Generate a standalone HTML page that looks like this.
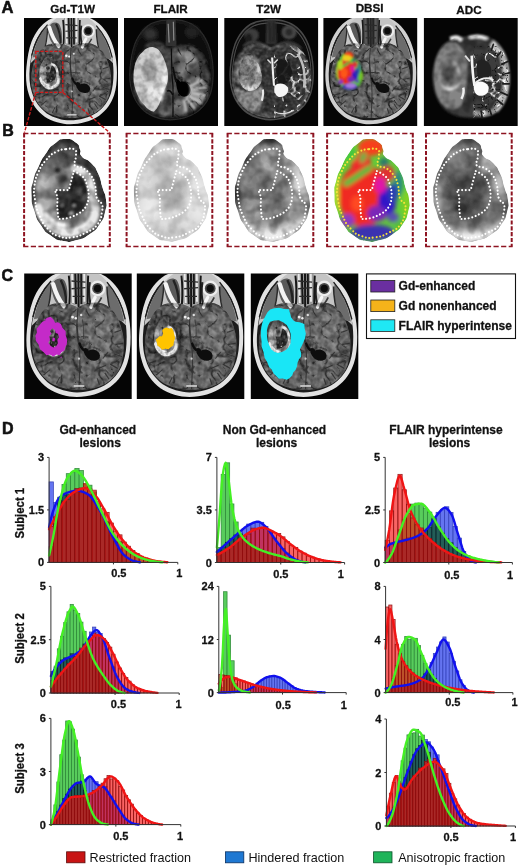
<!DOCTYPE html>
<html lang="en"><head><meta charset="utf-8"><title>Figure</title>
<style>html,body{margin:0;padding:0;background:#fff;}body{width:520px;height:866px;overflow:hidden;}svg{display:block;font-family:"Liberation Sans", Arial, Helvetica, sans-serif;fill:#111;}</style></head><body>
<svg width="520" height="866" viewBox="0 0 520 866">
<rect width="520" height="866" fill="#fff"/>
<defs>
<filter id="b05" x="-30%" y="-30%" width="160%" height="160%"><feGaussianBlur stdDeviation="0.5"/></filter>
<filter id="b1" x="-30%" y="-30%" width="160%" height="160%"><feGaussianBlur stdDeviation="1.0"/></filter>
<filter id="b2" x="-30%" y="-30%" width="160%" height="160%"><feGaussianBlur stdDeviation="2.0"/></filter>
<filter id="b3" x="-30%" y="-30%" width="160%" height="160%"><feGaussianBlur stdDeviation="3.0"/></filter>
<filter id="b5" x="-30%" y="-30%" width="160%" height="160%"><feGaussianBlur stdDeviation="5.0"/></filter>
<filter id="b8" x="-30%" y="-30%" width="160%" height="160%"><feGaussianBlur stdDeviation="8.0"/></filter>
<filter id="nz" x="0" y="0" width="100%" height="100%"><feTurbulence type="fractalNoise" baseFrequency="0.16" numOctaves="2" seed="3" result="t"/><feColorMatrix in="t" type="matrix" values="0 0 0 0 0  0 0 0 0 0  0 0 0 0 0  3.2 0 0 0 -1.25" result="a"/><feFlood flood-color="#fff" result="f"/><feComposite in="f" in2="a" operator="in" result="w"/><feComposite in="w" in2="SourceGraphic" operator="in"/></filter>
<filter id="nzd" x="0" y="0" width="100%" height="100%"><feTurbulence type="fractalNoise" baseFrequency="0.16" numOctaves="2" seed="23" result="t"/><feColorMatrix in="t" type="matrix" values="0 0 0 0 0  0 0 0 0 0  0 0 0 0 0  0 3.2 0 0 -1.25" result="a"/><feFlood flood-color="#000" result="f"/><feComposite in="f" in2="a" operator="in" result="w"/><feComposite in="w" in2="SourceGraphic" operator="in"/></filter>
<filter id="nz2" x="0" y="0" width="100%" height="100%"><feTurbulence type="fractalNoise" baseFrequency="0.09" numOctaves="2" seed="7" result="t"/><feColorMatrix in="t" type="matrix" values="0 0 0 0 0  0 0 0 0 0  0 0 0 0 0  3.2 0 0 0 -1.25" result="a"/><feFlood flood-color="#fff" result="f"/><feComposite in="f" in2="a" operator="in" result="w"/><feComposite in="w" in2="SourceGraphic" operator="in"/></filter>
<filter id="nz2d" x="0" y="0" width="100%" height="100%"><feTurbulence type="fractalNoise" baseFrequency="0.09" numOctaves="2" seed="27" result="t"/><feColorMatrix in="t" type="matrix" values="0 0 0 0 0  0 0 0 0 0  0 0 0 0 0  0 3.2 0 0 -1.25" result="a"/><feFlood flood-color="#000" result="f"/><feComposite in="f" in2="a" operator="in" result="w"/><feComposite in="w" in2="SourceGraphic" operator="in"/></filter>
<filter id="nz3" x="0" y="0" width="100%" height="100%"><feTurbulence type="fractalNoise" baseFrequency="0.3" numOctaves="1" seed="11" result="t"/><feColorMatrix in="t" type="matrix" values="0 0 0 0 0  0 0 0 0 0  0 0 0 0 0  3.2 0 0 0 -1.25" result="a"/><feFlood flood-color="#fff" result="f"/><feComposite in="f" in2="a" operator="in" result="w"/><feComposite in="w" in2="SourceGraphic" operator="in"/></filter>
<filter id="nz3d" x="0" y="0" width="100%" height="100%"><feTurbulence type="fractalNoise" baseFrequency="0.3" numOctaves="1" seed="31" result="t"/><feColorMatrix in="t" type="matrix" values="0 0 0 0 0  0 0 0 0 0  0 0 0 0 0  0 3.2 0 0 -1.25" result="a"/><feFlood flood-color="#000" result="f"/><feComposite in="f" in2="a" operator="in" result="w"/><feComposite in="w" in2="SourceGraphic" operator="in"/></filter>
<filter id="vd" x="0" y="0" width="100%" height="100%"><feTurbulence type="turbulence" baseFrequency="0.085" numOctaves="2" seed="4" result="t"/><feColorMatrix in="t" type="matrix" values="0 0 0 0 0  0 0 0 0 0  0 0 0 0 0  -6 0 0 0 1.15" result="a"/><feFlood flood-color="#000" result="f"/><feComposite in="f" in2="a" operator="in" result="w"/><feComposite in="w" in2="SourceGraphic" operator="in" result="x"/><feGaussianBlur in="x" stdDeviation="0.45"/></filter>
<filter id="vw" x="0" y="0" width="100%" height="100%"><feTurbulence type="turbulence" baseFrequency="0.075" numOctaves="2" seed="12" result="t"/><feColorMatrix in="t" type="matrix" values="0 0 0 0 0  0 0 0 0 0  0 0 0 0 0  -6.5 0 0 0 1.1" result="a"/><feFlood flood-color="#fff" result="f"/><feComposite in="f" in2="a" operator="in" result="w"/><feComposite in="w" in2="SourceGraphic" operator="in" result="x"/><feGaussianBlur in="x" stdDeviation="0.45"/></filter>
<filter id="vw2" x="0" y="0" width="100%" height="100%"><feTurbulence type="turbulence" baseFrequency="0.11" numOctaves="2" seed="5" result="t"/><feColorMatrix in="t" type="matrix" values="0 0 0 0 0  0 0 0 0 0  0 0 0 0 0  -7 0 0 0 1.0" result="a"/><feFlood flood-color="#fff" result="f"/><feComposite in="f" in2="a" operator="in" result="w"/><feComposite in="w" in2="SourceGraphic" operator="in" result="x"/><feGaussianBlur in="x" stdDeviation="0.45"/></filter>
<filter id="vd2" x="0" y="0" width="100%" height="100%"><feTurbulence type="turbulence" baseFrequency="0.13" numOctaves="2" seed="8" result="t"/><feColorMatrix in="t" type="matrix" values="0 0 0 0 0  0 0 0 0 0  0 0 0 0 0  -7 0 0 0 1.0" result="a"/><feFlood flood-color="#000" result="f"/><feComposite in="f" in2="a" operator="in" result="w"/><feComposite in="w" in2="SourceGraphic" operator="in" result="x"/><feGaussianBlur in="x" stdDeviation="0.45"/></filter>
<clipPath id="cprh"><path d="M53,30 L100,30 L100,110 L53,110 Z"/></clipPath>
<clipPath id="cpimg"><rect x="0" y="0" width="100" height="115"/></clipPath>
<clipPath id="cpbrain"><path d="M50,31 C56,27 66,25 74,28 C82,31 88,40 91,52 C94,62 93,74 90,84 C86,94 79,100 70,103.5 C63,106 56,106.5 49,106.5 C42,106.5 34,105 27,101.5 C19,97 13,90 10,81 C7,72 7,62 9,53 C11,43 16,34 24,29 C32,25 42,27 50,31 Z"/></clipPath>
<clipPath id="cphead"><path d="M52,-3 C62,-3 72,-1 80,6 C87,12 93,22 96,34 C98,42 99,50 99,58 C99,68 98,76 96,82 C93,91 88,98 80,104 C71,110 60,113 49,113 C40,113 30,110 22,105 C14,99 8,91 5,81 C2,72 1.5,62 2.5,52 C3.5,42 5,33 8,25 C12,15 18,7 26,2 C33,-2 44,-3 52,-3 Z"/></clipPath>
<symbol id="t1" viewBox="0 0 100 115" preserveAspectRatio="none" overflow="hidden">
<rect x="-2" y="-2" width="104" height="119" fill="#050505"/>
<g clip-path="url(#cpimg)">
<g filter="url(#b05)">
<path d="M52,-3 C62,-3 72,-1 80,6 C87,12 93,22 96,34 C98,42 99,50 99,58 C99,68 98,76 96,82 C93,91 88,98 80,104 C71,110 60,113 49,113 C40,113 30,110 22,105 C14,99 8,91 5,81 C2,72 1.5,62 2.5,52 C3.5,42 5,33 8,25 C12,15 18,7 26,2 C33,-2 44,-3 52,-3 Z" fill="#e2e2e2"/>
<path d="M52,-3 C62,-3 72,-1 80,6 C87,12 93,22 96,34 C98,42 99,50 99,58 C99,68 98,76 96,82 C93,91 88,98 80,104 C71,110 60,113 49,113 C40,113 30,110 22,105 C14,99 8,91 5,81 C2,72 1.5,62 2.5,52 C3.5,42 5,33 8,25 C12,15 18,7 26,2 C33,-2 44,-3 52,-3 Z" transform="translate(50,58) scale(0.925) translate(-50,-58)" fill="#1e1e1e"/>
<path d="M7,48 C10,28 20,8 38,-2 L66,-2 C82,8 92,28 95,48 C82,34 64,30 50,34 C36,30 20,34 7,48 Z" fill="#c4c4c4"/>
<path d="M9,42 C11,30 16,18 24,9 C26,17 23,28 19,40 Z" fill="#6c6c6c"/>
<path d="M93,44 C91,32 86,20 78,10 C76,18 79,30 83,42 Z" fill="#6c6c6c"/>
<path d="M8,40 C11,27 17,15 25,7 M94,42 C91,29 85,17 77,8" stroke="#1c1c1c" stroke-width="1.3" fill="none"/>
<path d="M20,40 C23,30 25,20 25,10 M82,42 C79,32 77,22 77,12" stroke="#2a2a2a" stroke-width="1.4" fill="none"/>
<path d="M50,31 C56,27 66,25 74,28 C82,31 88,40 91,52 C94,62 93,74 90,84 C86,94 79,100 70,103.5 C63,106 56,106.5 49,106.5 C42,106.5 34,105 27,101.5 C19,97 13,90 10,81 C7,72 7,62 9,53 C11,43 16,34 24,29 C32,25 42,27 50,31 Z" fill="#626262"/>
<path d="M26,10 C28,5 33,3 37,6 C40,10 41,18 40,25 C39,30 36,32 33,30 C29,27 27,22 26,17 C25,14 25,12 26,10 Z" fill="#5a5a5a"/>
<path d="M27,10 C29,17 32,24 37,30" stroke="#f4f4f4" stroke-width="4" fill="none" stroke-linecap="round"/>
<path d="M34,6 C37,12 39,19 39,27" stroke="#222" stroke-width="2.2" fill="none"/>
<circle cx="68.3" cy="13.8" r="7.2" fill="#ececec"/>
<circle cx="68.3" cy="13.8" r="5" fill="#4a4a4a"/>
<circle cx="68.3" cy="13.8" r="3.4" fill="#0e0e0e"/>
<path d="M61,8 C60,14 60,22 62,29" stroke="#222" stroke-width="2" fill="none"/>
<path d="M66,22 C64,25 63,28 62,31" stroke="#f6f6f6" stroke-width="3" fill="none" stroke-linecap="round"/>
<path d="M72,22 C70,26 68,29 65,31" stroke="#3a3a3a" stroke-width="1.6" fill="none"/>
<path d="M42.5,-2 L58.5,-2 L58.5,26 C55,31 46,31 42.5,26 Z" fill="#9a9a9a"/>
<path d="M44.5,0 L45.5,27 M55.8,0 L56,26" stroke="#e8e8e8" stroke-width="1.8" fill="none"/>
<path d="M47.5,0 L48.3,28 M53,0 L53.2,28 M50.4,-2 L50.6,31" stroke="#121212" stroke-width="1.8" fill="none"/>
<path d="M41.5,2 C42.5,10 42.5,20 42,28 M59.5,2 C59,12 59,20 59,28" stroke="#161616" stroke-width="1.8" fill="none"/>
<path d="M44,7 L57,8 M44,14 L57,13 M45,21 L56,21" stroke="#2c2c2c" stroke-width="1.3" fill="none"/>
</g>
<g clip-path="url(#cpbrain)"><g filter="url(#b2)">
<ellipse cx="72" cy="62" rx="14" ry="26" fill="#7e7e7e" opacity="0.8"/>
<ellipse cx="66" cy="94" rx="14" ry="8" fill="#787878" opacity="0.7"/>
<ellipse cx="32" cy="92" rx="16" ry="10" fill="#747474" opacity="0.7"/>
<ellipse cx="50" cy="48" rx="9" ry="12" fill="#7a7a7a" opacity="0.7"/>
<ellipse cx="27" cy="60" rx="17" ry="24" fill="#3c3c3c" opacity="0.85"/>
</g></g>
<g clip-path="url(#cpbrain)">
<rect x="0" y="0" width="100" height="115" fill="#fff" filter="url(#nz3)" opacity="0.16"/>
<rect x="0" y="0" width="100" height="115" fill="#000" filter="url(#nzd)" opacity="0.3"/>
</g>
<g clip-path="url(#cpbrain)">
<rect x="0" y="0" width="100" height="115" fill="#888" filter="url(#vd)" opacity="0.48"/>
</g>
<g filter="url(#b05)">
<path d="M50,32 C49,44 48,56 51,66 C53,80 51,96 51,106" stroke="#303030" stroke-width="1.1" fill="none" opacity="0.9"/>
<path d="M55,69 C56.5,67.5 59,68 60,70.5 C64,68 70,70.5 70.5,75 C70.5,79.5 65,81 61,79 C58,77.5 55,73.5 55,69 Z" fill="#0c0c0c"/>
<path d="M51.5,64 C52,66 53,68 55,70" stroke="#111" stroke-width="2.2" fill="none" stroke-linecap="round"/>
<path d="M49,46 C49.5,52 50,58 51,63" stroke="#2a2a2a" stroke-width="1.1" fill="none" opacity="0.8"/>
<path d="M54,42 C55.5,48 55.5,54 55,60" stroke="#333" stroke-width="1" fill="none" opacity="0.7"/>
</g>
<g filter="url(#b05)" stroke="#262626" stroke-width="1.1" fill="none" opacity="0.75">
<path d="M90,52 L84,54 M92,64 L85,65 M91,76 L84,74 M87,87 L80,83 M79,97 L75,91 M70,102 L68,96"/>
<path d="M78,72 L73,78 M76,84 L69,87 M12,82 L18,80 M18,93 L24,88 M30,101 L33,95"/>
</g>
<g filter="url(#b05)"><circle cx="45" cy="40" r="1.3" fill="#eee"/><circle cx="48" cy="41" r="1.1" fill="#eee"/><circle cx="53" cy="38" r="1.1" fill="#ddd"/><circle cx="51" cy="78" r="1" fill="#ccc"/><path d="M46,103 L56,103" stroke="#ddd" stroke-width="1.4"/></g>
<g opacity="1.0" filter="url(#b05)"><g transform="translate(12.6,35.6) scale(0.337,0.39)"><g clip-path="url(#cpegg)">
<path d="M41.2,5.5 C48.1,5.2 46.7,5.5 51.6,9.0 C56.5,12.5 53.9,11.3 55.9,15.9 C57.9,20.5 53.8,18.2 57.6,22.8 C61.4,27.4 61.7,24.0 67.2,29.8 C72.7,35.6 70.4,32.1 74.1,40.2 C77.8,48.3 75.8,45.4 78.4,54.0 C81.0,62.6 81.0,58.0 81.9,66.1 C82.8,74.2 83.0,70.1 81.0,78.2 C79.0,86.3 81.0,82.8 75.8,90.3 C70.6,97.8 73.5,95.2 65.4,100.7 C57.3,106.2 60.2,104.5 51.6,106.8 C43.0,109.1 47.6,109.0 39.5,107.6 C31.4,106.2 34.8,107.7 27.3,102.5 C19.8,97.3 22.8,100.8 17.0,92.1 C11.2,83.4 13.2,86.9 10.0,76.5 C6.8,66.1 7.7,70.7 7.4,60.9 C7.1,51.1 6.9,56.3 9.2,47.1 C11.5,37.9 10.1,42.4 14.4,33.2 C18.7,24.0 16.7,27.2 22.2,19.4 C27.7,11.6 24.5,14.5 30.8,9.9 C37.1,5.3 34.3,5.8 41.2,5.5 Z" fill="#2e2e2e"/>
<g filter="url(#b2)">
<path d="M42.1,15.6 C47.2,15.0 48.1,14.4 50.7,16.3 C53.3,18.2 51.8,18.6 51.8,22.8 C51.8,27.0 49.2,29.0 50.7,32.0 C52.2,35.0 53.7,31.9 57.6,34.1 C61.5,36.3 61.9,35.8 65.4,40.2 C68.9,44.6 68.7,44.0 70.6,50.5 C72.5,57.0 70.9,59.3 72.7,64.4 C74.5,69.5 75.8,65.9 77.2,69.6 C78.6,73.3 79.0,72.4 77.9,78.2 C76.8,84.0 77.4,85.7 73.2,91.2 C69.0,96.7 68.7,95.6 62.0,99.0 C55.3,102.4 55.3,102.8 48.1,103.8 C40.9,104.8 41.6,105.0 35.1,102.8 C28.6,100.6 29.2,101.1 23.9,95.5 C18.6,89.9 18.7,89.5 15.2,81.7 C11.7,73.9 12.2,73.9 10.9,66.1 C9.6,58.3 9.5,59.7 10.4,52.3 C11.3,44.9 11.3,45.3 14.4,38.4 C17.5,31.5 17.6,31.6 22.2,26.3 C26.8,21.0 26.4,21.4 31.7,18.5 C37.0,15.6 37.0,16.2 42.1,15.6 Z" fill="#858585"/>
<ellipse cx="38" cy="26" rx="13" ry="11" fill="#555555"/>
<ellipse cx="42" cy="20" rx="8" ry="5" fill="#3c3c3c"/>
<ellipse cx="27" cy="34" rx="6" ry="9" fill="#6a6a6a" transform="rotate(25 27 34)"/>
<ellipse cx="19" cy="50" rx="6" ry="9" fill="#b6b6b6"/>
<ellipse cx="30" cy="48" rx="5" ry="6" fill="#a0a0a0"/>
<ellipse cx="20" cy="70" rx="7" ry="9" fill="#a8a8a8"/>
<ellipse cx="27" cy="60" rx="4" ry="5" fill="#6e6e6e"/>
<ellipse cx="38" cy="45" rx="6" ry="5" fill="#343434"/>
</g>
<g filter="url(#b1)">
<path d="M14,74 C18,86 26,95 40,99 C52,100 64,94 69,86 C73,78 71,70 68,62 C67,54 66,47 59,40 C56,37 53,35.5 51,35" stroke="#e9e9e9" stroke-width="8.2" fill="none" stroke-linecap="round"/>
<path d="M22,80 C26,88 34,92 44,92" stroke="#f6f6f6" stroke-width="4" fill="none" stroke-linecap="round"/>
<ellipse cx="33.5" cy="36.5" rx="2.6" ry="2.6" fill="#1c1c1c"/>
<path d="M49.8,37.6 C53,39 55.5,40.5 57.6,42.2 C60,44 61.5,46.5 62,48.8 C63.5,53 64.6,57 64.6,60.9 C64.6,65 64,68.5 62.8,71.3 C61,75 58.5,77.5 55.9,79.1 C52,81.5 48.5,83.2 44.7,84.3 C41,85.2 37.5,85.6 34.3,85.5 L33.1,73 L33.4,63.5 L30.8,56.6 L44.7,56.6 L47.2,47.1 Z" fill="#242424"/>
<ellipse cx="47" cy="80" rx="2.2" ry="1.6" fill="#b0b0b0"/>
<ellipse cx="38" cy="72" rx="1.8" ry="1.6" fill="#7a7a7a"/>
<ellipse cx="50" cy="72" rx="1.8" ry="1.4" fill="#9a9a9a"/>
<ellipse cx="55" cy="58" rx="3" ry="5" fill="#3c3c3c"/>
</g>
<rect x="0" y="0" width="90" height="115" fill="#fff" filter="url(#nz2)" opacity="0.2"/><rect x="0" y="0" width="90" height="115" fill="#000" filter="url(#nz2d)" opacity="0.3"/>
</g></g></g>
</g></symbol>
<symbol id="flair" viewBox="0 0 100 115" preserveAspectRatio="none" overflow="hidden">
<rect x="-2" y="-2" width="104" height="119" fill="#050505"/>
<g clip-path="url(#cpimg)">
<g filter="url(#b05)">
<path d="M52,-3 C62,-3 72,-1 80,6 C87,12 93,22 96,34 C98,42 99,50 99,58 C99,68 98,76 96,82 C93,91 88,98 80,104 C71,110 60,113 49,113 C40,113 30,110 22,105 C14,99 8,91 5,81 C2,72 1.5,62 2.5,52 C3.5,42 5,33 8,25 C12,15 18,7 26,2 C33,-2 44,-3 52,-3 Z" transform="translate(50,56) scale(0.93) translate(-50,-56)" fill="#2a2a2a"/>
<path d="M52,-3 C62,-3 72,-1 80,6 C87,12 93,22 96,34 C98,42 99,50 99,58 C99,68 98,76 96,82 C93,91 88,98 80,104 C71,110 60,113 49,113 C40,113 30,110 22,105 C14,99 8,91 5,81 C2,72 1.5,62 2.5,52 C3.5,42 5,33 8,25 C12,15 18,7 26,2 C33,-2 44,-3 52,-3 Z" transform="translate(50,56) scale(0.905) translate(-50,-56)" fill="#141414"/>
<path d="M52,-3 C62,-3 72,-1 80,6 C87,12 93,22 96,34 C98,42 99,50 99,58 C99,68 98,76 96,82 C93,91 88,98 80,104 C71,110 60,113 49,113 C40,113 30,110 22,105 C14,99 8,91 5,81 C2,72 1.5,62 2.5,52 C3.5,42 5,33 8,25 C12,15 18,7 26,2 C33,-2 44,-3 52,-3 Z" transform="translate(50,57) scale(0.855) translate(-50,-57)" fill="#0a0a0a"/>
<ellipse cx="28" cy="17" rx="8" ry="7" fill="#303030" filter="url(#b2)"/>
<ellipse cx="72" cy="15" rx="8" ry="7" fill="#222" filter="url(#b2)"/>
<path d="M45,2 L55,2 L56,30 L44,30 Z" fill="#303030"/>
<path d="M47,6 L48,26 M52.5,4 L53,24" stroke="#8a8a8a" stroke-width="1.3"/>
</g>
<g filter="url(#b1)">
<path d="M50,31 C56,27 66,25 74,28 C82,31 88,40 91,52 C94,62 93,74 90,84 C86,94 79,100 70,103.5 C63,106 56,106.5 49,106.5 C42,106.5 34,105 27,101.5 C19,97 13,90 10,81 C7,72 7,62 9,53 C11,43 16,34 24,29 C32,25 42,27 50,31 Z" transform="translate(50,66) scale(0.95) translate(-50,-66)" fill="#484848"/>
<ellipse cx="33" cy="30" rx="11" ry="5" fill="#3a3a3a"/>
<path d="M56,38 C64,33 74,36 78,44 C74,50 66,50 60,46 Z" fill="#8e8e8e"/>
<ellipse cx="63" cy="54" rx="6" ry="9" fill="#808080"/>
<ellipse cx="76" cy="78" rx="12" ry="16" fill="#8a8a8a"/>
<ellipse cx="60" cy="94" rx="8" ry="8" fill="#6e6e6e"/>
<ellipse cx="84" cy="54" rx="4" ry="12" fill="#363636"/>
<ellipse cx="44" cy="98" rx="7" ry="7" fill="#5e5e5e"/>
</g>
<g clip-path="url(#cpbrain)">
<rect x="0" y="0" width="100" height="115" fill="#fff" filter="url(#nz)" opacity="0.1"/>
<rect x="0" y="0" width="100" height="115" fill="#000" filter="url(#nz2d)" opacity="0.3"/>
</g>
<g clip-path="url(#cpbrain)">
<g clip-path="url(#cprh)">
<rect x="0" y="0" width="100" height="115" fill="#888" filter="url(#vd)" opacity="0.6"/>
</g>
</g>
<g filter="url(#b05)">
<path d="M19.7,36 C23,32 28,30 31.7,31 C36,32 38,35 39.8,38 C42,42 44,46 44.8,50 C46,54 46.8,58 46.8,62.3 C46.8,66 46,70 44.8,72.5 C43.5,75 42,78 40.8,80.6 C39.5,84 39,88 37.8,90.7 C36,95 34,98 31.7,99.8 C28,99 24,96 21.7,92.7 C18,89 15.5,85 13.7,80.6 C11.5,75 10,70 10,64.4 C10,59 10.5,53 12,48.2 C13.5,43 16,39 19.7,36 Z" fill="#d2d2d2"/>
</g>
<g filter="url(#b1)">
<ellipse cx="27" cy="55" rx="8" ry="12" fill="#9a9a9a" opacity="0.85"/>
<path d="M43,54 C45,64 42,76 38,88" stroke="#f6f6f6" stroke-width="4.5" fill="none"/>
<ellipse cx="21" cy="84" rx="5" ry="8" fill="#b0b0b0" opacity="0.8"/>
<ellipse cx="30" cy="80" rx="6" ry="8" fill="#efefef" opacity="0.8"/>
</g>
<g clip-path="url(#cpbrain)"><rect x="8" y="28" width="42" height="76" fill="#000" filter="url(#nzd)" opacity="0.18"/></g>
<g filter="url(#b05)">
<path d="M55,66 C56,64 59,66 60,68 C64,66 70,70 71,76 C71,82 66,85 61,83 C57,81 56,74 55,66 Z" fill="#060606"/>
<path d="M52,52 C53,58 54,64 56,68" stroke="#0a0a0a" stroke-width="2" fill="none"/>
<path d="M50.5,32 C50.5,50 51,62 52,72 C52.5,84 52,96 52,105" stroke="#0c0c0c" stroke-width="1.3" fill="none"/>
<path d="M46,78 C48,76 50,78 52,82" stroke="#0c0c0c" stroke-width="1.6" fill="none"/>
</g>
<g filter="url(#b1)" stroke="#cfcfcf" stroke-width="2.3" fill="none" stroke-linecap="round">
<path d="M72,72 L82,66 M73,76 L86,74 M73,80 L86,82 M71,84 L82,90 M68,87 L75,96 M64,88 L66,99"/>
<path d="M70,70 C72,76 72,82 66,87" stroke-width="1.4"/>
</g>
</g></symbol>
<symbol id="t2" viewBox="0 0 100 115" preserveAspectRatio="none" overflow="hidden">
<rect x="-2" y="-2" width="104" height="119" fill="#050505"/>
<g clip-path="url(#cpimg)">
<g filter="url(#b05)">
<path d="M52,-3 C62,-3 72,-1 80,6 C87,12 93,22 96,34 C98,42 99,50 99,58 C99,68 98,76 96,82 C93,91 88,98 80,104 C71,110 60,113 49,113 C40,113 30,110 22,105 C14,99 8,91 5,81 C2,72 1.5,62 2.5,52 C3.5,42 5,33 8,25 C12,15 18,7 26,2 C33,-2 44,-3 52,-3 Z" transform="translate(50,56) scale(0.93) translate(-50,-56)" fill="#4a4a4a"/>
<path d="M52,-3 C62,-3 72,-1 80,6 C87,12 93,22 96,34 C98,42 99,50 99,58 C99,68 98,76 96,82 C93,91 88,98 80,104 C71,110 60,113 49,113 C40,113 30,110 22,105 C14,99 8,91 5,81 C2,72 1.5,62 2.5,52 C3.5,42 5,33 8,25 C12,15 18,7 26,2 C33,-2 44,-3 52,-3 Z" transform="translate(50,56) scale(0.9) translate(-50,-56)" fill="#101010"/>
<path d="M52,-3 C62,-3 72,-1 80,6 C87,12 93,22 96,34 C98,42 99,50 99,58 C99,68 98,76 96,82 C93,91 88,98 80,104 C71,110 60,113 49,113 C40,113 30,110 22,105 C14,99 8,91 5,81 C2,72 1.5,62 2.5,52 C3.5,42 5,33 8,25 C12,15 18,7 26,2 C33,-2 44,-3 52,-3 Z" transform="translate(50,57) scale(0.875) translate(-50,-57)" fill="#4e4e4e"/>
<path d="M52,-3 C62,-3 72,-1 80,6 C87,12 93,22 96,34 C98,42 99,50 99,58 C99,68 98,76 96,82 C93,91 88,98 80,104 C71,110 60,113 49,113 C40,113 30,110 22,105 C14,99 8,91 5,81 C2,72 1.5,62 2.5,52 C3.5,42 5,33 8,25 C12,15 18,7 26,2 C33,-2 44,-3 52,-3 Z" transform="translate(50,57) scale(0.855) translate(-50,-57)" fill="#0c0c0c"/>
<g filter="url(#b1)">
<ellipse cx="29" cy="18" rx="8" ry="7" fill="#3c3c3c"/>
<ellipse cx="26" cy="22" rx="4" ry="6" fill="#1c1c1c"/>
<ellipse cx="69" cy="15" rx="8" ry="7.5" fill="#4a4a4a"/>
<circle cx="69" cy="15" r="4" fill="#2a2a2a"/>
<path d="M45,2 L55,2 L56,28 L44,28 Z" fill="#343434"/>
<path d="M48,4 L49,26 M52.5,4 L52.5,26" stroke="#111" stroke-width="1.5"/>
<path d="M20,30 C28,24 38,24 46,32 M54,32 C62,24 72,24 82,32" stroke="#4c4c4c" stroke-width="2" fill="none"/>
</g>
</g>
<g filter="url(#b1)">
<path d="M50,31 C56,27 66,25 74,28 C82,31 88,40 91,52 C94,62 93,74 90,84 C86,94 79,100 70,103.5 C63,106 56,106.5 49,106.5 C42,106.5 34,105 27,101.5 C19,97 13,90 10,81 C7,72 7,62 9,53 C11,43 16,34 24,29 C32,25 42,27 50,31 Z" transform="translate(50,66) scale(0.95) translate(-50,-66)" fill="#303030"/>
<path d="M50,31 C56,27 66,25 74,28 C82,31 88,40 91,52 C94,62 93,74 90,84 C86,94 79,100 70,103.5 C63,106 56,106.5 49,106.5 C42,106.5 34,105 27,101.5 C19,97 13,90 10,81 C7,72 7,62 9,53 C11,43 16,34 24,29 C32,25 42,27 50,31 Z" transform="translate(50,66) scale(0.95) translate(-50,-66)" fill="none" stroke="#8a8a8a" stroke-width="1.4"/>
<path d="M25,39 C33,37 38,44 38,54 C39,64 36,72 28,75 C20,76 13,70 12.5,60 C12,50 16,41 25,39 Z" fill="#858585"/>
<ellipse cx="25" cy="57" rx="8" ry="11" fill="#5e5e5e"/>
<path d="M11.6,74 C20,80 32,80 40,72 C42,84 40,94 36,100 C26,100 14,90 11.6,74 Z" fill="#909090"/>
<path d="M56,46 C62,42 70,46 72,56 C72,66 66,72 58,70 C55,62 55,54 56,46 Z" fill="#121212"/>
</g>
<g clip-path="url(#cpbrain)">
<rect x="0" y="0" width="100" height="115" fill="#fff" filter="url(#nz3)" opacity="0.13"/>
<rect x="0" y="0" width="100" height="115" fill="#000" filter="url(#nzd)" opacity="0.3"/>
</g>
<g clip-path="url(#cpbrain)">
<g clip-path="url(#cprh)">
<rect x="0" y="0" width="100" height="115" fill="#888" filter="url(#vw)" opacity="0.85"/>
</g>
</g>
<g opacity="0.92" filter="url(#b05)"><g transform="translate(12.6,35.6) scale(0.337,0.39)"><g clip-path="url(#cpegg)">
<path d="M41.2,5.5 C48.1,5.2 46.7,5.5 51.6,9.0 C56.5,12.5 53.9,11.3 55.9,15.9 C57.9,20.5 53.8,18.2 57.6,22.8 C61.4,27.4 61.7,24.0 67.2,29.8 C72.7,35.6 70.4,32.1 74.1,40.2 C77.8,48.3 75.8,45.4 78.4,54.0 C81.0,62.6 81.0,58.0 81.9,66.1 C82.8,74.2 83.0,70.1 81.0,78.2 C79.0,86.3 81.0,82.8 75.8,90.3 C70.6,97.8 73.5,95.2 65.4,100.7 C57.3,106.2 60.2,104.5 51.6,106.8 C43.0,109.1 47.6,109.0 39.5,107.6 C31.4,106.2 34.8,107.7 27.3,102.5 C19.8,97.3 22.8,100.8 17.0,92.1 C11.2,83.4 13.2,86.9 10.0,76.5 C6.8,66.1 7.7,70.7 7.4,60.9 C7.1,51.1 6.9,56.3 9.2,47.1 C11.5,37.9 10.1,42.4 14.4,33.2 C18.7,24.0 16.7,27.2 22.2,19.4 C27.7,11.6 24.5,14.5 30.8,9.9 C37.1,5.3 34.3,5.8 41.2,5.5 Z" fill="#8a8a8a"/>
<g filter="url(#b3)">
<ellipse cx="30" cy="46" rx="13" ry="20" fill="#7c7c7c"/>
<ellipse cx="48" cy="66" rx="12" ry="14" fill="#747474"/>
<ellipse cx="40" cy="30" rx="8" ry="8" fill="#a8a8a8"/>
<path d="M12,84 C26,98 56,100 78,82 C82,94 60,112 40,110 C24,106 14,96 12,84 Z" fill="#ededed"/>
<ellipse cx="72" cy="54" rx="7" ry="20" fill="#dedede"/>
<ellipse cx="64" cy="32" rx="6" ry="6" fill="#c8c8c8"/>
<ellipse cx="40" cy="7" rx="14" ry="5" fill="#2e2e2e"/>
<ellipse cx="9" cy="60" rx="4.5" ry="16" fill="#303030"/>
<ellipse cx="20" cy="24" rx="5" ry="8" fill="#3c3c3c" transform="rotate(30 20 24)"/>
<ellipse cx="57" cy="36" rx="3" ry="4" fill="#2e2e2e"/>
<ellipse cx="84" cy="74" rx="3" ry="10" fill="#5a5a5a"/>
</g>
<rect x="0" y="0" width="90" height="115" fill="#fff" filter="url(#nz2)" opacity="0.2"/><rect x="0" y="0" width="90" height="115" fill="#000" filter="url(#nz2d)" opacity="0.32"/>
</g></g></g>
<g filter="url(#b05)">
<path d="M56,46 C62,42 70,46 72,56 C72,66 66,72 58,70 C55,62 55,54 56,46 Z" fill="#161616" opacity="0.9"/>
<path d="M78,38 C85,48 87,62 85,74" stroke="#bdbdbd" stroke-width="2.6" fill="none"/>
<path d="M54,72 C57,68 65,69 68,74 C69,80 64,85 58,84 C54,82 52,77 54,72 Z" fill="#f6f6f6"/>
<path d="M51,42 C51.5,52 52,62 53,72" stroke="#f0f0f0" stroke-width="2.2" fill="none"/>
<path d="M46,44 L50,48 M53,48 L57,44" stroke="#ddd" stroke-width="1.6" fill="none"/>
<path d="M41,76 C42,80 41,84 40,88" stroke="#e8e8e8" stroke-width="2.4" fill="none"/>
<path d="M54,100 C60,103 68,102 74,98" stroke="#ddd" stroke-width="1.4" fill="none"/>
</g>
</g></symbol>
<symbol id="dbsi" viewBox="0 0 100 115" preserveAspectRatio="none" overflow="hidden">
<rect x="-2" y="-2" width="104" height="119" fill="#050505"/>
<g clip-path="url(#cpimg)">
<g filter="url(#b05)">
<path d="M52,-3 C62,-3 72,-1 80,6 C87,12 93,22 96,34 C98,42 99,50 99,58 C99,68 98,76 96,82 C93,91 88,98 80,104 C71,110 60,113 49,113 C40,113 30,110 22,105 C14,99 8,91 5,81 C2,72 1.5,62 2.5,52 C3.5,42 5,33 8,25 C12,15 18,7 26,2 C33,-2 44,-3 52,-3 Z" fill="#cfcfcf"/>
<path d="M52,-3 C62,-3 72,-1 80,6 C87,12 93,22 96,34 C98,42 99,50 99,58 C99,68 98,76 96,82 C93,91 88,98 80,104 C71,110 60,113 49,113 C40,113 30,110 22,105 C14,99 8,91 5,81 C2,72 1.5,62 2.5,52 C3.5,42 5,33 8,25 C12,15 18,7 26,2 C33,-2 44,-3 52,-3 Z" transform="translate(50,58) scale(0.925) translate(-50,-58)" fill="#1e1e1e"/>
<path d="M7,48 C10,28 20,8 38,-2 L66,-2 C82,8 92,28 95,48 C82,34 64,30 50,34 C36,30 20,34 7,48 Z" fill="#c4c4c4"/>
<path d="M9,42 C11,30 16,18 24,9 C26,17 23,28 19,40 Z" fill="#6c6c6c"/>
<path d="M93,44 C91,32 86,20 78,10 C76,18 79,30 83,42 Z" fill="#6c6c6c"/>
<path d="M8,40 C11,27 17,15 25,7 M94,42 C91,29 85,17 77,8" stroke="#1c1c1c" stroke-width="1.3" fill="none"/>
<path d="M20,40 C23,30 25,20 25,10 M82,42 C79,32 77,22 77,12" stroke="#2a2a2a" stroke-width="1.4" fill="none"/>
<path d="M50,31 C56,27 66,25 74,28 C82,31 88,40 91,52 C94,62 93,74 90,84 C86,94 79,100 70,103.5 C63,106 56,106.5 49,106.5 C42,106.5 34,105 27,101.5 C19,97 13,90 10,81 C7,72 7,62 9,53 C11,43 16,34 24,29 C32,25 42,27 50,31 Z" fill="#686868"/>
<path d="M26,10 C28,5 33,3 37,6 C40,10 41,18 40,25 C39,30 36,32 33,30 C29,27 27,22 26,17 C25,14 25,12 26,10 Z" fill="#5a5a5a"/>
<path d="M27,10 C29,17 32,24 37,30" stroke="#f4f4f4" stroke-width="4" fill="none" stroke-linecap="round"/>
<path d="M34,6 C37,12 39,19 39,27" stroke="#222" stroke-width="2.2" fill="none"/>
<circle cx="68.3" cy="13.8" r="7.2" fill="#ececec"/>
<circle cx="68.3" cy="13.8" r="5" fill="#4a4a4a"/>
<circle cx="68.3" cy="13.8" r="3.4" fill="#0e0e0e"/>
<path d="M61,8 C60,14 60,22 62,29" stroke="#222" stroke-width="2" fill="none"/>
<path d="M66,22 C64,25 63,28 62,31" stroke="#f6f6f6" stroke-width="3" fill="none" stroke-linecap="round"/>
<path d="M72,22 C70,26 68,29 65,31" stroke="#3a3a3a" stroke-width="1.6" fill="none"/>
<path d="M42.5,-2 L58.5,-2 L58.5,26 C55,31 46,31 42.5,26 Z" fill="#9a9a9a"/>
<path d="M44.5,0 L45.5,27 M55.8,0 L56,26" stroke="#e8e8e8" stroke-width="1.8" fill="none"/>
<path d="M47.5,0 L48.3,28 M53,0 L53.2,28 M50.4,-2 L50.6,31" stroke="#121212" stroke-width="1.8" fill="none"/>
<path d="M41.5,2 C42.5,10 42.5,20 42,28 M59.5,2 C59,12 59,20 59,28" stroke="#161616" stroke-width="1.8" fill="none"/>
<path d="M44,7 L57,8 M44,14 L57,13 M45,21 L56,21" stroke="#2c2c2c" stroke-width="1.3" fill="none"/>
</g>
<path d="M42,-2 L59,-2 L59,26 C55,32 46,32 42,26 Z" fill="#2a2a2a" opacity="0.75" filter="url(#b05)"/>
<g clip-path="url(#cpbrain)"><g filter="url(#b2)">
<ellipse cx="72" cy="62" rx="14" ry="26" fill="#7e7e7e" opacity="0.8"/>
<ellipse cx="66" cy="94" rx="14" ry="8" fill="#787878" opacity="0.7"/>
<ellipse cx="32" cy="92" rx="16" ry="10" fill="#747474" opacity="0.7"/>
<ellipse cx="50" cy="48" rx="9" ry="12" fill="#7a7a7a" opacity="0.7"/>
<ellipse cx="27" cy="60" rx="17" ry="24" fill="#4a4a4a" opacity="0.8"/>
</g></g>
<g clip-path="url(#cpbrain)">
<rect x="0" y="0" width="100" height="115" fill="#fff" filter="url(#nz3)" opacity="0.16"/>
<rect x="0" y="0" width="100" height="115" fill="#000" filter="url(#nzd)" opacity="0.28"/>
</g>
<g clip-path="url(#cpbrain)">
<rect x="0" y="0" width="100" height="115" fill="#888" filter="url(#vd)" opacity="0.6"/>
</g>
<g filter="url(#b05)">
<path d="M50,32 C49,44 48,56 51,66 C53,80 51,96 51,106" stroke="#303030" stroke-width="1.1" fill="none" opacity="0.9"/>
<path d="M55,69 C56.5,67.5 59,68 60,70.5 C64,68 70,70.5 70.5,75 C70.5,79.5 65,81 61,79 C58,77.5 55,73.5 55,69 Z" fill="#0c0c0c"/>
<path d="M51.5,64 C52,66 53,68 55,70" stroke="#111" stroke-width="2.2" fill="none" stroke-linecap="round"/>
<path d="M49,46 C49.5,52 50,58 51,63" stroke="#2a2a2a" stroke-width="1.1" fill="none" opacity="0.8"/>
<path d="M54,42 C55.5,48 55.5,54 55,60" stroke="#333" stroke-width="1" fill="none" opacity="0.7"/>
</g>
<g filter="url(#b05)" stroke="#262626" stroke-width="1.1" fill="none" opacity="0.75">
<path d="M90,52 L84,54 M92,64 L85,65 M91,76 L84,74 M87,87 L80,83 M79,97 L75,91 M70,102 L68,96"/>
<path d="M78,72 L73,78 M76,84 L69,87 M12,82 L18,80 M18,93 L24,88 M30,101 L33,95"/>
</g>
<g opacity="0.95" filter="url(#b1)"><g transform="translate(10.5,33.5) scale(0.385,0.40)"><g clip-path="url(#cpegg)">
<path d="M41.2,5.5 C48.1,5.2 46.7,5.5 51.6,9.0 C56.5,12.5 53.9,11.3 55.9,15.9 C57.9,20.5 53.8,18.2 57.6,22.8 C61.4,27.4 61.7,24.0 67.2,29.8 C72.7,35.6 70.4,32.1 74.1,40.2 C77.8,48.3 75.8,45.4 78.4,54.0 C81.0,62.6 81.0,58.0 81.9,66.1 C82.8,74.2 83.0,70.1 81.0,78.2 C79.0,86.3 81.0,82.8 75.8,90.3 C70.6,97.8 73.5,95.2 65.4,100.7 C57.3,106.2 60.2,104.5 51.6,106.8 C43.0,109.1 47.6,109.0 39.5,107.6 C31.4,106.2 34.8,107.7 27.3,102.5 C19.8,97.3 22.8,100.8 17.0,92.1 C11.2,83.4 13.2,86.9 10.0,76.5 C6.8,66.1 7.7,70.7 7.4,60.9 C7.1,51.1 6.9,56.3 9.2,47.1 C11.5,37.9 10.1,42.4 14.4,33.2 C18.7,24.0 16.7,27.2 22.2,19.4 C27.7,11.6 24.5,14.5 30.8,9.9 C37.1,5.3 34.3,5.8 41.2,5.5 Z" fill="#62cc38"/>
<g filter="url(#b2)">
<ellipse cx="36" cy="62" rx="25" ry="31" fill="#f02a20"/>
<ellipse cx="44" cy="13.5" rx="13" ry="9" fill="#f6401a"/>
<ellipse cx="34" cy="31" rx="10" ry="12" fill="#ee2a2a"/>
<ellipse cx="50" cy="44" rx="8" ry="8" fill="#f0282a"/>
<ellipse cx="60" cy="40" rx="7" ry="8" fill="#e03030"/>
<ellipse cx="24" cy="21" rx="6" ry="7" fill="#44c83c"/>
<path d="M19,50 C26,46 34,40 42,35" stroke="#4cc040" stroke-width="6" fill="none" stroke-linecap="round"/>
<ellipse cx="36" cy="24" rx="3" ry="6" fill="#58b848" transform="rotate(20 36 24)"/>
<ellipse cx="71" cy="50" rx="5" ry="13" fill="#2a8a80"/>
<ellipse cx="57" cy="29" rx="5" ry="5" fill="#2a7a6a"/>
<ellipse cx="60" cy="68" rx="9" ry="14" fill="#3014c8"/>
<ellipse cx="66" cy="60" rx="5" ry="10" fill="#2a3cb0"/>
<ellipse cx="53.4" cy="52" rx="6" ry="8" fill="#e018a8"/>
<ellipse cx="50" cy="80" rx="10" ry="8" fill="#7a28b8"/>
<ellipse cx="45.6" cy="99" rx="22" ry="8" fill="#3a30b0"/>
<ellipse cx="20.5" cy="87" rx="7" ry="7" fill="#8a3ac0"/>
<ellipse cx="79.5" cy="71" rx="4" ry="14" fill="#84d024"/>
<ellipse cx="72.5" cy="91" rx="6" ry="6" fill="#58c030"/>
<ellipse cx="9" cy="60" rx="3" ry="22" fill="#a4e030"/>
<ellipse cx="30" cy="70" rx="6" ry="8" fill="#ff4a20"/>
<ellipse cx="66" cy="84" rx="6" ry="5" fill="#5a50b0"/>
</g>
</g></g></g>
<g filter="url(#b1)" opacity="0.9"><ellipse cx="25" cy="42.5" rx="5" ry="3.5" fill="#f2d81c"/><ellipse cx="18" cy="50" rx="3" ry="5" fill="#b8e020"/><ellipse cx="29" cy="72" rx="6" ry="3" fill="#b080e0"/><ellipse cx="22" cy="58" rx="4" ry="5" fill="#ff5a18"/></g>
</g></symbol>
<symbol id="adc" viewBox="0 0 100 115" preserveAspectRatio="none" overflow="hidden">
<rect x="-2" y="-2" width="104" height="119" fill="#050505"/>
<g clip-path="url(#cpimg)">
<clipPath id="cpadc"><path d="M50,20 C58,17 70,18 78,26 C86,34 90,48 90,62 C90,76 86,90 78,98 C70,105 60,106 50,106 C40,106 30,104 22,97 C14,89 10,78 9.6,66 C9.2,54 12,42 18,32 C24,23 38,18 50,20 Z"/></clipPath>
<g filter="url(#b1)">
<path d="M50,20 C58,17 70,18 78,26 C86,34 90,48 90,62 C90,76 86,90 78,98 C70,105 60,106 50,106 C40,106 30,104 22,97 C14,89 10,78 9.6,66 C9.2,54 12,42 18,32 C24,23 38,18 50,20 Z" fill="#3c3c3c"/>
<path d="M26,26 C36,24 44,34 46,48 C47,62 46,78 40,92 C34,100 24,98 18,90 C12,80 9.6,68 10,58 C11,44 16,30 26,26 Z" fill="#858585"/>
<ellipse cx="27" cy="54" rx="9" ry="11" fill="#5c5c5c"/>
<path d="M16,62 C20,74 32,76 40,64" stroke="#a0a0a0" stroke-width="2.4" fill="none"/>
<path d="M72,26 C83,34 88,48 88,64 C88,78 84,90 76,98" stroke="#c8c8c8" stroke-width="7" fill="none"/>
<path d="M54,100 C62,104 70,102 76,98" stroke="#c8c8c8" stroke-width="5" fill="none"/>
<path d="M28,22 C34,19 38,20 40,24 M48,21 C54,19 62,19 68,22" stroke="#eee" stroke-width="4" fill="none"/>
</g>
<g clip-path="url(#cpadc)">
<rect x="0" y="0" width="100" height="115" fill="#000" filter="url(#nz2d)" opacity="0.3"/>
<g clip-path="url(#cprh)"><rect x="0" y="0" width="100" height="115" fill="#888" filter="url(#vw)" opacity="0.95"/><rect x="0" y="0" width="100" height="115" fill="#888" filter="url(#vd2)" opacity="0.8"/></g>
</g>
<g opacity="0.9" filter="url(#b1)"><g transform="translate(12.6,35.6) scale(0.337,0.39)"><g clip-path="url(#cpegg)">
<path d="M41.2,5.5 C48.1,5.2 46.7,5.5 51.6,9.0 C56.5,12.5 53.9,11.3 55.9,15.9 C57.9,20.5 53.8,18.2 57.6,22.8 C61.4,27.4 61.7,24.0 67.2,29.8 C72.7,35.6 70.4,32.1 74.1,40.2 C77.8,48.3 75.8,45.4 78.4,54.0 C81.0,62.6 81.0,58.0 81.9,66.1 C82.8,74.2 83.0,70.1 81.0,78.2 C79.0,86.3 81.0,82.8 75.8,90.3 C70.6,97.8 73.5,95.2 65.4,100.7 C57.3,106.2 60.2,104.5 51.6,106.8 C43.0,109.1 47.6,109.0 39.5,107.6 C31.4,106.2 34.8,107.7 27.3,102.5 C19.8,97.3 22.8,100.8 17.0,92.1 C11.2,83.4 13.2,86.9 10.0,76.5 C6.8,66.1 7.7,70.7 7.4,60.9 C7.1,51.1 6.9,56.3 9.2,47.1 C11.5,37.9 10.1,42.4 14.4,33.2 C18.7,24.0 16.7,27.2 22.2,19.4 C27.7,11.6 24.5,14.5 30.8,9.9 C37.1,5.3 34.3,5.8 41.2,5.5 Z" fill="#6a6a6a"/>
<g filter="url(#b3)">
<ellipse cx="40" cy="56" rx="20" ry="26" fill="#4c4c4c"/>
<ellipse cx="36" cy="74" rx="10" ry="10" fill="#363636"/>
<ellipse cx="34" cy="34" rx="6" ry="8" fill="#7a7a7a"/>
<path d="M8,84 C26,100 58,104 80,84 C84,96 60,112 40,110 C22,106 12,96 8,84 Z" fill="#f2f2f2"/>
<ellipse cx="62" cy="30" rx="8" ry="7" fill="#cccccc"/>
<ellipse cx="73" cy="54" rx="6" ry="16" fill="#c8c8c8"/>
<ellipse cx="11" cy="66" rx="4" ry="16" fill="#c4c4c4"/>
<ellipse cx="26" cy="22" rx="8" ry="7" fill="#9a9a9a"/>
<ellipse cx="82" cy="78" rx="3" ry="12" fill="#3a3a3a"/>
<ellipse cx="42" cy="8" rx="10" ry="4" fill="#484848"/>
</g>
<rect x="0" y="0" width="90" height="115" fill="#fff" filter="url(#nz2)" opacity="0.16"/><rect x="0" y="0" width="90" height="115" fill="#000" filter="url(#nz2d)" opacity="0.25"/>
</g></g></g>
<g filter="url(#b05)">
<path d="M57,46 C63,42 71,46 72,55 C72,63 66,67 59,66 C56,60 56,52 57,46 Z" fill="#222"/>
<path d="M54,70 C57,66 66,67 69,73 C70,80 64,84 58,82.5 C54,81 52,75 54,70 Z" fill="#fcfcfc"/>
<path d="M51,40 C51.5,52 52,62 54,72" stroke="#f4f4f4" stroke-width="2.8" fill="none"/>
<path d="M54,70 C60,64 68,62 74,66" stroke="#eee" stroke-width="2" fill="none"/>
<path d="M42,74 C43,78 42,82 40,86" stroke="#eee" stroke-width="2.6" fill="none"/>
<path d="M44,40 L49,46" stroke="#ddd" stroke-width="2" fill="none"/>
</g>
<g filter="url(#b05)" stroke="#1c1c1c" stroke-width="1.8" fill="none" stroke-linecap="round">
<path d="M90,46 L83,49 M92,58 L84,60 M91,70 L84,70 M89,82 L82,79 M84,92 L78,87 M74,28 L72,34 M82,36 L78,41"/>
<path d="M72,103 L70,97 M62,106 L61,99"/>
</g>
</g></symbol>
<clipPath id="cpegg"><path d="M41.2,5.5 C48.1,5.2 46.7,5.5 51.6,9.0 C56.5,12.5 53.9,11.3 55.9,15.9 C57.9,20.5 53.8,18.2 57.6,22.8 C61.4,27.4 61.7,24.0 67.2,29.8 C72.7,35.6 70.4,32.1 74.1,40.2 C77.8,48.3 75.8,45.4 78.4,54.0 C81.0,62.6 81.0,58.0 81.9,66.1 C82.8,74.2 83.0,70.1 81.0,78.2 C79.0,86.3 81.0,82.8 75.8,90.3 C70.6,97.8 73.5,95.2 65.4,100.7 C57.3,106.2 60.2,104.5 51.6,106.8 C43.0,109.1 47.6,109.0 39.5,107.6 C31.4,106.2 34.8,107.7 27.3,102.5 C19.8,97.3 22.8,100.8 17.0,92.1 C11.2,83.4 13.2,86.9 10.0,76.5 C6.8,66.1 7.7,70.7 7.4,60.9 C7.1,51.1 6.9,56.3 9.2,47.1 C11.5,37.9 10.1,42.4 14.4,33.2 C18.7,24.0 16.7,27.2 22.2,19.4 C27.7,11.6 24.5,14.5 30.8,9.9 C37.1,5.3 34.3,5.8 41.2,5.5 Z"/></clipPath>
</defs>
<text x="1.6" y="13.0" font-size="16.6" font-weight="bold" text-anchor="start" stroke="#111" stroke-width="0.55" stroke-linejoin="round" >A</text>
<text x="2.2" y="136.3" font-size="16" font-weight="bold" text-anchor="start" stroke="#111" stroke-width="0.55" stroke-linejoin="round" >B</text>
<text x="1.6" y="280.6" font-size="16" font-weight="bold" text-anchor="start" stroke="#111" stroke-width="0.55" stroke-linejoin="round" >C</text>
<text x="2.0" y="434.4" font-size="16" font-weight="bold" text-anchor="start" stroke="#111" stroke-width="0.55" stroke-linejoin="round" >D</text>
<g id="rowA">
<text x="72.6" y="13.1" font-size="11.7" font-weight="bold" text-anchor="middle" stroke="#111" stroke-width="0.28" stroke-linejoin="round" >Gd-T1W</text>
<use href="#t1" x="24.1" y="18.1" width="93.8" height="108.0"/>
<text x="170.6" y="12.5" font-size="11.7" font-weight="bold" text-anchor="middle" stroke="#111" stroke-width="0.28" stroke-linejoin="round" >FLAIR</text>
<use href="#flair" x="124.1" y="18.1" width="93.8" height="108.0"/>
<text x="268.7" y="12.6" font-size="11.7" font-weight="bold" text-anchor="middle" stroke="#111" stroke-width="0.28" stroke-linejoin="round" >T2W</text>
<use href="#t2" x="224.3" y="18.1" width="93.8" height="108.0"/>
<text x="369.6" y="11.8" font-size="11.7" font-weight="bold" text-anchor="middle" stroke="#111" stroke-width="0.28" stroke-linejoin="round" >DBSI</text>
<use href="#dbsi" x="323.4" y="18.1" width="93.8" height="108.0"/>
<text x="469.0" y="13.8" font-size="11.7" font-weight="bold" text-anchor="middle" stroke="#111" stroke-width="0.28" stroke-linejoin="round" >ADC</text>
<use href="#adc" x="423.9" y="18.1" width="93.8" height="108.0"/>
<rect x="35.8" y="51.4" width="27" height="41" fill="none" stroke="#d01c1c" stroke-width="1.4" stroke-dasharray="3.2 1.4"/>
<path d="M35.8,92.4 L24.4,132.6 M62.8,92.4 L109.6,132.6" stroke="#c81a1a" stroke-width="1.4" stroke-dasharray="3.6 1.5" fill="none"/>
</g>
<g id="rowB">
<g transform="translate(24.1,133.5)">
<g clip-path="url(#cpegg)">
<path d="M41.2,5.5 C48.1,5.2 46.7,5.5 51.6,9.0 C56.5,12.5 53.9,11.3 55.9,15.9 C57.9,20.5 53.8,18.2 57.6,22.8 C61.4,27.4 61.7,24.0 67.2,29.8 C72.7,35.6 70.4,32.1 74.1,40.2 C77.8,48.3 75.8,45.4 78.4,54.0 C81.0,62.6 81.0,58.0 81.9,66.1 C82.8,74.2 83.0,70.1 81.0,78.2 C79.0,86.3 81.0,82.8 75.8,90.3 C70.6,97.8 73.5,95.2 65.4,100.7 C57.3,106.2 60.2,104.5 51.6,106.8 C43.0,109.1 47.6,109.0 39.5,107.6 C31.4,106.2 34.8,107.7 27.3,102.5 C19.8,97.3 22.8,100.8 17.0,92.1 C11.2,83.4 13.2,86.9 10.0,76.5 C6.8,66.1 7.7,70.7 7.4,60.9 C7.1,51.1 6.9,56.3 9.2,47.1 C11.5,37.9 10.1,42.4 14.4,33.2 C18.7,24.0 16.7,27.2 22.2,19.4 C27.7,11.6 24.5,14.5 30.8,9.9 C37.1,5.3 34.3,5.8 41.2,5.5 Z" fill="#2e2e2e"/>
<g filter="url(#b2)">
<path d="M42.1,15.6 C47.2,15.0 48.1,14.4 50.7,16.3 C53.3,18.2 51.8,18.6 51.8,22.8 C51.8,27.0 49.2,29.0 50.7,32.0 C52.2,35.0 53.7,31.9 57.6,34.1 C61.5,36.3 61.9,35.8 65.4,40.2 C68.9,44.6 68.7,44.0 70.6,50.5 C72.5,57.0 70.9,59.3 72.7,64.4 C74.5,69.5 75.8,65.9 77.2,69.6 C78.6,73.3 79.0,72.4 77.9,78.2 C76.8,84.0 77.4,85.7 73.2,91.2 C69.0,96.7 68.7,95.6 62.0,99.0 C55.3,102.4 55.3,102.8 48.1,103.8 C40.9,104.8 41.6,105.0 35.1,102.8 C28.6,100.6 29.2,101.1 23.9,95.5 C18.6,89.9 18.7,89.5 15.2,81.7 C11.7,73.9 12.2,73.9 10.9,66.1 C9.6,58.3 9.5,59.7 10.4,52.3 C11.3,44.9 11.3,45.3 14.4,38.4 C17.5,31.5 17.6,31.6 22.2,26.3 C26.8,21.0 26.4,21.4 31.7,18.5 C37.0,15.6 37.0,16.2 42.1,15.6 Z" fill="#858585"/>
<ellipse cx="38" cy="26" rx="13" ry="11" fill="#555555"/>
<ellipse cx="42" cy="20" rx="8" ry="5" fill="#3c3c3c"/>
<ellipse cx="27" cy="34" rx="6" ry="9" fill="#6a6a6a" transform="rotate(25 27 34)"/>
<ellipse cx="19" cy="50" rx="6" ry="9" fill="#b6b6b6"/>
<ellipse cx="30" cy="48" rx="5" ry="6" fill="#a0a0a0"/>
<ellipse cx="20" cy="70" rx="7" ry="9" fill="#a8a8a8"/>
<ellipse cx="27" cy="60" rx="4" ry="5" fill="#6e6e6e"/>
<ellipse cx="38" cy="45" rx="6" ry="5" fill="#343434"/>
</g>
<g filter="url(#b1)">
<path d="M14,74 C18,86 26,95 40,99 C52,100 64,94 69,86 C73,78 71,70 68,62 C67,54 66,47 59,40 C56,37 53,35.5 51,35" stroke="#e9e9e9" stroke-width="8.2" fill="none" stroke-linecap="round"/>
<path d="M22,80 C26,88 34,92 44,92" stroke="#f6f6f6" stroke-width="4" fill="none" stroke-linecap="round"/>
<ellipse cx="33.5" cy="36.5" rx="2.6" ry="2.6" fill="#1c1c1c"/>
<path d="M49.8,37.6 C53,39 55.5,40.5 57.6,42.2 C60,44 61.5,46.5 62,48.8 C63.5,53 64.6,57 64.6,60.9 C64.6,65 64,68.5 62.8,71.3 C61,75 58.5,77.5 55.9,79.1 C52,81.5 48.5,83.2 44.7,84.3 C41,85.2 37.5,85.6 34.3,85.5 L33.1,73 L33.4,63.5 L30.8,56.6 L44.7,56.6 L47.2,47.1 Z" fill="#242424"/>
<ellipse cx="47" cy="80" rx="2.2" ry="1.6" fill="#b0b0b0"/>
<ellipse cx="38" cy="72" rx="1.8" ry="1.6" fill="#7a7a7a"/>
<ellipse cx="50" cy="72" rx="1.8" ry="1.4" fill="#9a9a9a"/>
<ellipse cx="55" cy="58" rx="3" ry="5" fill="#3c3c3c"/>
</g>
<rect x="0" y="0" width="90" height="115" fill="#fff" filter="url(#nz2)" opacity="0.2"/><rect x="0" y="0" width="90" height="115" fill="#000" filter="url(#nz2d)" opacity="0.3"/>
</g>
<path d="M42.1,15.6 C47.2,15.0 48.1,14.4 50.7,16.3 C53.3,18.2 51.8,18.6 51.8,22.8 C51.8,27.0 49.2,29.0 50.7,32.0 C52.2,35.0 53.7,31.9 57.6,34.1 C61.5,36.3 61.9,35.8 65.4,40.2 C68.9,44.6 68.7,44.0 70.6,50.5 C72.5,57.0 70.9,59.3 72.7,64.4 C74.5,69.5 75.8,65.9 77.2,69.6 C78.6,73.3 79.0,72.4 77.9,78.2 C76.8,84.0 77.4,85.7 73.2,91.2 C69.0,96.7 68.7,95.6 62.0,99.0 C55.3,102.4 55.3,102.8 48.1,103.8 C40.9,104.8 41.6,105.0 35.1,102.8 C28.6,100.6 29.2,101.1 23.9,95.5 C18.6,89.9 18.7,89.5 15.2,81.7 C11.7,73.9 12.2,73.9 10.9,66.1 C9.6,58.3 9.5,59.7 10.4,52.3 C11.3,44.9 11.3,45.3 14.4,38.4 C17.5,31.5 17.6,31.6 22.2,26.3 C26.8,21.0 26.4,21.4 31.7,18.5 C37.0,15.6 37.0,16.2 42.1,15.6 Z" fill="none" stroke="#fff" stroke-width="2.1" stroke-dasharray="0.01 3.6" stroke-linecap="round" stroke-linejoin="round"/>
<path d="M49.8,37.6 C53,39 55.5,40.5 57.6,42.2 C60,44 61.5,46.5 62,48.8 C63.5,53 64.6,57 64.6,60.9 C64.6,65 64,68.5 62.8,71.3 C61,75 58.5,77.5 55.9,79.1 C52,81.5 48.5,83.2 44.7,84.3 C41,85.2 37.5,85.6 34.3,85.5 L33.1,73 L33.4,63.5 L30.8,56.6 L44.7,56.6 L47.2,47.1 Z" fill="none" stroke="#fff" stroke-width="2.1" stroke-dasharray="0.01 3.6" stroke-linecap="round" stroke-linejoin="round"/>
</g>
<path d="M23.200000000000003,133.5 L110.7,133.5 M23.200000000000003,246.4 L110.7,246.4" fill="none" stroke="#8e1422" stroke-width="1.45" stroke-dasharray="5.2 2.4"/>
<path d="M24.1,133.5 L24.1,246.4 M109.8,133.5 L109.8,246.4" fill="none" stroke="#8e1422" stroke-width="2.0" stroke-dasharray="4.1 1.7"/>
<g transform="translate(126.6,133.5)">
<g clip-path="url(#cpegg)">
<path d="M41.2,5.5 C48.1,5.2 46.7,5.5 51.6,9.0 C56.5,12.5 53.9,11.3 55.9,15.9 C57.9,20.5 53.8,18.2 57.6,22.8 C61.4,27.4 61.7,24.0 67.2,29.8 C72.7,35.6 70.4,32.1 74.1,40.2 C77.8,48.3 75.8,45.4 78.4,54.0 C81.0,62.6 81.0,58.0 81.9,66.1 C82.8,74.2 83.0,70.1 81.0,78.2 C79.0,86.3 81.0,82.8 75.8,90.3 C70.6,97.8 73.5,95.2 65.4,100.7 C57.3,106.2 60.2,104.5 51.6,106.8 C43.0,109.1 47.6,109.0 39.5,107.6 C31.4,106.2 34.8,107.7 27.3,102.5 C19.8,97.3 22.8,100.8 17.0,92.1 C11.2,83.4 13.2,86.9 10.0,76.5 C6.8,66.1 7.7,70.7 7.4,60.9 C7.1,51.1 6.9,56.3 9.2,47.1 C11.5,37.9 10.1,42.4 14.4,33.2 C18.7,24.0 16.7,27.2 22.2,19.4 C27.7,11.6 24.5,14.5 30.8,9.9 C37.1,5.3 34.3,5.8 41.2,5.5 Z" fill="#d8d8d8"/>
<g filter="url(#b3)">
<ellipse cx="47" cy="62" rx="13" ry="18" fill="#b2b2b2"/>
<ellipse cx="36" cy="34" rx="11" ry="12" fill="#c0c0c0"/>
<ellipse cx="22" cy="74" rx="9" ry="13" fill="#e8e8e8"/>
<ellipse cx="72" cy="66" rx="9" ry="22" fill="#e8e8e8"/>
<ellipse cx="42" cy="6" rx="12" ry="4" fill="#8c8c8c"/>
<ellipse cx="7" cy="58" rx="3" ry="10" fill="#8a8a8a"/>
<ellipse cx="24" cy="17" rx="4" ry="5" fill="#909090"/>
<ellipse cx="46" cy="100" rx="14" ry="5" fill="#bcbcbc"/>
<ellipse cx="31" cy="56" rx="3" ry="4" fill="#8e8e8e"/>
<ellipse cx="48" cy="80" rx="6" ry="4" fill="#e6e6e6"/>
<ellipse cx="42" cy="70" rx="5" ry="5" fill="#9c9c9c"/>
<ellipse cx="38" cy="28" rx="4" ry="4" fill="#a2a2a2"/>
</g>
<rect x="0" y="0" width="90" height="115" fill="#fff" filter="url(#nz2)" opacity="0.2"/><rect x="0" y="0" width="90" height="115" fill="#000" filter="url(#nz2d)" opacity="0.12"/>
</g>
<path d="M42.1,15.6 C47.2,15.0 48.1,14.4 50.7,16.3 C53.3,18.2 51.8,18.6 51.8,22.8 C51.8,27.0 49.2,29.0 50.7,32.0 C52.2,35.0 53.7,31.9 57.6,34.1 C61.5,36.3 61.9,35.8 65.4,40.2 C68.9,44.6 68.7,44.0 70.6,50.5 C72.5,57.0 70.9,59.3 72.7,64.4 C74.5,69.5 75.8,65.9 77.2,69.6 C78.6,73.3 79.0,72.4 77.9,78.2 C76.8,84.0 77.4,85.7 73.2,91.2 C69.0,96.7 68.7,95.6 62.0,99.0 C55.3,102.4 55.3,102.8 48.1,103.8 C40.9,104.8 41.6,105.0 35.1,102.8 C28.6,100.6 29.2,101.1 23.9,95.5 C18.6,89.9 18.7,89.5 15.2,81.7 C11.7,73.9 12.2,73.9 10.9,66.1 C9.6,58.3 9.5,59.7 10.4,52.3 C11.3,44.9 11.3,45.3 14.4,38.4 C17.5,31.5 17.6,31.6 22.2,26.3 C26.8,21.0 26.4,21.4 31.7,18.5 C37.0,15.6 37.0,16.2 42.1,15.6 Z" fill="none" stroke="#fff" stroke-width="2.1" stroke-dasharray="0.01 3.6" stroke-linecap="round" stroke-linejoin="round"/>
<path d="M49.8,37.6 C53,39 55.5,40.5 57.6,42.2 C60,44 61.5,46.5 62,48.8 C63.5,53 64.6,57 64.6,60.9 C64.6,65 64,68.5 62.8,71.3 C61,75 58.5,77.5 55.9,79.1 C52,81.5 48.5,83.2 44.7,84.3 C41,85.2 37.5,85.6 34.3,85.5 L33.1,73 L33.4,63.5 L30.8,56.6 L44.7,56.6 L47.2,47.1 Z" fill="none" stroke="#fff" stroke-width="2.1" stroke-dasharray="0.01 3.6" stroke-linecap="round" stroke-linejoin="round"/>
</g>
<path d="M125.69999999999999,133.5 L213.20000000000002,133.5 M125.69999999999999,246.4 L213.20000000000002,246.4" fill="none" stroke="#8e1422" stroke-width="1.45" stroke-dasharray="5.2 2.4"/>
<path d="M126.6,133.5 L126.6,246.4 M212.3,133.5 L212.3,246.4" fill="none" stroke="#8e1422" stroke-width="2.0" stroke-dasharray="4.1 1.7"/>
<g transform="translate(227.6,133.5)">
<g clip-path="url(#cpegg)">
<path d="M41.2,5.5 C48.1,5.2 46.7,5.5 51.6,9.0 C56.5,12.5 53.9,11.3 55.9,15.9 C57.9,20.5 53.8,18.2 57.6,22.8 C61.4,27.4 61.7,24.0 67.2,29.8 C72.7,35.6 70.4,32.1 74.1,40.2 C77.8,48.3 75.8,45.4 78.4,54.0 C81.0,62.6 81.0,58.0 81.9,66.1 C82.8,74.2 83.0,70.1 81.0,78.2 C79.0,86.3 81.0,82.8 75.8,90.3 C70.6,97.8 73.5,95.2 65.4,100.7 C57.3,106.2 60.2,104.5 51.6,106.8 C43.0,109.1 47.6,109.0 39.5,107.6 C31.4,106.2 34.8,107.7 27.3,102.5 C19.8,97.3 22.8,100.8 17.0,92.1 C11.2,83.4 13.2,86.9 10.0,76.5 C6.8,66.1 7.7,70.7 7.4,60.9 C7.1,51.1 6.9,56.3 9.2,47.1 C11.5,37.9 10.1,42.4 14.4,33.2 C18.7,24.0 16.7,27.2 22.2,19.4 C27.7,11.6 24.5,14.5 30.8,9.9 C37.1,5.3 34.3,5.8 41.2,5.5 Z" fill="#8a8a8a"/>
<g filter="url(#b3)">
<ellipse cx="30" cy="46" rx="13" ry="20" fill="#7c7c7c"/>
<ellipse cx="48" cy="66" rx="12" ry="14" fill="#747474"/>
<ellipse cx="40" cy="30" rx="8" ry="8" fill="#a8a8a8"/>
<path d="M12,84 C26,98 56,100 78,82 C82,94 60,112 40,110 C24,106 14,96 12,84 Z" fill="#ededed"/>
<ellipse cx="72" cy="54" rx="7" ry="20" fill="#dedede"/>
<ellipse cx="64" cy="32" rx="6" ry="6" fill="#c8c8c8"/>
<ellipse cx="40" cy="7" rx="14" ry="5" fill="#2e2e2e"/>
<ellipse cx="9" cy="60" rx="4.5" ry="16" fill="#303030"/>
<ellipse cx="20" cy="24" rx="5" ry="8" fill="#3c3c3c" transform="rotate(30 20 24)"/>
<ellipse cx="57" cy="36" rx="3" ry="4" fill="#2e2e2e"/>
<ellipse cx="84" cy="74" rx="3" ry="10" fill="#5a5a5a"/>
</g>
<rect x="0" y="0" width="90" height="115" fill="#fff" filter="url(#nz2)" opacity="0.2"/><rect x="0" y="0" width="90" height="115" fill="#000" filter="url(#nz2d)" opacity="0.32"/>
</g>
<path d="M42.1,15.6 C47.2,15.0 48.1,14.4 50.7,16.3 C53.3,18.2 51.8,18.6 51.8,22.8 C51.8,27.0 49.2,29.0 50.7,32.0 C52.2,35.0 53.7,31.9 57.6,34.1 C61.5,36.3 61.9,35.8 65.4,40.2 C68.9,44.6 68.7,44.0 70.6,50.5 C72.5,57.0 70.9,59.3 72.7,64.4 C74.5,69.5 75.8,65.9 77.2,69.6 C78.6,73.3 79.0,72.4 77.9,78.2 C76.8,84.0 77.4,85.7 73.2,91.2 C69.0,96.7 68.7,95.6 62.0,99.0 C55.3,102.4 55.3,102.8 48.1,103.8 C40.9,104.8 41.6,105.0 35.1,102.8 C28.6,100.6 29.2,101.1 23.9,95.5 C18.6,89.9 18.7,89.5 15.2,81.7 C11.7,73.9 12.2,73.9 10.9,66.1 C9.6,58.3 9.5,59.7 10.4,52.3 C11.3,44.9 11.3,45.3 14.4,38.4 C17.5,31.5 17.6,31.6 22.2,26.3 C26.8,21.0 26.4,21.4 31.7,18.5 C37.0,15.6 37.0,16.2 42.1,15.6 Z" fill="none" stroke="#fff" stroke-width="2.1" stroke-dasharray="0.01 3.6" stroke-linecap="round" stroke-linejoin="round"/>
<path d="M49.8,37.6 C53,39 55.5,40.5 57.6,42.2 C60,44 61.5,46.5 62,48.8 C63.5,53 64.6,57 64.6,60.9 C64.6,65 64,68.5 62.8,71.3 C61,75 58.5,77.5 55.9,79.1 C52,81.5 48.5,83.2 44.7,84.3 C41,85.2 37.5,85.6 34.3,85.5 L33.1,73 L33.4,63.5 L30.8,56.6 L44.7,56.6 L47.2,47.1 Z" fill="none" stroke="#fff" stroke-width="2.1" stroke-dasharray="0.01 3.6" stroke-linecap="round" stroke-linejoin="round"/>
</g>
<path d="M226.7,133.5 L314.2,133.5 M226.7,246.4 L314.2,246.4" fill="none" stroke="#8e1422" stroke-width="1.45" stroke-dasharray="5.2 2.4"/>
<path d="M227.6,133.5 L227.6,246.4 M313.3,133.5 L313.3,246.4" fill="none" stroke="#8e1422" stroke-width="2.0" stroke-dasharray="4.1 1.7"/>
<g transform="translate(327.1,133.5)">
<g clip-path="url(#cpegg)">
<path d="M41.2,5.5 C48.1,5.2 46.7,5.5 51.6,9.0 C56.5,12.5 53.9,11.3 55.9,15.9 C57.9,20.5 53.8,18.2 57.6,22.8 C61.4,27.4 61.7,24.0 67.2,29.8 C72.7,35.6 70.4,32.1 74.1,40.2 C77.8,48.3 75.8,45.4 78.4,54.0 C81.0,62.6 81.0,58.0 81.9,66.1 C82.8,74.2 83.0,70.1 81.0,78.2 C79.0,86.3 81.0,82.8 75.8,90.3 C70.6,97.8 73.5,95.2 65.4,100.7 C57.3,106.2 60.2,104.5 51.6,106.8 C43.0,109.1 47.6,109.0 39.5,107.6 C31.4,106.2 34.8,107.7 27.3,102.5 C19.8,97.3 22.8,100.8 17.0,92.1 C11.2,83.4 13.2,86.9 10.0,76.5 C6.8,66.1 7.7,70.7 7.4,60.9 C7.1,51.1 6.9,56.3 9.2,47.1 C11.5,37.9 10.1,42.4 14.4,33.2 C18.7,24.0 16.7,27.2 22.2,19.4 C27.7,11.6 24.5,14.5 30.8,9.9 C37.1,5.3 34.3,5.8 41.2,5.5 Z" fill="#62cc38"/>
<g filter="url(#b2)">
<ellipse cx="36" cy="62" rx="25" ry="31" fill="#f02a20"/>
<ellipse cx="44" cy="13.5" rx="13" ry="9" fill="#f6401a"/>
<ellipse cx="34" cy="31" rx="10" ry="12" fill="#ee2a2a"/>
<ellipse cx="50" cy="44" rx="8" ry="8" fill="#f0282a"/>
<ellipse cx="60" cy="40" rx="7" ry="8" fill="#e03030"/>
<ellipse cx="24" cy="21" rx="6" ry="7" fill="#44c83c"/>
<path d="M19,50 C26,46 34,40 42,35" stroke="#4cc040" stroke-width="6" fill="none" stroke-linecap="round"/>
<ellipse cx="36" cy="24" rx="3" ry="6" fill="#58b848" transform="rotate(20 36 24)"/>
<ellipse cx="71" cy="50" rx="5" ry="13" fill="#2a8a80"/>
<ellipse cx="57" cy="29" rx="5" ry="5" fill="#2a7a6a"/>
<ellipse cx="60" cy="68" rx="9" ry="14" fill="#3014c8"/>
<ellipse cx="66" cy="60" rx="5" ry="10" fill="#2a3cb0"/>
<ellipse cx="53.4" cy="52" rx="6" ry="8" fill="#e018a8"/>
<ellipse cx="50" cy="80" rx="10" ry="8" fill="#7a28b8"/>
<ellipse cx="45.6" cy="99" rx="22" ry="8" fill="#3a30b0"/>
<ellipse cx="20.5" cy="87" rx="7" ry="7" fill="#8a3ac0"/>
<ellipse cx="79.5" cy="71" rx="4" ry="14" fill="#84d024"/>
<ellipse cx="72.5" cy="91" rx="6" ry="6" fill="#58c030"/>
<ellipse cx="9" cy="60" rx="3" ry="22" fill="#a4e030"/>
<ellipse cx="30" cy="70" rx="6" ry="8" fill="#ff4a20"/>
<ellipse cx="66" cy="84" rx="6" ry="5" fill="#5a50b0"/>
</g>
</g>
<path d="M42.1,15.6 C47.2,15.0 48.1,14.4 50.7,16.3 C53.3,18.2 51.8,18.6 51.8,22.8 C51.8,27.0 49.2,29.0 50.7,32.0 C52.2,35.0 53.7,31.9 57.6,34.1 C61.5,36.3 61.9,35.8 65.4,40.2 C68.9,44.6 68.7,44.0 70.6,50.5 C72.5,57.0 70.9,59.3 72.7,64.4 C74.5,69.5 75.8,65.9 77.2,69.6 C78.6,73.3 79.0,72.4 77.9,78.2 C76.8,84.0 77.4,85.7 73.2,91.2 C69.0,96.7 68.7,95.6 62.0,99.0 C55.3,102.4 55.3,102.8 48.1,103.8 C40.9,104.8 41.6,105.0 35.1,102.8 C28.6,100.6 29.2,101.1 23.9,95.5 C18.6,89.9 18.7,89.5 15.2,81.7 C11.7,73.9 12.2,73.9 10.9,66.1 C9.6,58.3 9.5,59.7 10.4,52.3 C11.3,44.9 11.3,45.3 14.4,38.4 C17.5,31.5 17.6,31.6 22.2,26.3 C26.8,21.0 26.4,21.4 31.7,18.5 C37.0,15.6 37.0,16.2 42.1,15.6 Z" fill="none" stroke="#f4e23a" stroke-width="2.1" stroke-dasharray="0.01 3.6" stroke-linecap="round" stroke-linejoin="round"/>
<path d="M49.8,37.6 C53,39 55.5,40.5 57.6,42.2 C60,44 61.5,46.5 62,48.8 C63.5,53 64.6,57 64.6,60.9 C64.6,65 64,68.5 62.8,71.3 C61,75 58.5,77.5 55.9,79.1 C52,81.5 48.5,83.2 44.7,84.3 C41,85.2 37.5,85.6 34.3,85.5 L33.1,73 L33.4,63.5 L30.8,56.6 L44.7,56.6 L47.2,47.1 Z" fill="none" stroke="#fff" stroke-width="2.1" stroke-dasharray="0.01 3.6" stroke-linecap="round" stroke-linejoin="round"/>
</g>
<path d="M326.20000000000005,133.5 L413.7,133.5 M326.20000000000005,246.4 L413.7,246.4" fill="none" stroke="#8e1422" stroke-width="1.45" stroke-dasharray="5.2 2.4"/>
<path d="M327.1,133.5 L327.1,246.4 M412.8,133.5 L412.8,246.4" fill="none" stroke="#8e1422" stroke-width="2.0" stroke-dasharray="4.1 1.7"/>
<g transform="translate(426.0,133.5)">
<g clip-path="url(#cpegg)">
<path d="M41.2,5.5 C48.1,5.2 46.7,5.5 51.6,9.0 C56.5,12.5 53.9,11.3 55.9,15.9 C57.9,20.5 53.8,18.2 57.6,22.8 C61.4,27.4 61.7,24.0 67.2,29.8 C72.7,35.6 70.4,32.1 74.1,40.2 C77.8,48.3 75.8,45.4 78.4,54.0 C81.0,62.6 81.0,58.0 81.9,66.1 C82.8,74.2 83.0,70.1 81.0,78.2 C79.0,86.3 81.0,82.8 75.8,90.3 C70.6,97.8 73.5,95.2 65.4,100.7 C57.3,106.2 60.2,104.5 51.6,106.8 C43.0,109.1 47.6,109.0 39.5,107.6 C31.4,106.2 34.8,107.7 27.3,102.5 C19.8,97.3 22.8,100.8 17.0,92.1 C11.2,83.4 13.2,86.9 10.0,76.5 C6.8,66.1 7.7,70.7 7.4,60.9 C7.1,51.1 6.9,56.3 9.2,47.1 C11.5,37.9 10.1,42.4 14.4,33.2 C18.7,24.0 16.7,27.2 22.2,19.4 C27.7,11.6 24.5,14.5 30.8,9.9 C37.1,5.3 34.3,5.8 41.2,5.5 Z" fill="#6a6a6a"/>
<g filter="url(#b3)">
<ellipse cx="40" cy="56" rx="20" ry="26" fill="#4c4c4c"/>
<ellipse cx="36" cy="74" rx="10" ry="10" fill="#363636"/>
<ellipse cx="34" cy="34" rx="6" ry="8" fill="#7a7a7a"/>
<path d="M8,84 C26,100 58,104 80,84 C84,96 60,112 40,110 C22,106 12,96 8,84 Z" fill="#f2f2f2"/>
<ellipse cx="62" cy="30" rx="8" ry="7" fill="#cccccc"/>
<ellipse cx="73" cy="54" rx="6" ry="16" fill="#c8c8c8"/>
<ellipse cx="11" cy="66" rx="4" ry="16" fill="#c4c4c4"/>
<ellipse cx="26" cy="22" rx="8" ry="7" fill="#9a9a9a"/>
<ellipse cx="82" cy="78" rx="3" ry="12" fill="#3a3a3a"/>
<ellipse cx="42" cy="8" rx="10" ry="4" fill="#484848"/>
</g>
<rect x="0" y="0" width="90" height="115" fill="#fff" filter="url(#nz2)" opacity="0.16"/><rect x="0" y="0" width="90" height="115" fill="#000" filter="url(#nz2d)" opacity="0.25"/>
</g>
<path d="M42.1,15.6 C47.2,15.0 48.1,14.4 50.7,16.3 C53.3,18.2 51.8,18.6 51.8,22.8 C51.8,27.0 49.2,29.0 50.7,32.0 C52.2,35.0 53.7,31.9 57.6,34.1 C61.5,36.3 61.9,35.8 65.4,40.2 C68.9,44.6 68.7,44.0 70.6,50.5 C72.5,57.0 70.9,59.3 72.7,64.4 C74.5,69.5 75.8,65.9 77.2,69.6 C78.6,73.3 79.0,72.4 77.9,78.2 C76.8,84.0 77.4,85.7 73.2,91.2 C69.0,96.7 68.7,95.6 62.0,99.0 C55.3,102.4 55.3,102.8 48.1,103.8 C40.9,104.8 41.6,105.0 35.1,102.8 C28.6,100.6 29.2,101.1 23.9,95.5 C18.6,89.9 18.7,89.5 15.2,81.7 C11.7,73.9 12.2,73.9 10.9,66.1 C9.6,58.3 9.5,59.7 10.4,52.3 C11.3,44.9 11.3,45.3 14.4,38.4 C17.5,31.5 17.6,31.6 22.2,26.3 C26.8,21.0 26.4,21.4 31.7,18.5 C37.0,15.6 37.0,16.2 42.1,15.6 Z" fill="none" stroke="#fff" stroke-width="2.1" stroke-dasharray="0.01 3.6" stroke-linecap="round" stroke-linejoin="round"/>
<path d="M49.8,37.6 C53,39 55.5,40.5 57.6,42.2 C60,44 61.5,46.5 62,48.8 C63.5,53 64.6,57 64.6,60.9 C64.6,65 64,68.5 62.8,71.3 C61,75 58.5,77.5 55.9,79.1 C52,81.5 48.5,83.2 44.7,84.3 C41,85.2 37.5,85.6 34.3,85.5 L33.1,73 L33.4,63.5 L30.8,56.6 L44.7,56.6 L47.2,47.1 Z" fill="none" stroke="#fff" stroke-width="2.1" stroke-dasharray="0.01 3.6" stroke-linecap="round" stroke-linejoin="round"/>
</g>
<path d="M425.1,133.5 L512.6,133.5 M425.1,246.4 L512.6,246.4" fill="none" stroke="#8e1422" stroke-width="1.45" stroke-dasharray="5.2 2.4"/>
<path d="M426.0,133.5 L426.0,246.4 M511.7,133.5 L511.7,246.4" fill="none" stroke="#8e1422" stroke-width="2.0" stroke-dasharray="4.1 1.7"/>
</g>
<g id="rowC">
<svg x="24.2" y="273.4" width="107.5" height="125.7" viewBox="0 0 100 115" preserveAspectRatio="none" overflow="hidden">
<use href="#t1" x="0" y="0" width="100" height="115"/>
<g transform="translate(25.5,58) scale(1.06,1.1) translate(-25.5,-56.6)">
<path d="M17.3,44 L20,43 L21,41 L24.5,40 L27,42 L28.6,45 L31,44.5 L33.7,46 L35,49 L37.8,52 L38,56 L39.2,59 L38.8,63 L37.5,65 L36.7,68 L34,69.5 L32.5,72 L30,71.4 L27,73 L24,71.4 L21,72 L18.5,69.5 L15.3,67 L14,63 L11.8,60 L11.2,56 L12.6,53 L12.2,50 L14.5,47.5 Z M26,49.5 L24,52 L25.5,54 L23.5,56 L24,59 L22.5,61.5 L24.5,64 L27,65.5 L29.5,64.5 L31,62 L30.5,59 L32,57 L31,54 L29,53.5 L28.5,51 Z" fill="#c42ac8" fill-rule="evenodd"/>
<path d="M26.5,57 L28.5,58 L28,60.5 L26,60 Z M19,41.5 L20.5,42 L19.5,43 Z M33,73.5 L34.5,73 L34,74.5 Z" fill="#c42ac8"/>
</g>
</svg>
<svg x="136.8" y="273.4" width="107.5" height="125.7" viewBox="0 0 100 115" preserveAspectRatio="none" overflow="hidden">
<use href="#t1" x="0" y="0" width="100" height="115"/>
<path d="M25,50.5 L27.5,49.5 L30,50.5 L32.5,50 L34,52.5 L34.8,56 L35.6,59 L34.6,62.5 L34,66 L31.5,67.5 L29.5,69.5 L26.5,69 L23.5,69.8 L21.5,67.5 L19.2,66 L18.6,63 L17.6,60.5 L19.5,59 L21,57.5 L23.5,57.5 L24.5,55 L23.6,52.5 Z" fill="#ffc400"/>
</svg>
<svg x="250.8" y="273.4" width="107.5" height="125.7" viewBox="0 0 100 115" preserveAspectRatio="none" overflow="hidden">
<use href="#t1" x="0" y="0" width="100" height="115"/>
<path d="M18,33.1 L22,31.8 L26.2,31.5 L31,32.5 L35.5,32.7 L36.5,36.5 L37.5,40.2 L39.5,42.8 L41.6,44.2 L45.5,44.8 L49.8,46.2 L50.2,50.5 L51.2,55.2 L50.4,59.5 L48.8,63.3 L47.6,66 L45.7,69.3 L46.9,73 L46.7,76.3 L44.8,78.5 L43.6,81.3 L43,85 L41.6,88.4 L39.6,90.5 L38.5,93.4 L36,96 L33.4,97.4 L29.5,96.2 L26.2,96.4 L23.4,93.6 L21.1,91.4 L19.4,88 L17,85.3 L15.2,81 L12.9,77.3 L11.8,72 L10.2,67.3 L10,62 L9.4,57.2 L9.4,52 L10.2,47.2 L11.4,43 L13.5,39.2 L15.5,35.6 Z M18,44.2 L22,43 L26.2,42.8 L30,44.6 L33.4,47.2 L35.6,51 L37.1,55.2 L37.3,60 L36.9,64.3 L35,67.8 L32.4,70.3 L29,72 L25.2,72.9 L21.8,71.6 L19,69.3 L17,65.5 L15.6,61.2 L15,56.5 L15,52.2 L16,47.8 Z" fill="#19e6f6" fill-rule="evenodd"/>
</svg>
<rect x="366.5" y="273.9" width="149" height="64.6" fill="#fff" stroke="#111" stroke-width="1.1"/>
<rect x="370.8" y="280.4" width="24" height="11.6" fill="#6a2fa0" stroke="#222" stroke-width="0.8"/>
<text x="398.6" y="290.4" font-size="12" font-weight="bold" text-anchor="start" stroke="#111" stroke-width="0.28" stroke-linejoin="round" >Gd-enhanced</text>
<rect x="370.8" y="300.0" width="24" height="11.6" fill="#f5b31a" stroke="#222" stroke-width="0.8"/>
<text x="398.6" y="310.0" font-size="12" font-weight="bold" text-anchor="start" stroke="#111" stroke-width="0.28" stroke-linejoin="round" >Gd nonenhanced</text>
<rect x="370.8" y="319.8" width="24" height="11.6" fill="#1fe8f4" stroke="#222" stroke-width="0.8"/>
<text x="398.6" y="329.8" font-size="12" font-weight="bold" text-anchor="start" stroke="#111" stroke-width="0.28" stroke-linejoin="round" >FLAIR hyperintense</text>
</g>
<g id="rowD">
<text x="97.8" y="434.0" font-size="12" font-weight="bold" text-anchor="middle" stroke="#111" stroke-width="0.28" stroke-linejoin="round" >Gd-enhanced</text>
<text x="274.5" y="434.0" font-size="12" font-weight="bold" text-anchor="middle" stroke="#111" stroke-width="0.28" stroke-linejoin="round" >Non Gd-enhanced</text>
<text x="446.0" y="434.0" font-size="12" font-weight="bold" text-anchor="middle" stroke="#111" stroke-width="0.28" stroke-linejoin="round" >FLAIR hyperintense</text>
<text x="100.2" y="447.4" font-size="12" font-weight="bold" text-anchor="middle" stroke="#111" stroke-width="0.28" stroke-linejoin="round" >lesions</text>
<text x="276.6" y="447.4" font-size="12" font-weight="bold" text-anchor="middle" stroke="#111" stroke-width="0.28" stroke-linejoin="round" >lesions</text>
<text x="449.6" y="447.4" font-size="12" font-weight="bold" text-anchor="middle" stroke="#111" stroke-width="0.28" stroke-linejoin="round" >lesions</text>
<text transform="translate(23.9,513.1) rotate(-90) scale(0.85,1)" font-size="13.4" font-weight="bold" stroke="#111" stroke-width="0.3" text-anchor="middle">Subject 1</text>
<text transform="translate(23.9,638.5) rotate(-90) scale(0.85,1)" font-size="13.4" font-weight="bold" stroke="#111" stroke-width="0.3" text-anchor="middle">Subject 2</text>
<text transform="translate(23.9,768.5) rotate(-90) scale(0.85,1)" font-size="13.4" font-weight="bold" stroke="#111" stroke-width="0.3" text-anchor="middle">Subject 3</text>
<g>
<g style="" fill="#6474f0" fill-opacity="1.0" stroke="#2c38b4" stroke-width="0.75" stroke-opacity="0.9"><rect x="49.10" y="481.90" width="4.29" height="80.50"/><rect x="53.39" y="502.50" width="4.29" height="59.90"/><rect x="57.68" y="500.51" width="4.29" height="61.89"/><rect x="61.97" y="495.10" width="4.29" height="67.30"/><rect x="66.26" y="494.67" width="4.29" height="67.73"/><rect x="70.55" y="494.01" width="4.29" height="68.39"/><rect x="74.84" y="492.64" width="4.29" height="69.76"/><rect x="79.13" y="491.88" width="4.29" height="70.52"/><rect x="83.42" y="493.21" width="4.29" height="69.19"/><rect x="87.71" y="494.78" width="4.29" height="67.62"/><rect x="92.00" y="501.11" width="4.29" height="61.29"/><rect x="96.29" y="506.33" width="4.29" height="56.07"/><rect x="100.58" y="516.68" width="4.29" height="45.72"/><rect x="104.87" y="522.40" width="4.29" height="40.00"/><rect x="109.16" y="535.09" width="4.29" height="27.31"/><rect x="113.45" y="541.27" width="4.29" height="21.13"/><rect x="117.74" y="549.67" width="4.29" height="12.73"/><rect x="122.03" y="554.95" width="4.29" height="7.45"/><rect x="126.32" y="558.50" width="4.29" height="3.90"/><rect x="130.61" y="560.63" width="4.29" height="1.77"/><rect x="134.90" y="561.75" width="4.29" height="0.65"/></g>
<g style="mix-blend-mode:multiply;" fill="#58cc5c" fill-opacity="1.0" stroke="#278232" stroke-width="0.75" stroke-opacity="0.9"><rect x="49.10" y="546.65" width="4.29" height="15.75"/><rect x="53.39" y="523.51" width="4.29" height="38.89"/><rect x="57.68" y="497.19" width="4.29" height="65.21"/><rect x="61.97" y="484.38" width="4.29" height="78.02"/><rect x="66.26" y="473.64" width="4.29" height="88.76"/><rect x="70.55" y="472.60" width="4.29" height="89.80"/><rect x="74.84" y="468.41" width="4.29" height="93.99"/><rect x="79.13" y="470.51" width="4.29" height="91.89"/><rect x="83.42" y="484.49" width="4.29" height="77.91"/><rect x="87.71" y="485.17" width="4.29" height="77.23"/><rect x="92.00" y="491.88" width="4.29" height="70.52"/><rect x="96.29" y="503.25" width="4.29" height="59.15"/><rect x="100.58" y="515.01" width="4.29" height="47.39"/><rect x="104.87" y="521.26" width="4.29" height="41.14"/><rect x="109.16" y="532.23" width="4.29" height="30.17"/><rect x="113.45" y="537.28" width="4.29" height="25.12"/><rect x="117.74" y="541.59" width="4.29" height="20.81"/><rect x="122.03" y="547.46" width="4.29" height="14.94"/><rect x="126.32" y="550.96" width="4.29" height="11.44"/><rect x="130.61" y="554.07" width="4.29" height="8.33"/><rect x="134.90" y="556.49" width="4.29" height="5.91"/><rect x="139.19" y="557.85" width="4.29" height="4.55"/><rect x="143.48" y="559.54" width="4.29" height="2.86"/><rect x="147.77" y="560.63" width="4.29" height="1.77"/><rect x="152.06" y="561.33" width="4.29" height="1.07"/><rect x="156.35" y="561.96" width="4.29" height="0.44"/></g>
<g style="" fill="#f60c0c" fill-opacity="0.64" stroke="#8a0c0c" stroke-width="0.75" stroke-opacity="0.9"><rect x="49.10" y="526.38" width="4.29" height="36.02"/><rect x="53.39" y="516.91" width="4.29" height="45.49"/><rect x="57.68" y="506.95" width="4.29" height="55.45"/><rect x="61.97" y="501.71" width="4.29" height="60.69"/><rect x="66.26" y="499.67" width="4.29" height="62.73"/><rect x="70.55" y="492.00" width="4.29" height="70.40"/><rect x="74.84" y="488.51" width="4.29" height="73.89"/><rect x="79.13" y="487.99" width="4.29" height="74.41"/><rect x="83.42" y="483.52" width="4.29" height="78.88"/><rect x="87.71" y="488.84" width="4.29" height="73.56"/><rect x="92.00" y="490.16" width="4.29" height="72.24"/><rect x="96.29" y="501.76" width="4.29" height="60.64"/><rect x="100.58" y="508.79" width="4.29" height="53.61"/><rect x="104.87" y="512.35" width="4.29" height="50.05"/><rect x="109.16" y="523.02" width="4.29" height="39.38"/><rect x="113.45" y="531.08" width="4.29" height="31.32"/><rect x="117.74" y="534.83" width="4.29" height="27.57"/><rect x="122.03" y="542.08" width="4.29" height="20.32"/><rect x="126.32" y="546.18" width="4.29" height="16.22"/><rect x="130.61" y="550.49" width="4.29" height="11.91"/><rect x="134.90" y="553.46" width="4.29" height="8.94"/><rect x="139.19" y="556.23" width="4.29" height="6.17"/><rect x="143.48" y="558.03" width="4.29" height="4.37"/><rect x="147.77" y="559.57" width="4.29" height="2.83"/><rect x="152.06" y="560.66" width="4.29" height="1.74"/><rect x="156.35" y="561.29" width="4.29" height="1.11"/><rect x="160.64" y="561.85" width="4.29" height="0.55"/></g>
<polyline points="49.10,527.40 49.90,523.60 50.71,519.99 51.51,516.65 52.32,513.69 53.12,511.18 53.93,508.89 54.73,506.68 55.54,504.61 56.34,502.71 57.14,501.01 57.95,499.55 58.75,498.37 59.56,497.50 60.36,496.78 61.17,496.12 61.97,495.51 62.77,494.97 63.58,494.47 64.38,494.02 65.19,493.62 65.99,493.26 66.80,492.93 67.60,492.65 68.41,492.40 69.21,492.17 70.01,491.94 70.82,491.71 71.62,491.50 72.43,491.31 73.23,491.13 74.04,490.97 74.84,490.84 75.64,490.74 76.45,490.68 77.25,490.65 78.06,490.67 78.86,490.75 79.67,490.87 80.47,491.05 81.28,491.28 82.08,491.54 82.88,491.84 83.69,492.17 84.49,492.53 85.30,492.91 86.10,493.31 86.91,493.73 87.71,494.15 88.51,494.65 89.32,495.27 90.12,496.01 90.93,496.86 91.73,497.81 92.54,498.84 93.34,499.95 94.15,501.13 94.95,502.36 95.75,503.64 96.56,504.95 97.36,506.28 98.17,507.63 98.97,508.98 99.78,510.32 100.58,511.65 101.38,513.01 102.19,514.47 102.99,516.01 103.80,517.62 104.60,519.28 105.41,520.99 106.21,522.73 107.02,524.50 107.82,526.27 108.62,528.04 109.43,529.79 110.23,531.52 111.04,533.20 111.84,534.84 112.65,536.41 113.45,537.90 114.25,539.37 115.06,540.88 115.86,542.40 116.67,543.93 117.47,545.43 118.28,546.90 119.08,548.32 119.89,549.68 120.69,550.94 121.49,552.11 122.30,553.16 123.10,554.08 123.91,554.84 124.71,555.54 125.52,556.21 126.32,556.84 127.12,557.44 127.93,558.01 128.73,558.54 129.54,559.04 130.34,559.49 131.15,559.90 131.95,560.26 132.76,560.59 133.56,560.86 134.36,561.09 135.17,561.30 135.97,561.51 136.78,561.71 137.58,561.90 138.39,562.06 139.19,562.19 139.99,562.30" fill="none" stroke="#1010ee" stroke-width="2.4" stroke-linejoin="round" stroke-linecap="round"/>
<polyline points="49.10,529.15 49.90,527.57 50.71,526.01 51.51,524.45 52.32,522.91 53.12,521.38 53.93,519.87 54.73,518.38 55.54,516.90 56.34,515.41 57.14,513.88 57.95,512.33 58.75,510.77 59.56,509.24 60.36,507.74 61.17,506.29 61.97,504.90 62.77,503.61 63.58,502.42 64.38,501.35 65.19,500.38 65.99,499.43 66.80,498.52 67.60,497.63 68.41,496.78 69.21,495.97 70.01,495.20 70.82,494.48 71.62,493.81 72.43,493.19 73.23,492.63 74.04,492.13 74.84,491.70 75.64,491.30 76.45,490.90 77.25,490.51 78.06,490.13 78.86,489.77 79.67,489.44 80.47,489.13 81.28,488.86 82.08,488.63 82.88,488.44 83.69,488.30 84.49,488.22 85.30,488.20 86.10,488.31 86.91,488.54 87.71,488.90 88.51,489.36 89.32,489.91 90.12,490.52 90.93,491.20 91.73,491.92 92.54,492.66 93.34,493.41 94.15,494.15 94.95,494.95 95.75,495.87 96.56,496.90 97.36,498.03 98.17,499.24 98.97,500.51 99.78,501.84 100.58,503.20 101.38,504.60 102.19,506.01 102.99,507.41 103.80,508.80 104.60,510.17 105.41,511.58 106.21,513.06 107.02,514.59 107.82,516.15 108.62,517.74 109.43,519.32 110.23,520.89 111.04,522.43 111.84,523.92 112.65,525.35 113.45,526.70 114.25,528.00 115.06,529.27 115.86,530.52 116.67,531.75 117.47,532.96 118.28,534.14 119.08,535.30 119.89,536.42 120.69,537.52 121.49,538.59 122.30,539.62 123.10,540.62 123.91,541.59 124.71,542.54 125.52,543.49 126.32,544.42 127.12,545.33 127.93,546.23 128.73,547.09 129.54,547.93 130.34,548.74 131.15,549.50 131.95,550.23 132.76,550.91 133.56,551.55 134.36,552.13 135.17,552.69 135.97,553.23 136.78,553.76 137.58,554.27 138.39,554.76 139.19,555.23 139.99,555.68 140.80,556.11 141.60,556.52 142.41,556.90 143.21,557.26 144.02,557.60 144.82,557.91 145.62,558.20 146.43,558.47 147.23,558.73 148.04,558.99 148.84,559.23 149.65,559.47 150.45,559.70 151.26,559.92 152.06,560.12 152.86,560.32 153.67,560.51 154.47,560.68 155.28,560.84 156.08,560.99 156.89,561.12 157.69,561.24 158.50,561.35 159.30,561.45 160.10,561.55 160.91,561.64 161.71,561.74 162.52,561.83 163.32,561.91 164.13,562.00 164.93,562.07 165.73,562.14 166.54,562.21 167.34,562.26" fill="none" stroke="#f01414" stroke-width="2.4" stroke-linejoin="round" stroke-linecap="round"/>
<polyline points="49.10,555.40 49.90,551.98 50.71,548.44 51.51,544.79 52.32,541.01 53.12,537.10 53.93,532.85 54.73,528.28 55.54,523.53 56.34,518.75 57.14,514.09 57.95,509.69 58.75,505.70 59.56,502.25 60.36,499.02 61.17,495.86 61.97,492.79 62.77,489.88 63.58,487.15 64.38,484.65 65.19,482.41 65.99,480.49 66.80,478.92 67.60,477.67 68.41,476.47 69.21,475.32 70.01,474.25 70.82,473.27 71.62,472.41 72.43,471.70 73.23,471.16 74.04,470.82 74.84,470.70 75.64,470.80 76.45,471.09 77.25,471.52 78.06,472.08 78.86,472.72 79.67,473.43 80.47,474.17 81.28,474.90 82.08,475.70 82.88,476.64 83.69,477.71 84.49,478.88 85.30,480.14 86.10,481.47 86.91,482.86 87.71,484.29 88.51,485.73 89.32,487.18 90.12,488.62 90.93,490.06 91.73,491.56 92.54,493.13 93.34,494.75 94.15,496.41 94.95,498.10 95.75,499.81 96.56,501.53 97.36,503.25 98.17,504.95 98.97,506.64 99.78,508.29 100.58,509.90 101.38,511.50 102.19,513.13 102.99,514.78 103.80,516.44 104.60,518.10 105.41,519.75 106.21,521.40 107.02,523.03 107.82,524.62 108.62,526.19 109.43,527.71 110.23,529.18 111.04,530.59 111.84,531.94 112.65,533.21 113.45,534.40 114.25,535.54 115.06,536.65 115.86,537.73 116.67,538.79 117.47,539.83 118.28,540.83 119.08,541.80 119.89,542.75 120.69,543.66 121.49,544.54 122.30,545.39 123.10,546.20 123.91,546.98 124.71,547.72 125.52,548.43 126.32,549.10 127.12,549.74 127.93,550.37 128.73,550.98 129.54,551.58 130.34,552.15 131.15,552.71 131.95,553.25 132.76,553.77 133.56,554.27 134.36,554.75 135.17,555.21 135.97,555.65 136.78,556.06 137.58,556.45 138.39,556.81 139.19,557.15 139.99,557.47 140.80,557.79 141.60,558.09 142.41,558.39 143.21,558.67 144.02,558.95 144.82,559.22 145.62,559.47 146.43,559.71 147.23,559.94 148.04,560.15 148.84,560.35 149.65,560.54 150.45,560.71 151.26,560.86 152.06,561.00 152.86,561.13 153.67,561.25 154.47,561.38 155.28,561.50 156.08,561.62 156.89,561.73 157.69,561.83 158.50,561.93 159.30,562.03 160.10,562.11 160.91,562.19 161.71,562.25 162.52,562.31" fill="none" stroke="#44f024" stroke-width="2.4" stroke-linejoin="round" stroke-linecap="round"/>
<path d="M49.1,457.4 L49.1,562.4 L177.8,562.4" fill="none" stroke="#333" stroke-width="1"/>
<text x="44.1" y="461.4" font-size="11" font-weight="bold" text-anchor="end" stroke="#111" stroke-width="0.28" stroke-linejoin="round" >3</text>
<text x="44.1" y="513.9" font-size="11" font-weight="bold" text-anchor="end" stroke="#111" stroke-width="0.28" stroke-linejoin="round" >1.5</text>
<text x="44.1" y="566.4" font-size="11" font-weight="bold" text-anchor="end" stroke="#111" stroke-width="0.28" stroke-linejoin="round" >0</text>
<path d="M47.1,457.40 L49.1,457.40 M47.1,509.90 L49.1,509.90 M47.1,562.40 L49.1,562.40 M113.45,562.4 L113.45,564.4 M177.8,562.4 L177.8,564.4" stroke="#333" stroke-width="1" fill="none"/>
<text x="118.8" y="577.4" font-size="11" font-weight="bold" text-anchor="middle" stroke="#111" stroke-width="0.28" stroke-linejoin="round" >0.5</text>
<text x="179.2" y="577.4" font-size="11" font-weight="bold" text-anchor="middle" stroke="#111" stroke-width="0.28" stroke-linejoin="round" >1</text>
</g>
<g>
<g style="" fill="#6474f0" fill-opacity="1.0" stroke="#2c38b4" stroke-width="0.75" stroke-opacity="0.9"><rect x="216.90" y="550.08" width="4.26" height="12.42"/><rect x="221.16" y="547.12" width="4.26" height="15.38"/><rect x="225.41" y="542.29" width="4.26" height="20.21"/><rect x="229.67" y="538.74" width="4.26" height="23.76"/><rect x="233.93" y="535.04" width="4.26" height="27.46"/><rect x="238.18" y="531.72" width="4.26" height="30.78"/><rect x="242.44" y="528.65" width="4.26" height="33.85"/><rect x="246.70" y="524.05" width="4.26" height="38.45"/><rect x="250.95" y="523.41" width="4.26" height="39.09"/><rect x="255.21" y="522.41" width="4.26" height="40.09"/><rect x="259.47" y="522.30" width="4.26" height="40.20"/><rect x="263.72" y="526.36" width="4.26" height="36.14"/><rect x="267.98" y="533.11" width="4.26" height="29.39"/><rect x="272.24" y="538.01" width="4.26" height="24.49"/><rect x="276.49" y="544.31" width="4.26" height="18.19"/><rect x="280.75" y="548.53" width="4.26" height="13.97"/><rect x="285.01" y="553.02" width="4.26" height="9.48"/><rect x="289.26" y="556.83" width="4.26" height="5.67"/><rect x="293.52" y="559.37" width="4.26" height="3.13"/><rect x="297.78" y="561.19" width="4.26" height="1.31"/></g>
<g style="mix-blend-mode:multiply;" fill="#58cc5c" fill-opacity="1.0" stroke="#278232" stroke-width="0.75" stroke-opacity="0.9"><rect x="216.90" y="547.49" width="4.26" height="15.01"/><rect x="221.16" y="474.52" width="4.26" height="87.98"/><rect x="225.41" y="462.81" width="4.26" height="99.69"/><rect x="229.67" y="503.94" width="4.26" height="58.56"/><rect x="233.93" y="521.96" width="4.26" height="40.54"/><rect x="238.18" y="533.93" width="4.26" height="28.57"/><rect x="242.44" y="538.50" width="4.26" height="24.00"/><rect x="246.70" y="543.02" width="4.26" height="19.48"/><rect x="250.95" y="546.79" width="4.26" height="15.71"/><rect x="255.21" y="548.09" width="4.26" height="14.41"/><rect x="259.47" y="549.65" width="4.26" height="12.85"/><rect x="263.72" y="551.92" width="4.26" height="10.58"/><rect x="267.98" y="552.87" width="4.26" height="9.63"/><rect x="272.24" y="554.59" width="4.26" height="7.91"/><rect x="276.49" y="555.47" width="4.26" height="7.03"/><rect x="280.75" y="556.86" width="4.26" height="5.64"/><rect x="285.01" y="558.33" width="4.26" height="4.17"/><rect x="289.26" y="559.48" width="4.26" height="3.02"/><rect x="293.52" y="560.62" width="4.26" height="1.88"/><rect x="297.78" y="561.47" width="4.26" height="1.03"/><rect x="302.03" y="562.08" width="4.26" height="0.42"/></g>
<g style="" fill="#f60c0c" fill-opacity="0.64" stroke="#8a0c0c" stroke-width="0.75" stroke-opacity="0.9"><rect x="216.90" y="553.55" width="4.26" height="8.95"/><rect x="221.16" y="551.34" width="4.26" height="11.16"/><rect x="225.41" y="548.35" width="4.26" height="14.15"/><rect x="229.67" y="546.39" width="4.26" height="16.11"/><rect x="233.93" y="542.53" width="4.26" height="19.97"/><rect x="238.18" y="538.26" width="4.26" height="24.24"/><rect x="242.44" y="535.70" width="4.26" height="26.80"/><rect x="246.70" y="533.97" width="4.26" height="28.53"/><rect x="250.95" y="528.11" width="4.26" height="34.39"/><rect x="255.21" y="528.67" width="4.26" height="33.83"/><rect x="259.47" y="527.38" width="4.26" height="35.12"/><rect x="263.72" y="528.61" width="4.26" height="33.89"/><rect x="267.98" y="530.76" width="4.26" height="31.74"/><rect x="272.24" y="532.36" width="4.26" height="30.14"/><rect x="276.49" y="533.43" width="4.26" height="29.07"/><rect x="280.75" y="536.84" width="4.26" height="25.66"/><rect x="285.01" y="541.45" width="4.26" height="21.05"/><rect x="289.26" y="545.66" width="4.26" height="16.84"/><rect x="293.52" y="547.34" width="4.26" height="15.16"/><rect x="297.78" y="551.13" width="4.26" height="11.37"/><rect x="302.03" y="553.18" width="4.26" height="9.32"/><rect x="306.29" y="555.83" width="4.26" height="6.67"/><rect x="310.55" y="557.09" width="4.26" height="5.41"/><rect x="314.80" y="558.66" width="4.26" height="3.84"/><rect x="319.06" y="559.80" width="4.26" height="2.70"/><rect x="323.32" y="560.70" width="4.26" height="1.80"/><rect x="327.57" y="561.35" width="4.26" height="1.15"/><rect x="331.83" y="561.83" width="4.26" height="0.67"/></g>
<polyline points="216.90,551.99 217.70,551.29 218.50,550.58 219.29,549.88 220.09,549.17 220.89,548.47 221.69,547.77 222.49,547.06 223.28,546.36 224.08,545.66 224.88,544.95 225.68,544.25 226.48,543.54 227.28,542.84 228.07,542.13 228.87,541.42 229.67,540.70 230.47,539.99 231.27,539.27 232.06,538.55 232.86,537.84 233.66,537.13 234.46,536.43 235.26,535.74 236.06,535.05 236.85,534.37 237.65,533.71 238.45,533.03 239.25,532.33 240.05,531.63 240.84,530.93 241.64,530.22 242.44,529.53 243.24,528.85 244.04,528.19 244.83,527.56 245.63,526.96 246.43,526.39 247.23,525.86 248.03,525.39 248.83,524.96 249.62,524.56 250.42,524.15 251.22,523.75 252.02,523.35 252.82,522.97 253.61,522.63 254.41,522.32 255.21,522.06 256.01,521.86 256.81,521.72 257.60,521.66 258.40,521.71 259.20,521.92 260.00,522.26 260.80,522.72 261.60,523.26 262.39,523.88 263.19,524.54 263.99,525.23 264.79,525.92 265.59,526.60 266.38,527.36 267.18,528.22 267.98,529.18 268.78,530.22 269.58,531.32 270.37,532.47 271.17,533.64 271.97,534.83 272.77,536.01 273.57,537.17 274.37,538.30 275.16,539.37 275.96,540.38 276.76,541.39 277.56,542.41 278.36,543.44 279.15,544.48 279.95,545.50 280.75,546.52 281.55,547.51 282.35,548.49 283.14,549.43 283.94,550.34 284.74,551.21 285.54,552.02 286.34,552.79 287.13,553.49 287.93,554.16 288.73,554.82 289.53,555.46 290.33,556.08 291.13,556.68 291.92,557.26 292.72,557.81 293.52,558.33 294.32,558.81 295.12,559.25 295.91,559.65 296.71,560.00 297.51,560.31 298.31,560.59 299.11,560.87 299.91,561.13 300.70,561.39 301.50,561.62 302.30,561.84 303.10,562.03 303.90,562.19 304.69,562.33 305.49,562.43" fill="none" stroke="#1010ee" stroke-width="2.4" stroke-linejoin="round" stroke-linecap="round"/>
<polyline points="216.90,554.99 217.70,554.61 218.50,554.22 219.29,553.81 220.09,553.39 220.89,552.95 221.69,552.51 222.49,552.05 223.28,551.58 224.08,551.10 224.88,550.62 225.68,550.12 226.48,549.61 227.28,549.09 228.07,548.56 228.87,548.03 229.67,547.49 230.47,546.92 231.27,546.32 232.06,545.68 232.86,545.02 233.66,544.34 234.46,543.65 235.26,542.94 236.06,542.23 236.85,541.52 237.65,540.81 238.45,540.12 239.25,539.44 240.05,538.78 240.84,538.15 241.64,537.54 242.44,536.98 243.24,536.43 244.04,535.87 244.83,535.32 245.63,534.77 246.43,534.22 247.23,533.68 248.03,533.16 248.83,532.65 249.62,532.15 250.42,531.68 251.22,531.23 252.02,530.81 252.82,530.42 253.61,530.07 254.41,529.75 255.21,529.47 256.01,529.21 256.81,528.94 257.60,528.68 258.40,528.44 259.20,528.21 260.00,528.02 260.80,527.86 261.60,527.74 262.39,527.68 263.19,527.67 263.99,527.75 264.79,527.91 265.59,528.13 266.38,528.42 267.18,528.74 267.98,529.10 268.78,529.49 269.58,529.88 270.37,530.28 271.17,530.67 271.97,531.04 272.77,531.42 273.57,531.83 274.37,532.25 275.16,532.69 275.96,533.16 276.76,533.64 277.56,534.13 278.36,534.64 279.15,535.16 279.95,535.69 280.75,536.23 281.55,536.79 282.35,537.38 283.14,538.00 283.94,538.65 284.74,539.31 285.54,539.99 286.34,540.67 287.13,541.35 287.93,542.03 288.73,542.70 289.53,543.36 290.33,543.99 291.13,544.60 291.92,545.21 292.72,545.81 293.52,546.42 294.32,547.02 295.12,547.61 295.91,548.20 296.71,548.77 297.51,549.34 298.31,549.88 299.11,550.41 299.91,550.92 300.70,551.41 301.50,551.87 302.30,552.33 303.10,552.77 303.90,553.21 304.69,553.64 305.49,554.06 306.29,554.47 307.09,554.87 307.89,555.26 308.68,555.63 309.48,555.99 310.28,556.33 311.08,556.65 311.88,556.96 312.68,557.25 313.47,557.52 314.27,557.79 315.07,558.05 315.87,558.31 316.67,558.56 317.46,558.81 318.26,559.04 319.06,559.27 319.86,559.48 320.66,559.69 321.45,559.89 322.25,560.07 323.05,560.25 323.85,560.41 324.65,560.56 325.45,560.70 326.24,560.83 327.04,560.95 327.84,561.07 328.64,561.19 329.44,561.30 330.23,561.41 331.03,561.51 331.83,561.61 332.63,561.70 333.43,561.79 334.22,561.87 335.02,561.95 335.82,562.02 336.62,562.09 337.42,562.15 338.22,562.20 339.01,562.25 339.81,562.30 340.61,562.34" fill="none" stroke="#f01414" stroke-width="2.4" stroke-linejoin="round" stroke-linecap="round"/>
<polyline points="216.90,547.49 217.70,538.45 218.50,529.10 219.29,519.43 220.09,508.65 220.89,496.37 221.69,484.88 222.49,476.51 223.28,471.58 224.08,467.32 224.88,464.18 225.68,462.70 226.48,464.30 227.28,469.59 228.07,476.07 228.87,481.95 229.67,488.61 230.47,495.60 231.27,502.17 232.06,507.57 232.86,511.68 233.66,515.42 234.46,518.82 235.26,521.86 236.06,524.53 236.85,526.80 237.65,528.69 238.45,530.38 239.25,531.94 240.05,533.38 240.84,534.69 241.64,535.90 242.44,537.01 243.24,538.02 244.04,538.96 244.83,539.81 245.63,540.61 246.43,541.37 247.23,542.08 248.03,542.76 248.83,543.40 249.62,544.00 250.42,544.58 251.22,545.12 252.02,545.64 252.82,546.13 253.61,546.60 254.41,547.05 255.21,547.49 256.01,547.90 256.81,548.31 257.60,548.69 258.40,549.07 259.20,549.43 260.00,549.78 260.80,550.12 261.60,550.44 262.39,550.76 263.19,551.07 263.99,551.36 264.79,551.65 265.59,551.93 266.38,552.21 267.18,552.48 267.98,552.74 268.78,552.99 269.58,553.24 270.37,553.47 271.17,553.69 271.97,553.90 272.77,554.11 273.57,554.32 274.37,554.52 275.16,554.72 275.96,554.91 276.76,555.12 277.56,555.32 278.36,555.53 279.15,555.74 279.95,555.96 280.75,556.19 281.55,556.44 282.35,556.69 283.14,556.96 283.94,557.24 284.74,557.51 285.54,557.79 286.34,558.07 287.13,558.34 287.93,558.61 288.73,558.87 289.53,559.11 290.33,559.33 291.13,559.54 291.92,559.74 292.72,559.94 293.52,560.13 294.32,560.33 295.12,560.52 295.91,560.71 296.71,560.89 297.51,561.07 298.31,561.23 299.11,561.39 299.91,561.54 300.70,561.67 301.50,561.79 302.30,561.90 303.10,561.99 303.90,562.06 304.69,562.13 305.49,562.20 306.29,562.26 307.09,562.32 307.89,562.37" fill="none" stroke="#44f024" stroke-width="2.4" stroke-linejoin="round" stroke-linecap="round"/>
<path d="M216.9,457.4 L216.9,562.5 L344.6,562.5" fill="none" stroke="#333" stroke-width="1"/>
<text x="211.9" y="461.4" font-size="11" font-weight="bold" text-anchor="end" stroke="#111" stroke-width="0.28" stroke-linejoin="round" >7</text>
<text x="211.9" y="514.0" font-size="11" font-weight="bold" text-anchor="end" stroke="#111" stroke-width="0.28" stroke-linejoin="round" >3.5</text>
<text x="211.9" y="566.5" font-size="11" font-weight="bold" text-anchor="end" stroke="#111" stroke-width="0.28" stroke-linejoin="round" >0</text>
<path d="M214.9,457.40 L216.9,457.40 M214.9,509.95 L216.9,509.95 M214.9,562.50 L216.9,562.50 M280.75,562.5 L280.75,564.5 M344.6,562.5 L344.6,564.5" stroke="#333" stroke-width="1" fill="none"/>
<text x="280.8" y="578.2" font-size="11" font-weight="bold" text-anchor="middle" stroke="#111" stroke-width="0.28" stroke-linejoin="round" >0.5</text>
<text x="340.8" y="578.2" font-size="11" font-weight="bold" text-anchor="middle" stroke="#111" stroke-width="0.28" stroke-linejoin="round" >1</text>
</g>
<g>
<g style="" fill="#6474f0" fill-opacity="1.0" stroke="#2c38b4" stroke-width="0.75" stroke-opacity="0.9"><rect x="385.20" y="545.86" width="4.24" height="16.64"/><rect x="389.44" y="542.92" width="4.24" height="19.58"/><rect x="393.68" y="542.62" width="4.24" height="19.88"/><rect x="397.92" y="541.18" width="4.24" height="21.32"/><rect x="402.16" y="539.17" width="4.24" height="23.33"/><rect x="406.40" y="537.90" width="4.24" height="24.60"/><rect x="410.64" y="538.77" width="4.24" height="23.73"/><rect x="414.88" y="536.89" width="4.24" height="25.61"/><rect x="419.12" y="535.05" width="4.24" height="27.45"/><rect x="423.36" y="530.35" width="4.24" height="32.15"/><rect x="427.60" y="527.41" width="4.24" height="35.09"/><rect x="431.84" y="518.87" width="4.24" height="43.63"/><rect x="436.08" y="512.30" width="4.24" height="50.20"/><rect x="440.32" y="509.81" width="4.24" height="52.69"/><rect x="444.56" y="506.78" width="4.24" height="55.72"/><rect x="448.80" y="512.50" width="4.24" height="50.00"/><rect x="453.04" y="526.38" width="4.24" height="36.12"/><rect x="457.28" y="538.09" width="4.24" height="24.41"/><rect x="461.52" y="551.37" width="4.24" height="11.13"/><rect x="465.76" y="558.07" width="4.24" height="4.43"/><rect x="470.00" y="561.27" width="4.24" height="1.23"/></g>
<g style="mix-blend-mode:multiply;" fill="#58cc5c" fill-opacity="1.0" stroke="#278232" stroke-width="0.75" stroke-opacity="0.9"><rect x="385.20" y="560.40" width="4.24" height="2.10"/><rect x="389.44" y="553.83" width="4.24" height="8.67"/><rect x="393.68" y="542.15" width="4.24" height="20.35"/><rect x="397.92" y="529.78" width="4.24" height="32.72"/><rect x="402.16" y="519.73" width="4.24" height="42.77"/><rect x="406.40" y="513.33" width="4.24" height="49.17"/><rect x="410.64" y="504.08" width="4.24" height="58.42"/><rect x="414.88" y="503.07" width="4.24" height="59.43"/><rect x="419.12" y="504.07" width="4.24" height="58.43"/><rect x="423.36" y="508.03" width="4.24" height="54.47"/><rect x="427.60" y="512.11" width="4.24" height="50.39"/><rect x="431.84" y="518.37" width="4.24" height="44.13"/><rect x="436.08" y="526.74" width="4.24" height="35.76"/><rect x="440.32" y="533.16" width="4.24" height="29.34"/><rect x="444.56" y="538.75" width="4.24" height="23.75"/><rect x="448.80" y="542.82" width="4.24" height="19.68"/><rect x="453.04" y="547.69" width="4.24" height="14.81"/><rect x="457.28" y="551.39" width="4.24" height="11.11"/><rect x="461.52" y="553.88" width="4.24" height="8.62"/><rect x="465.76" y="555.78" width="4.24" height="6.72"/><rect x="470.00" y="557.51" width="4.24" height="4.99"/><rect x="474.24" y="558.70" width="4.24" height="3.80"/><rect x="478.48" y="559.57" width="4.24" height="2.93"/><rect x="482.72" y="560.53" width="4.24" height="1.97"/><rect x="486.96" y="561.15" width="4.24" height="1.35"/><rect x="491.20" y="561.79" width="4.24" height="0.71"/></g>
<g style="" fill="#f60c0c" fill-opacity="0.64" stroke="#8a0c0c" stroke-width="0.75" stroke-opacity="0.9"><rect x="385.20" y="540.29" width="4.24" height="22.21"/><rect x="389.44" y="510.85" width="4.24" height="51.65"/><rect x="393.68" y="487.98" width="4.24" height="74.52"/><rect x="397.92" y="474.33" width="4.24" height="88.17"/><rect x="402.16" y="489.73" width="4.24" height="72.77"/><rect x="406.40" y="504.23" width="4.24" height="58.27"/><rect x="410.64" y="517.90" width="4.24" height="44.60"/><rect x="414.88" y="524.73" width="4.24" height="37.77"/><rect x="419.12" y="527.98" width="4.24" height="34.52"/><rect x="423.36" y="535.75" width="4.24" height="26.75"/><rect x="427.60" y="538.62" width="4.24" height="23.88"/><rect x="431.84" y="542.65" width="4.24" height="19.85"/><rect x="436.08" y="546.00" width="4.24" height="16.50"/><rect x="440.32" y="549.38" width="4.24" height="13.12"/><rect x="444.56" y="551.71" width="4.24" height="10.79"/><rect x="448.80" y="554.44" width="4.24" height="8.06"/><rect x="453.04" y="556.05" width="4.24" height="6.45"/><rect x="457.28" y="557.26" width="4.24" height="5.24"/><rect x="461.52" y="558.44" width="4.24" height="4.06"/><rect x="465.76" y="559.43" width="4.24" height="3.07"/><rect x="470.00" y="560.18" width="4.24" height="2.32"/><rect x="474.24" y="560.63" width="4.24" height="1.87"/><rect x="478.48" y="561.19" width="4.24" height="1.31"/><rect x="482.72" y="561.50" width="4.24" height="1.00"/><rect x="486.96" y="561.85" width="4.24" height="0.65"/><rect x="491.20" y="562.07" width="4.24" height="0.43"/></g>
<polyline points="385.20,547.79 386.00,547.15 386.79,546.53 387.58,545.92 388.38,545.35 389.18,544.82 389.97,544.34 390.76,543.92 391.56,543.58 392.35,543.29 393.15,543.03 393.94,542.80 394.74,542.58 395.53,542.38 396.33,542.19 397.12,542.02 397.92,541.85 398.71,541.69 399.51,541.53 400.31,541.37 401.10,541.20 401.89,541.03 402.69,540.84 403.49,540.64 404.28,540.43 405.07,540.21 405.87,539.98 406.66,539.76 407.46,539.54 408.25,539.31 409.05,539.09 409.84,538.85 410.64,538.61 411.44,538.36 412.23,538.10 413.02,537.82 413.82,537.54 414.62,537.23 415.41,536.92 416.20,536.58 417.00,536.23 417.79,535.84 418.59,535.42 419.38,534.97 420.18,534.49 420.97,533.97 421.77,533.42 422.56,532.83 423.36,532.22 424.15,531.58 424.95,530.91 425.75,530.20 426.54,529.47 427.33,528.71 428.13,527.83 428.92,526.82 429.72,525.70 430.51,524.51 431.31,523.26 432.11,521.99 432.90,520.72 433.69,519.48 434.49,518.31 435.28,517.22 436.08,516.26 436.88,515.32 437.67,514.33 438.46,513.32 439.26,512.32 440.06,511.34 440.85,510.44 441.64,509.62 442.44,508.93 443.24,508.38 444.03,508.01 444.82,507.85 445.62,507.94 446.41,508.29 447.21,508.87 448.00,509.64 448.80,510.57 449.59,511.62 450.39,512.75 451.19,513.92 451.98,515.28 452.77,517.13 453.57,519.38 454.37,521.90 455.16,524.60 455.95,527.35 456.75,530.05 457.54,532.59 458.34,535.03 459.13,537.61 459.93,540.27 460.72,542.92 461.52,545.47 462.31,547.84 463.11,549.94 463.90,551.69 464.70,553.14 465.50,554.52 466.29,555.81 467.08,557.00 467.88,558.07 468.67,558.99 469.47,559.75 470.26,560.31 471.06,560.73 471.86,561.12 472.65,561.49 473.44,561.81 474.24,562.08 475.03,562.29 475.83,562.44" fill="none" stroke="#1010ee" stroke-width="2.4" stroke-linejoin="round" stroke-linecap="round"/>
<polyline points="385.20,549.89 386.00,546.49 386.79,542.80 387.58,538.81 388.38,534.56 389.18,530.03 389.97,524.71 390.76,518.68 391.56,512.36 392.35,506.19 393.15,500.59 393.94,496.00 394.74,492.26 395.53,488.52 396.33,484.92 397.12,481.67 397.92,478.96 398.71,477.01 399.51,475.99 400.31,476.17 401.10,477.66 401.89,480.09 402.69,483.05 403.49,486.14 404.28,488.93 405.07,491.59 405.87,494.46 406.66,497.47 407.46,500.50 408.25,503.47 409.05,506.27 409.84,508.81 410.64,511.00 411.44,512.93 412.23,514.75 413.02,516.49 413.82,518.13 414.62,519.69 415.41,521.17 416.20,522.58 417.00,523.92 417.79,525.20 418.59,526.42 419.38,527.59 420.18,528.71 420.97,529.78 421.77,530.82 422.56,531.81 423.36,532.76 424.15,533.68 424.95,534.57 425.75,535.43 426.54,536.26 427.33,537.07 428.13,537.85 428.92,538.62 429.72,539.38 430.51,540.12 431.31,540.85 432.11,541.57 432.90,542.27 433.69,542.96 434.49,543.64 435.28,544.30 436.08,544.95 436.88,545.58 437.67,546.19 438.46,546.78 439.26,547.36 440.06,547.92 440.85,548.45 441.64,548.97 442.44,549.47 443.24,549.95 444.03,550.42 444.82,550.89 445.62,551.35 446.41,551.79 447.21,552.23 448.00,552.65 448.80,553.06 449.59,553.46 450.39,553.84 451.19,554.21 451.98,554.56 452.77,554.89 453.57,555.20 454.37,555.50 455.16,555.77 455.95,556.04 456.75,556.29 457.54,556.55 458.34,556.79 459.13,557.04 459.93,557.27 460.72,557.51 461.52,557.73 462.31,557.95 463.11,558.16 463.90,558.37 464.70,558.57 465.50,558.77 466.29,558.95 467.08,559.13 467.88,559.30 468.67,559.47 469.47,559.63 470.26,559.78 471.06,559.92 471.86,560.05 472.65,560.17 473.44,560.29 474.24,560.40 475.03,560.50 475.83,560.60 476.62,560.70 477.42,560.79 478.21,560.89 479.01,560.98 479.80,561.06 480.60,561.15 481.39,561.23 482.19,561.31 482.99,561.39 483.78,561.46 484.57,561.53 485.37,561.60 486.16,561.67 486.96,561.73 487.75,561.78 488.55,561.84 489.34,561.89 490.14,561.93 490.94,561.98 491.73,562.02 492.52,562.05 493.32,562.08 494.12,562.11 494.91,562.13 495.70,562.16 496.50,562.19 497.29,562.21 498.09,562.24 498.88,562.26 499.68,562.29 500.47,562.31 501.27,562.33" fill="none" stroke="#f01414" stroke-width="2.4" stroke-linejoin="round" stroke-linecap="round"/>
<polyline points="385.20,562.50 386.00,561.89 386.79,561.12 387.58,560.21 388.38,559.17 389.18,558.03 389.97,556.79 390.76,555.47 391.56,554.09 392.35,552.52 393.15,550.67 393.94,548.59 394.74,546.37 395.53,544.05 396.33,541.72 397.12,539.44 397.92,537.28 398.71,535.13 399.51,532.90 400.31,530.61 401.10,528.30 401.89,526.01 402.69,523.76 403.49,521.59 404.28,519.54 405.07,517.63 405.87,515.92 406.66,514.42 407.46,513.09 408.25,511.77 409.05,510.48 409.84,509.25 410.64,508.11 411.44,507.08 412.23,506.19 413.02,505.47 413.82,504.95 414.62,504.65 415.41,504.43 416.20,504.24 417.00,504.06 417.79,503.92 418.59,503.80 419.38,503.71 420.18,503.66 420.97,503.65 421.77,503.80 422.56,504.16 423.36,504.69 424.15,505.36 424.95,506.16 425.75,507.06 426.54,508.02 427.33,509.03 428.13,510.05 428.92,511.07 429.72,512.05 430.51,513.08 431.31,514.22 432.11,515.47 432.90,516.79 433.69,518.18 434.49,519.60 435.28,521.04 436.08,522.47 436.88,523.87 437.67,525.23 438.46,526.52 439.26,527.75 440.06,528.99 440.85,530.24 441.64,531.48 442.44,532.71 443.24,533.93 444.03,535.12 444.82,536.29 445.62,537.42 446.41,538.51 447.21,539.56 448.00,540.55 448.80,541.48 449.59,542.37 450.39,543.24 451.19,544.10 451.98,544.93 452.77,545.73 453.57,546.51 454.37,547.26 455.16,547.98 455.95,548.67 456.75,549.32 457.54,549.93 458.34,550.51 459.13,551.04 459.93,551.55 460.72,552.05 461.52,552.53 462.31,552.99 463.11,553.44 463.90,553.88 464.70,554.30 465.50,554.70 466.29,555.09 467.08,555.45 467.88,555.81 468.67,556.14 469.47,556.46 470.26,556.75 471.06,557.03 471.86,557.30 472.65,557.55 473.44,557.79 474.24,558.02 475.03,558.24 475.83,558.46 476.62,558.67 477.42,558.87 478.21,559.06 479.01,559.25 479.80,559.43 480.60,559.61 481.39,559.78 482.19,559.94 482.99,560.10 483.78,560.25 484.57,560.40 485.37,560.54 486.16,560.68 486.96,560.82 487.75,560.95 488.55,561.08 489.34,561.21 490.14,561.33 490.94,561.45 491.73,561.57 492.52,561.68 493.32,561.79 494.12,561.89 494.91,562.00 495.70,562.09 496.50,562.18 497.29,562.27 498.09,562.35 498.88,562.43" fill="none" stroke="#44f024" stroke-width="2.4" stroke-linejoin="round" stroke-linecap="round"/>
<path d="M385.2,457.4 L385.2,562.5 L512.4,562.5" fill="none" stroke="#333" stroke-width="1"/>
<text x="380.2" y="461.4" font-size="11" font-weight="bold" text-anchor="end" stroke="#111" stroke-width="0.28" stroke-linejoin="round" >5</text>
<text x="380.2" y="514.0" font-size="11" font-weight="bold" text-anchor="end" stroke="#111" stroke-width="0.28" stroke-linejoin="round" >2.5</text>
<text x="380.2" y="566.5" font-size="11" font-weight="bold" text-anchor="end" stroke="#111" stroke-width="0.28" stroke-linejoin="round" >0</text>
<path d="M383.2,457.40 L385.2,457.40 M383.2,509.95 L385.2,509.95 M383.2,562.50 L385.2,562.50 M448.80,562.5 L448.80,564.5 M512.4,562.5 L512.4,564.5" stroke="#333" stroke-width="1" fill="none"/>
<text x="451.8" y="578.6" font-size="11" font-weight="bold" text-anchor="middle" stroke="#111" stroke-width="0.28" stroke-linejoin="round" >0.5</text>
<text x="510.0" y="578.6" font-size="11" font-weight="bold" text-anchor="middle" stroke="#111" stroke-width="0.28" stroke-linejoin="round" >1</text>
</g>
<g>
<g style="" fill="#6474f0" fill-opacity="1.0" stroke="#2c38b4" stroke-width="0.75" stroke-opacity="0.9"><rect x="50.90" y="671.60" width="3.21" height="21.40"/><rect x="54.11" y="667.43" width="3.21" height="25.57"/><rect x="57.31" y="662.16" width="3.21" height="30.84"/><rect x="60.52" y="659.97" width="3.21" height="33.03"/><rect x="63.73" y="657.87" width="3.21" height="35.13"/><rect x="66.94" y="658.41" width="3.21" height="34.59"/><rect x="70.14" y="653.74" width="3.21" height="39.26"/><rect x="73.35" y="656.37" width="3.21" height="36.63"/><rect x="76.56" y="653.19" width="3.21" height="39.81"/><rect x="79.77" y="649.71" width="3.21" height="43.29"/><rect x="82.97" y="644.00" width="3.21" height="49.00"/><rect x="86.18" y="641.48" width="3.21" height="51.52"/><rect x="89.39" y="631.95" width="3.21" height="61.05"/><rect x="92.60" y="627.07" width="3.21" height="65.93"/><rect x="95.80" y="632.33" width="3.21" height="60.67"/><rect x="99.01" y="633.45" width="3.21" height="59.55"/><rect x="102.22" y="643.55" width="3.21" height="49.45"/><rect x="105.43" y="650.51" width="3.21" height="42.49"/><rect x="108.63" y="661.22" width="3.21" height="31.78"/><rect x="111.84" y="666.89" width="3.21" height="26.11"/><rect x="115.05" y="676.21" width="3.21" height="16.79"/><rect x="118.26" y="681.12" width="3.21" height="11.88"/><rect x="121.47" y="685.97" width="3.21" height="7.03"/><rect x="124.67" y="688.70" width="3.21" height="4.30"/><rect x="127.88" y="690.67" width="3.21" height="2.33"/><rect x="131.09" y="691.82" width="3.21" height="1.18"/><rect x="134.29" y="692.44" width="3.21" height="0.56"/></g>
<g style="mix-blend-mode:multiply;" fill="#58cc5c" fill-opacity="1.0" stroke="#278232" stroke-width="0.75" stroke-opacity="0.9"><rect x="50.90" y="680.38" width="3.21" height="12.62"/><rect x="54.11" y="666.07" width="3.21" height="26.93"/><rect x="57.31" y="648.80" width="3.21" height="44.20"/><rect x="60.52" y="636.29" width="3.21" height="56.71"/><rect x="63.73" y="622.46" width="3.21" height="70.54"/><rect x="66.94" y="611.80" width="3.21" height="81.20"/><rect x="70.14" y="604.36" width="3.21" height="88.64"/><rect x="73.35" y="610.28" width="3.21" height="82.72"/><rect x="76.56" y="613.47" width="3.21" height="79.53"/><rect x="79.77" y="622.10" width="3.21" height="70.90"/><rect x="82.97" y="631.27" width="3.21" height="61.73"/><rect x="86.18" y="644.56" width="3.21" height="48.44"/><rect x="89.39" y="652.45" width="3.21" height="40.55"/><rect x="92.60" y="661.70" width="3.21" height="31.30"/><rect x="95.80" y="666.28" width="3.21" height="26.72"/><rect x="99.01" y="672.07" width="3.21" height="20.93"/><rect x="102.22" y="675.15" width="3.21" height="17.85"/><rect x="105.43" y="680.67" width="3.21" height="12.33"/><rect x="108.63" y="684.16" width="3.21" height="8.84"/><rect x="111.84" y="687.61" width="3.21" height="5.39"/><rect x="115.05" y="689.94" width="3.21" height="3.06"/><rect x="118.26" y="691.66" width="3.21" height="1.34"/></g>
<g style="" fill="#f60c0c" fill-opacity="0.64" stroke="#8a0c0c" stroke-width="0.75" stroke-opacity="0.9"><rect x="50.90" y="684.78" width="3.21" height="8.22"/><rect x="54.11" y="680.60" width="3.21" height="12.40"/><rect x="57.31" y="675.53" width="3.21" height="17.47"/><rect x="60.52" y="671.95" width="3.21" height="21.05"/><rect x="63.73" y="668.04" width="3.21" height="24.96"/><rect x="66.94" y="663.59" width="3.21" height="29.41"/><rect x="70.14" y="661.53" width="3.21" height="31.47"/><rect x="73.35" y="656.89" width="3.21" height="36.11"/><rect x="76.56" y="654.41" width="3.21" height="38.59"/><rect x="79.77" y="648.06" width="3.21" height="44.94"/><rect x="82.97" y="645.11" width="3.21" height="47.89"/><rect x="86.18" y="644.54" width="3.21" height="48.46"/><rect x="89.39" y="639.56" width="3.21" height="53.44"/><rect x="92.60" y="633.07" width="3.21" height="59.93"/><rect x="95.80" y="635.48" width="3.21" height="57.52"/><rect x="99.01" y="637.83" width="3.21" height="55.17"/><rect x="102.22" y="638.48" width="3.21" height="54.52"/><rect x="105.43" y="642.62" width="3.21" height="50.38"/><rect x="108.63" y="647.11" width="3.21" height="45.89"/><rect x="111.84" y="654.26" width="3.21" height="38.74"/><rect x="115.05" y="661.87" width="3.21" height="31.13"/><rect x="118.26" y="667.92" width="3.21" height="25.08"/><rect x="121.47" y="673.44" width="3.21" height="19.56"/><rect x="124.67" y="677.41" width="3.21" height="15.59"/><rect x="127.88" y="681.14" width="3.21" height="11.86"/><rect x="131.09" y="684.66" width="3.21" height="8.34"/><rect x="134.29" y="687.38" width="3.21" height="5.62"/><rect x="137.50" y="688.56" width="3.21" height="4.44"/><rect x="140.71" y="689.89" width="3.21" height="3.11"/><rect x="143.92" y="690.84" width="3.21" height="2.16"/><rect x="147.12" y="691.62" width="3.21" height="1.38"/><rect x="150.33" y="692.23" width="3.21" height="0.77"/></g>
<polyline points="50.90,675.94 51.70,674.41 52.50,672.93 53.31,671.51 54.11,670.18 54.91,668.94 55.71,667.83 56.51,666.82 57.31,665.87 58.12,664.96 58.92,664.09 59.72,663.27 60.52,662.50 61.32,661.78 62.13,661.11 62.93,660.51 63.73,659.95 64.53,659.46 65.33,659.01 66.14,658.61 66.94,658.24 67.74,657.89 68.54,657.55 69.34,657.23 70.14,656.90 70.95,656.56 71.75,656.21 72.55,655.83 73.35,655.41 74.15,654.96 74.96,654.48 75.76,653.99 76.56,653.48 77.36,652.95 78.16,652.39 78.97,651.80 79.77,651.18 80.57,650.51 81.37,649.80 82.17,649.04 82.97,648.23 83.78,647.25 84.58,646.05 85.38,644.67 86.18,643.18 86.98,641.64 87.79,640.09 88.59,638.61 89.39,637.24 90.19,636.05 90.99,635.05 91.80,634.06 92.60,633.05 93.40,632.10 94.20,631.27 95.00,630.62 95.81,630.21 96.61,630.12 97.41,630.43 98.21,631.12 99.01,632.12 99.81,633.34 100.62,634.71 101.42,636.15 102.22,637.57 103.02,639.13 103.82,641.01 104.63,643.13 105.43,645.43 106.23,647.86 107.03,650.36 107.83,652.85 108.63,655.28 109.44,657.59 110.24,659.74 111.04,661.90 111.84,664.10 112.64,666.31 113.45,668.48 114.25,670.60 115.05,672.62 115.85,674.51 116.65,676.25 117.46,677.79 118.26,679.18 119.06,680.53 119.86,681.83 120.66,683.07 121.47,684.23 122.27,685.30 123.07,686.27 123.87,687.12 124.67,687.84 125.47,688.41 126.28,688.92 127.08,689.39 127.88,689.83 128.68,690.23 129.48,690.60 130.29,690.94 131.09,691.25 131.89,691.52 132.69,691.76 133.49,691.97 134.29,692.15 135.10,692.30 135.90,692.46 136.70,692.60 137.50,692.72 138.30,692.83 139.11,692.92" fill="none" stroke="#1010ee" stroke-width="2.4" stroke-linejoin="round" stroke-linecap="round"/>
<polyline points="50.90,686.60 51.70,685.50 52.50,684.40 53.31,683.31 54.11,682.24 54.91,681.17 55.71,680.13 56.51,679.09 57.31,678.08 58.12,677.07 58.92,676.08 59.72,675.09 60.52,674.12 61.32,673.15 62.13,672.20 62.93,671.26 63.73,670.32 64.53,669.40 65.33,668.49 66.14,667.59 66.94,666.71 67.74,665.86 68.54,665.02 69.34,664.20 70.14,663.40 70.95,662.60 71.75,661.80 72.55,660.99 73.35,660.18 74.15,659.36 74.96,658.51 75.76,657.65 76.56,656.76 77.36,655.82 78.16,654.84 78.97,653.82 79.77,652.78 80.57,651.72 81.37,650.65 82.17,649.59 82.97,648.53 83.78,647.50 84.58,646.50 85.38,645.55 86.18,644.64 86.98,643.80 87.79,642.93 88.59,642.02 89.39,641.08 90.19,640.14 90.99,639.22 91.80,638.34 92.60,637.52 93.40,636.78 94.20,636.14 95.00,635.62 95.81,635.25 96.61,635.04 97.41,635.02 98.21,635.16 99.01,635.42 99.81,635.80 100.62,636.28 101.42,636.84 102.22,637.47 103.02,638.14 103.82,638.84 104.63,639.56 105.43,640.34 106.23,641.32 107.03,642.48 107.83,643.77 108.63,645.18 109.44,646.66 110.24,648.20 111.04,649.75 111.84,651.29 112.64,652.79 113.45,654.35 114.25,656.01 115.05,657.74 115.85,659.51 116.65,661.28 117.46,663.04 118.26,664.75 119.06,666.38 119.86,667.91 120.66,669.33 121.47,670.72 122.27,672.10 123.07,673.44 123.87,674.74 124.67,675.98 125.47,677.16 126.28,678.27 127.08,679.29 127.88,680.21 128.68,681.06 129.48,681.89 130.29,682.69 131.09,683.45 131.89,684.18 132.69,684.86 133.49,685.51 134.29,686.10 135.10,686.65 135.90,687.15 136.70,687.59 137.50,687.99 138.30,688.36 139.11,688.72 139.91,689.07 140.71,689.39 141.51,689.70 142.31,689.98 143.12,690.25 143.92,690.50 144.72,690.73 145.52,690.94 146.32,691.13 147.12,691.29 147.93,691.45 148.73,691.61 149.53,691.76 150.33,691.91 151.13,692.05 151.94,692.19 152.74,692.32 153.54,692.45 154.34,692.56 155.14,692.66 155.95,692.75 156.75,692.83 157.55,692.90" fill="none" stroke="#f01414" stroke-width="2.4" stroke-linejoin="round" stroke-linecap="round"/>
<polyline points="50.90,686.60 51.70,683.52 52.50,680.35 53.31,677.08 54.11,673.72 54.91,670.27 55.71,666.73 56.51,663.05 57.31,659.07 58.12,654.88 58.92,650.59 59.72,646.31 60.52,642.15 61.32,638.21 62.13,634.62 62.93,631.38 63.73,628.20 64.53,625.09 65.33,622.11 66.14,619.31 66.94,616.76 67.74,614.51 68.54,612.62 69.34,611.06 70.14,609.52 70.95,608.16 71.75,607.15 72.55,606.67 73.35,606.84 74.15,607.53 74.96,608.63 75.76,610.01 76.56,611.56 77.36,613.17 78.16,614.76 78.97,616.64 79.77,618.82 80.57,621.23 81.37,623.83 82.17,626.53 82.97,629.28 83.78,632.00 84.58,634.63 85.38,637.10 86.18,639.45 86.98,641.84 87.79,644.25 88.59,646.65 89.39,649.01 90.19,651.30 90.99,653.50 91.80,655.57 92.60,657.48 93.40,659.22 94.20,660.83 95.00,662.36 95.81,663.82 96.61,665.21 97.41,666.54 98.21,667.82 99.01,669.06 99.81,670.27 100.62,671.46 101.42,672.64 102.22,673.81 103.02,674.99 103.82,676.16 104.63,677.33 105.43,678.47 106.23,679.60 107.03,680.69 107.83,681.74 108.63,682.74 109.44,683.69 110.24,684.57 111.04,685.38 111.84,686.14 112.64,686.88 113.45,687.61 114.25,688.30 115.05,688.95 115.85,689.56 116.65,690.11 117.46,690.60 118.26,691.02 119.06,691.36 119.86,691.66 120.66,691.95 121.47,692.22 122.27,692.47 123.07,692.67 123.87,692.84 124.67,692.95" fill="none" stroke="#44f024" stroke-width="2.4" stroke-linejoin="round" stroke-linecap="round"/>
<path d="M50.9,586.4 L50.9,693.0 L179.2,693.0" fill="none" stroke="#333" stroke-width="1"/>
<text x="45.9" y="590.4" font-size="11" font-weight="bold" text-anchor="end" stroke="#111" stroke-width="0.28" stroke-linejoin="round" >5</text>
<text x="45.9" y="643.7" font-size="11" font-weight="bold" text-anchor="end" stroke="#111" stroke-width="0.28" stroke-linejoin="round" >2.5</text>
<text x="45.9" y="697.0" font-size="11" font-weight="bold" text-anchor="end" stroke="#111" stroke-width="0.28" stroke-linejoin="round" >0</text>
<path d="M48.9,586.40 L50.9,586.40 M48.9,639.70 L50.9,639.70 M48.9,693.00 L50.9,693.00 M115.05,693.0 L115.05,695.0 M179.2,693.0 L179.2,695.0" stroke="#333" stroke-width="1" fill="none"/>
<text x="118.5" y="708.4" font-size="11" font-weight="bold" text-anchor="middle" stroke="#111" stroke-width="0.28" stroke-linejoin="round" >0.5</text>
<text x="178.5" y="708.4" font-size="11" font-weight="bold" text-anchor="middle" stroke="#111" stroke-width="0.28" stroke-linejoin="round" >1</text>
</g>
<g>
<g style="" fill="#6474f0" fill-opacity="1.0" stroke="#2c38b4" stroke-width="0.75" stroke-opacity="0.9"><rect x="229.42" y="692.20" width="2.65" height="0.40"/><rect x="232.07" y="692.04" width="2.65" height="0.56"/><rect x="234.73" y="691.83" width="2.65" height="0.77"/><rect x="237.38" y="691.60" width="2.65" height="1.00"/><rect x="240.03" y="691.30" width="2.65" height="1.30"/><rect x="242.69" y="690.92" width="2.65" height="1.68"/><rect x="245.34" y="690.27" width="2.65" height="2.33"/><rect x="248.00" y="688.86" width="2.65" height="3.74"/><rect x="250.65" y="687.54" width="2.65" height="5.06"/><rect x="253.30" y="686.08" width="2.65" height="6.52"/><rect x="255.96" y="683.08" width="2.65" height="9.52"/><rect x="258.61" y="681.49" width="2.65" height="11.11"/><rect x="261.27" y="679.49" width="2.65" height="13.11"/><rect x="263.92" y="678.10" width="2.65" height="14.50"/><rect x="266.57" y="676.53" width="2.65" height="16.07"/><rect x="269.23" y="676.00" width="2.65" height="16.60"/><rect x="271.88" y="675.65" width="2.65" height="16.95"/><rect x="274.54" y="676.57" width="2.65" height="16.03"/><rect x="277.19" y="677.30" width="2.65" height="15.30"/><rect x="279.85" y="678.39" width="2.65" height="14.21"/><rect x="282.50" y="680.06" width="2.65" height="12.54"/><rect x="285.15" y="682.39" width="2.65" height="10.21"/><rect x="287.81" y="684.26" width="2.65" height="8.34"/><rect x="290.46" y="685.65" width="2.65" height="6.95"/><rect x="293.12" y="687.49" width="2.65" height="5.11"/><rect x="295.77" y="689.00" width="2.65" height="3.60"/><rect x="298.43" y="689.92" width="2.65" height="2.68"/><rect x="301.08" y="690.55" width="2.65" height="2.05"/><rect x="303.73" y="690.94" width="2.65" height="1.66"/><rect x="306.39" y="691.28" width="2.65" height="1.32"/><rect x="309.04" y="691.66" width="2.65" height="0.94"/><rect x="311.70" y="691.82" width="2.65" height="0.78"/><rect x="314.35" y="692.05" width="2.65" height="0.55"/><rect x="317.00" y="692.16" width="2.65" height="0.44"/></g>
<g style="mix-blend-mode:multiply;" fill="#58cc5c" fill-opacity="1.0" stroke="#278232" stroke-width="0.75" stroke-opacity="0.9"><rect x="220.00" y="687.29" width="3.54" height="5.31"/><rect x="223.54" y="591.71" width="3.54" height="100.89"/><rect x="227.08" y="635.08" width="3.54" height="57.53"/><rect x="230.62" y="660.74" width="3.54" height="31.86"/><rect x="234.16" y="683.75" width="3.54" height="8.85"/><rect x="237.69" y="689.01" width="3.54" height="3.59"/><rect x="241.23" y="690.80" width="3.54" height="1.80"/><rect x="244.77" y="691.74" width="3.54" height="0.86"/></g>
<g style="" fill="#f60c0c" fill-opacity="0.64" stroke="#8a0c0c" stroke-width="0.75" stroke-opacity="0.9"><rect x="218.80" y="674.46" width="2.65" height="18.14"/><rect x="221.45" y="674.90" width="2.65" height="17.70"/><rect x="224.11" y="675.34" width="2.65" height="17.26"/><rect x="226.76" y="675.71" width="2.65" height="16.89"/><rect x="229.42" y="676.98" width="2.65" height="15.62"/><rect x="232.07" y="678.47" width="2.65" height="14.13"/><rect x="234.73" y="677.92" width="2.65" height="14.68"/><rect x="237.38" y="680.03" width="2.65" height="12.57"/><rect x="240.03" y="680.42" width="2.65" height="12.18"/><rect x="242.69" y="680.87" width="2.65" height="11.73"/><rect x="245.34" y="682.24" width="2.65" height="10.36"/><rect x="248.00" y="683.26" width="2.65" height="9.34"/><rect x="250.65" y="683.82" width="2.65" height="8.78"/><rect x="253.30" y="685.41" width="2.65" height="7.19"/><rect x="255.96" y="685.69" width="2.65" height="6.91"/><rect x="258.61" y="686.51" width="2.65" height="6.09"/><rect x="261.27" y="686.78" width="2.65" height="5.82"/><rect x="263.92" y="687.52" width="2.65" height="5.08"/><rect x="266.57" y="688.47" width="2.65" height="4.13"/><rect x="269.23" y="688.86" width="2.65" height="3.74"/><rect x="271.88" y="689.16" width="2.65" height="3.44"/><rect x="274.54" y="689.47" width="2.65" height="3.13"/><rect x="277.19" y="689.95" width="2.65" height="2.65"/><rect x="279.85" y="690.26" width="2.65" height="2.34"/><rect x="282.50" y="690.40" width="2.65" height="2.20"/><rect x="285.15" y="690.67" width="2.65" height="1.93"/><rect x="287.81" y="691.03" width="2.65" height="1.57"/><rect x="290.46" y="691.17" width="2.65" height="1.43"/><rect x="293.12" y="691.45" width="2.65" height="1.15"/><rect x="295.77" y="691.65" width="2.65" height="0.95"/><rect x="298.43" y="691.75" width="2.65" height="0.85"/><rect x="301.08" y="691.88" width="2.65" height="0.72"/><rect x="303.73" y="691.99" width="2.65" height="0.61"/><rect x="306.39" y="692.11" width="2.65" height="0.49"/><rect x="309.04" y="692.23" width="2.65" height="0.37"/></g>
<polyline points="218.80,692.60 219.60,692.60 220.39,692.59 221.19,692.58 221.99,692.56 222.78,692.54 223.58,692.52 224.37,692.49 225.17,692.46 225.97,692.43 226.76,692.39 227.56,692.36 228.36,692.32 229.15,692.28 229.95,692.24 230.74,692.20 231.54,692.16 232.34,692.11 233.13,692.07 233.93,692.02 234.73,691.96 235.52,691.90 236.32,691.84 237.11,691.77 237.91,691.69 238.71,691.61 239.50,691.52 240.30,691.42 241.09,691.32 241.89,691.21 242.69,691.09 243.48,690.97 244.28,690.83 245.08,690.66 245.87,690.44 246.67,690.17 247.47,689.86 248.26,689.51 249.06,689.13 249.85,688.73 250.65,688.30 251.45,687.86 252.24,687.40 253.04,686.94 253.84,686.45 254.63,685.87 255.43,685.23 256.22,684.54 257.02,683.82 257.82,683.10 258.61,682.39 259.41,681.72 260.20,681.10 261.00,680.55 261.80,680.02 262.59,679.49 263.39,678.97 264.19,678.48 264.98,678.03 265.78,677.63 266.57,677.31 267.37,677.07 268.17,676.86 268.96,676.66 269.76,676.48 270.56,676.32 271.35,676.18 272.15,676.08 272.94,676.02 273.74,676.01 274.54,676.06 275.33,676.17 276.13,676.33 276.93,676.54 277.72,676.78 278.52,677.05 279.31,677.33 280.11,677.61 280.91,677.97 281.70,678.42 282.50,678.94 283.30,679.52 284.09,680.14 284.89,680.77 285.69,681.42 286.48,682.04 287.28,682.64 288.07,683.20 288.87,683.80 289.67,684.42 290.46,685.05 291.26,685.67 292.06,686.27 292.85,686.84 293.65,687.35 294.44,687.80 295.24,688.18 296.04,688.49 296.83,688.80 297.63,689.09 298.43,689.37 299.22,689.63 300.02,689.87 300.81,690.10 301.61,690.31 302.41,690.50 303.20,690.67 304.00,690.82 304.80,690.96 305.59,691.07 306.39,691.18 307.18,691.27 307.98,691.37 308.78,691.45 309.57,691.54 310.37,691.61 311.17,691.69 311.96,691.75 312.76,691.82 313.55,691.88 314.35,691.93 315.15,691.99 315.94,692.04 316.74,692.08 317.53,692.13 318.33,692.17 319.13,692.20 319.92,692.24 320.72,692.28 321.52,692.32 322.31,692.35 323.11,692.39 323.90,692.42 324.70,692.45" fill="none" stroke="#1010ee" stroke-width="2.4" stroke-linejoin="round" stroke-linecap="round"/>
<polyline points="218.80,683.75 219.60,682.62 220.39,681.55 221.19,680.60 221.99,679.81 222.78,679.22 223.58,678.72 224.37,678.25 225.17,677.81 225.97,677.42 226.76,677.09 227.56,676.85 228.36,676.71 229.15,676.67 229.95,676.74 230.74,676.89 231.54,677.11 232.34,677.37 233.13,677.65 233.93,677.95 234.73,678.23 235.52,678.49 236.32,678.74 237.11,679.00 237.91,679.28 238.71,679.56 239.50,679.84 240.30,680.13 241.09,680.41 241.89,680.70 242.69,680.98 243.48,681.26 244.28,681.54 245.08,681.81 245.87,682.08 246.67,682.36 247.47,682.64 248.26,682.92 249.06,683.20 249.85,683.48 250.65,683.75 251.45,684.02 252.24,684.29 253.04,684.55 253.84,684.81 254.63,685.05 255.43,685.29 256.22,685.52 257.02,685.74 257.82,685.95 258.61,686.16 259.41,686.37 260.20,686.57 261.00,686.77 261.80,686.96 262.59,687.15 263.39,687.33 264.19,687.51 264.98,687.69 265.78,687.86 266.57,688.02 267.37,688.18 268.17,688.33 268.96,688.48 269.76,688.62 270.56,688.75 271.35,688.88 272.15,689.01 272.94,689.14 273.74,689.26 274.54,689.38 275.33,689.49 276.13,689.61 276.93,689.72 277.72,689.82 278.52,689.92 279.31,690.02 280.11,690.12 280.91,690.21 281.70,690.30 282.50,690.39 283.30,690.47 284.09,690.55 284.89,690.64 285.69,690.71 286.48,690.79 287.28,690.87 288.07,690.94 288.87,691.01 289.67,691.08 290.46,691.15 291.26,691.21 292.06,691.27 292.85,691.33 293.65,691.39 294.44,691.44 295.24,691.49 296.04,691.54 296.83,691.59 297.63,691.64 298.43,691.69 299.22,691.73 300.02,691.78 300.81,691.82 301.61,691.86 302.41,691.90 303.20,691.94 304.00,691.98 304.80,692.01 305.59,692.05 306.39,692.08 307.18,692.12 307.98,692.15 308.78,692.18 309.57,692.21 310.37,692.24 311.17,692.27 311.96,692.30 312.76,692.32 313.55,692.35 314.35,692.37 315.15,692.40 315.94,692.42" fill="none" stroke="#f01414" stroke-width="2.4" stroke-linejoin="round" stroke-linecap="round"/>
<polyline points="218.80,690.39 219.60,687.67 220.39,682.13 221.19,674.63 221.99,666.05 222.78,652.24 223.58,633.91 224.37,619.17 225.17,611.41 225.97,608.91 226.76,618.90 227.56,631.99 228.36,644.44 229.15,656.35 229.95,664.37 230.74,670.62 231.54,675.78 232.34,679.59 233.13,681.86 233.93,683.58 234.73,685.02 235.52,686.22 236.32,687.20 237.11,687.99 237.91,688.62 238.71,689.15 239.50,689.63 240.30,690.06 241.09,690.44 241.89,690.77 242.69,691.06 243.48,691.30 244.28,691.49 245.08,691.67 245.87,691.84 246.67,692.00 247.47,692.15 248.26,692.28 249.06,692.40 249.85,692.49" fill="none" stroke="#44f024" stroke-width="2.4" stroke-linejoin="round" stroke-linecap="round"/>
<path d="M218.8,586.4 L218.8,692.6 L346.2,692.6" fill="none" stroke="#333" stroke-width="1"/>
<text x="213.8" y="590.4" font-size="11" font-weight="bold" text-anchor="end" stroke="#111" stroke-width="0.28" stroke-linejoin="round" >24</text>
<text x="213.8" y="643.5" font-size="11" font-weight="bold" text-anchor="end" stroke="#111" stroke-width="0.28" stroke-linejoin="round" >12</text>
<text x="213.8" y="696.6" font-size="11" font-weight="bold" text-anchor="end" stroke="#111" stroke-width="0.28" stroke-linejoin="round" >0</text>
<path d="M216.8,586.40 L218.8,586.40 M216.8,639.50 L218.8,639.50 M216.8,692.60 L218.8,692.60 M282.50,692.6 L282.50,694.6 M346.2,692.6 L346.2,694.6" stroke="#333" stroke-width="1" fill="none"/>
<text x="283.2" y="709.4" font-size="11" font-weight="bold" text-anchor="middle" stroke="#111" stroke-width="0.28" stroke-linejoin="round" >0.5</text>
<text x="343.8" y="709.4" font-size="11" font-weight="bold" text-anchor="middle" stroke="#111" stroke-width="0.28" stroke-linejoin="round" >1</text>
</g>
<g>
<g style="" fill="#6474f0" fill-opacity="1.0" stroke="#2c38b4" stroke-width="0.75" stroke-opacity="0.9"><rect x="385.60" y="688.04" width="3.18" height="4.56"/><rect x="388.78" y="687.69" width="3.18" height="4.91"/><rect x="391.97" y="686.76" width="3.18" height="5.84"/><rect x="395.15" y="686.74" width="3.18" height="5.86"/><rect x="398.33" y="686.25" width="3.18" height="6.35"/><rect x="401.51" y="685.43" width="3.18" height="7.17"/><rect x="404.69" y="684.98" width="3.18" height="7.62"/><rect x="407.88" y="684.40" width="3.18" height="8.20"/><rect x="411.06" y="683.56" width="3.18" height="9.04"/><rect x="414.24" y="681.96" width="3.18" height="10.64"/><rect x="417.43" y="680.54" width="3.18" height="12.06"/><rect x="420.61" y="677.55" width="3.18" height="15.05"/><rect x="423.79" y="673.86" width="3.18" height="18.74"/><rect x="426.97" y="668.75" width="3.18" height="23.85"/><rect x="430.16" y="662.42" width="3.18" height="30.18"/><rect x="433.34" y="653.61" width="3.18" height="38.99"/><rect x="436.52" y="647.04" width="3.18" height="45.56"/><rect x="439.70" y="641.74" width="3.18" height="50.86"/><rect x="442.88" y="636.93" width="3.18" height="55.67"/><rect x="446.07" y="642.02" width="3.18" height="50.58"/><rect x="449.25" y="653.25" width="3.18" height="39.35"/><rect x="452.43" y="661.25" width="3.18" height="31.35"/><rect x="455.62" y="670.93" width="3.18" height="21.67"/><rect x="458.80" y="679.77" width="3.18" height="12.83"/><rect x="461.98" y="685.47" width="3.18" height="7.13"/><rect x="465.16" y="689.45" width="3.18" height="3.15"/><rect x="468.34" y="691.40" width="3.18" height="1.20"/></g>
<g style="mix-blend-mode:multiply;" fill="#58cc5c" fill-opacity="1.0" stroke="#278232" stroke-width="0.75" stroke-opacity="0.9"><rect x="385.60" y="691.26" width="3.18" height="1.34"/><rect x="388.78" y="686.31" width="3.18" height="6.29"/><rect x="391.97" y="678.42" width="3.18" height="14.18"/><rect x="395.15" y="665.42" width="3.18" height="27.18"/><rect x="398.33" y="653.69" width="3.18" height="38.91"/><rect x="401.51" y="644.33" width="3.18" height="48.27"/><rect x="404.69" y="636.46" width="3.18" height="56.14"/><rect x="407.88" y="639.15" width="3.18" height="53.45"/><rect x="411.06" y="638.22" width="3.18" height="54.38"/><rect x="414.24" y="638.31" width="3.18" height="54.29"/><rect x="417.43" y="645.46" width="3.18" height="47.14"/><rect x="420.61" y="655.52" width="3.18" height="37.08"/><rect x="423.79" y="663.41" width="3.18" height="29.19"/><rect x="426.97" y="669.32" width="3.18" height="23.28"/><rect x="430.16" y="674.84" width="3.18" height="17.76"/><rect x="433.34" y="678.42" width="3.18" height="14.18"/><rect x="436.52" y="682.43" width="3.18" height="10.17"/><rect x="439.70" y="684.83" width="3.18" height="7.77"/><rect x="442.88" y="686.49" width="3.18" height="6.11"/><rect x="446.07" y="688.22" width="3.18" height="4.38"/><rect x="449.25" y="689.42" width="3.18" height="3.18"/><rect x="452.43" y="690.46" width="3.18" height="2.14"/><rect x="455.62" y="691.31" width="3.18" height="1.29"/><rect x="458.80" y="692.04" width="3.18" height="0.56"/></g>
<g style="" fill="#f60c0c" fill-opacity="0.64" stroke="#8a0c0c" stroke-width="0.75" stroke-opacity="0.9"><rect x="385.60" y="606.98" width="3.18" height="85.62"/><rect x="388.78" y="604.99" width="3.18" height="87.62"/><rect x="391.97" y="619.36" width="3.18" height="73.24"/><rect x="395.15" y="644.22" width="3.18" height="48.38"/><rect x="398.33" y="653.29" width="3.18" height="39.31"/><rect x="401.51" y="661.55" width="3.18" height="31.05"/><rect x="404.69" y="665.76" width="3.18" height="26.84"/><rect x="407.88" y="669.34" width="3.18" height="23.26"/><rect x="411.06" y="672.94" width="3.18" height="19.66"/><rect x="414.24" y="675.35" width="3.18" height="17.25"/><rect x="417.43" y="678.16" width="3.18" height="14.44"/><rect x="420.61" y="678.78" width="3.18" height="13.82"/><rect x="423.79" y="680.99" width="3.18" height="11.61"/><rect x="426.97" y="681.87" width="3.18" height="10.73"/><rect x="430.16" y="683.53" width="3.18" height="9.07"/><rect x="433.34" y="684.22" width="3.18" height="8.38"/><rect x="436.52" y="684.63" width="3.18" height="7.97"/><rect x="439.70" y="685.77" width="3.18" height="6.83"/><rect x="442.88" y="686.57" width="3.18" height="6.03"/><rect x="446.07" y="687.41" width="3.18" height="5.19"/><rect x="449.25" y="687.81" width="3.18" height="4.79"/><rect x="452.43" y="688.69" width="3.18" height="3.91"/><rect x="455.62" y="689.26" width="3.18" height="3.34"/><rect x="458.80" y="689.57" width="3.18" height="3.03"/><rect x="461.98" y="690.11" width="3.18" height="2.49"/><rect x="465.16" y="690.39" width="3.18" height="2.21"/><rect x="468.34" y="690.89" width="3.18" height="1.71"/><rect x="471.53" y="691.08" width="3.18" height="1.52"/><rect x="474.71" y="691.36" width="3.18" height="1.24"/><rect x="477.89" y="691.67" width="3.18" height="0.93"/><rect x="481.07" y="691.83" width="3.18" height="0.77"/><rect x="484.26" y="692.03" width="3.18" height="0.57"/><rect x="487.44" y="692.21" width="3.18" height="0.39"/></g>
<polyline points="385.60,688.62 386.40,688.45 387.19,688.28 387.99,688.12 388.78,687.95 389.58,687.79 390.37,687.64 391.17,687.48 391.97,687.33 392.76,687.18 393.56,687.03 394.35,686.88 395.15,686.74 395.94,686.60 396.74,686.47 397.53,686.34 398.33,686.23 399.13,686.12 399.92,686.01 400.72,685.90 401.51,685.80 402.31,685.69 403.10,685.58 403.90,685.47 404.69,685.35 405.49,685.22 406.29,685.09 407.08,684.94 407.88,684.77 408.67,684.60 409.47,684.41 410.26,684.20 411.06,683.97 411.86,683.73 412.65,683.47 413.45,683.19 414.24,682.89 415.04,682.56 415.83,682.21 416.63,681.84 417.43,681.44 418.22,681.02 419.02,680.57 419.81,680.09 420.61,679.55 421.40,678.88 422.20,678.10 422.99,677.22 423.79,676.25 424.59,675.20 425.38,674.08 426.18,672.91 426.97,671.70 427.77,670.47 428.56,669.21 429.36,667.92 430.16,666.47 430.95,664.90 431.75,663.22 432.54,661.48 433.34,659.69 434.13,657.90 434.93,656.12 435.72,654.41 436.52,652.77 437.32,651.06 438.11,649.14 438.91,647.14 439.70,645.16 440.50,643.32 441.29,641.72 442.09,640.48 442.88,639.70 443.68,639.51 444.48,639.84 445.27,640.57 446.07,641.62 446.86,642.92 447.66,644.38 448.45,645.92 449.25,647.47 450.05,649.24 450.84,651.46 451.64,653.99 452.43,656.73 453.23,659.55 454.02,662.35 454.82,664.99 455.62,667.38 456.41,669.62 457.21,671.89 458.00,674.13 458.80,676.30 459.59,678.36 460.39,680.24 461.18,681.91 461.98,683.31 462.78,684.54 463.57,685.71 464.37,686.81 465.16,687.82 465.96,688.72 466.75,689.50 467.55,690.13 468.35,690.61 469.14,690.99 469.94,691.36 470.73,691.70 471.53,692.00 472.32,692.24 473.12,692.44 473.91,692.56" fill="none" stroke="#1010ee" stroke-width="2.4" stroke-linejoin="round" stroke-linecap="round"/>
<polyline points="385.60,648.79 386.40,636.83 387.19,626.86 387.99,619.40 388.78,613.93 389.58,609.81 390.37,609.20 391.17,611.50 391.97,615.39 392.76,619.80 393.56,623.83 394.35,628.33 395.15,633.19 395.94,637.94 396.74,642.09 397.53,645.39 398.33,648.40 399.13,651.19 399.92,653.74 400.72,656.02 401.51,658.03 402.31,659.73 403.10,661.27 403.90,662.72 404.69,664.07 405.49,665.34 406.29,666.53 407.08,667.63 407.88,668.65 408.67,669.60 409.47,670.48 410.26,671.28 411.06,672.02 411.86,672.71 412.65,673.37 413.45,673.99 414.24,674.59 415.04,675.16 415.83,675.70 416.63,676.21 417.43,676.70 418.22,677.17 419.02,677.62 419.81,678.05 420.61,678.47 421.40,678.87 422.20,679.25 422.99,679.63 423.79,679.99 424.59,680.34 425.38,680.69 426.18,681.02 426.97,681.34 427.77,681.66 428.56,681.96 429.36,682.26 430.16,682.55 430.95,682.83 431.75,683.10 432.54,683.37 433.34,683.62 434.13,683.88 434.93,684.12 435.72,684.36 436.52,684.59 437.32,684.82 438.11,685.04 438.91,685.26 439.70,685.47 440.50,685.68 441.29,685.88 442.09,686.08 442.88,686.28 443.68,686.47 444.48,686.66 445.27,686.85 446.07,687.03 446.86,687.21 447.66,687.38 448.45,687.55 449.25,687.72 450.05,687.88 450.84,688.04 451.64,688.19 452.43,688.34 453.23,688.48 454.02,688.62 454.82,688.75 455.62,688.88 456.41,689.01 457.21,689.13 458.00,689.26 458.80,689.38 459.59,689.50 460.39,689.62 461.18,689.73 461.98,689.85 462.78,689.96 463.57,690.07 464.37,690.18 465.16,690.28 465.96,690.38 466.75,690.48 467.55,690.57 468.35,690.67 469.14,690.76 469.94,690.84 470.73,690.92 471.53,691.00 472.32,691.07 473.12,691.14 473.91,691.21 474.71,691.27 475.51,691.33 476.30,691.39 477.10,691.45 477.89,691.51 478.69,691.57 479.48,691.62 480.28,691.68 481.07,691.74 481.87,691.79 482.67,691.84 483.46,691.90 484.26,691.95 485.05,692.00 485.85,692.05 486.64,692.10 487.44,692.14 488.24,692.19 489.03,692.23 489.83,692.27 490.62,692.31 491.42,692.35 492.21,692.38 493.01,692.41 493.81,692.44" fill="none" stroke="#f01414" stroke-width="2.4" stroke-linejoin="round" stroke-linecap="round"/>
<polyline points="385.60,692.60 386.40,692.08 387.19,691.31 387.99,690.34 388.78,689.19 389.58,687.91 390.37,686.53 391.17,685.02 391.97,683.13 392.76,680.90 393.56,678.40 394.35,675.71 395.15,672.89 395.94,670.02 396.74,667.17 397.53,664.28 398.33,660.96 399.13,657.39 399.92,653.85 400.72,650.57 401.51,647.80 402.31,645.79 403.10,644.08 403.90,642.43 404.69,640.88 405.49,639.51 406.29,638.37 407.08,637.50 407.88,636.98 408.67,636.85 409.47,636.92 410.26,637.09 411.06,637.35 411.86,637.69 412.65,638.10 413.45,638.56 414.24,639.07 415.04,639.62 415.83,640.52 416.63,641.84 417.43,643.49 418.22,645.35 419.02,647.35 419.81,649.37 420.61,651.33 421.40,653.12 422.20,654.92 422.99,656.80 423.79,658.73 424.59,660.67 425.38,662.59 426.18,664.47 426.97,666.26 427.77,667.94 428.56,669.47 429.36,670.85 430.16,672.17 430.95,673.44 431.75,674.66 432.54,675.83 433.34,676.93 434.13,677.97 434.93,678.94 435.72,679.83 436.52,680.65 437.32,681.41 438.11,682.15 438.91,682.85 439.70,683.51 440.50,684.15 441.29,684.75 442.09,685.31 442.88,685.84 443.68,686.33 444.48,686.79 445.27,687.21 446.07,687.60 446.86,687.97 447.66,688.33 448.45,688.67 449.25,688.99 450.05,689.30 450.84,689.59 451.64,689.86 452.43,690.12 453.23,690.37 454.02,690.60 454.82,690.81 455.62,691.01 456.41,691.19 457.21,691.38 458.00,691.55 458.80,691.72 459.59,691.88 460.39,692.02 461.18,692.16 461.98,692.29 462.78,692.40 463.57,692.50" fill="none" stroke="#44f024" stroke-width="2.4" stroke-linejoin="round" stroke-linecap="round"/>
<path d="M385.6,586.4 L385.6,692.6 L512.9,692.6" fill="none" stroke="#333" stroke-width="1"/>
<text x="380.6" y="590.4" font-size="11" font-weight="bold" text-anchor="end" stroke="#111" stroke-width="0.28" stroke-linejoin="round" >8</text>
<text x="380.6" y="643.5" font-size="11" font-weight="bold" text-anchor="end" stroke="#111" stroke-width="0.28" stroke-linejoin="round" >4</text>
<text x="380.6" y="696.6" font-size="11" font-weight="bold" text-anchor="end" stroke="#111" stroke-width="0.28" stroke-linejoin="round" >0</text>
<path d="M383.6,586.40 L385.6,586.40 M383.6,639.50 L385.6,639.50 M383.6,692.60 L385.6,692.60 M449.25,692.6 L449.25,694.6 M512.9,692.6 L512.9,694.6" stroke="#333" stroke-width="1" fill="none"/>
<text x="452.8" y="705.8" font-size="11" font-weight="bold" text-anchor="middle" stroke="#111" stroke-width="0.28" stroke-linejoin="round" >0.5</text>
<text x="514.6" y="705.8" font-size="11" font-weight="bold" text-anchor="middle" stroke="#111" stroke-width="0.28" stroke-linejoin="round" >1</text>
</g>
<g>
<g style="" fill="#6474f0" fill-opacity="1.0" stroke="#2c38b4" stroke-width="0.75" stroke-opacity="0.9"><rect x="50.90" y="822.28" width="2.95" height="2.32"/><rect x="53.85" y="816.80" width="2.95" height="7.80"/><rect x="56.80" y="811.59" width="2.95" height="13.01"/><rect x="59.76" y="805.08" width="2.95" height="19.52"/><rect x="62.71" y="798.52" width="2.95" height="26.08"/><rect x="65.66" y="794.15" width="2.95" height="30.45"/><rect x="68.61" y="789.16" width="2.95" height="35.44"/><rect x="71.57" y="787.52" width="2.95" height="37.08"/><rect x="74.52" y="784.09" width="2.95" height="40.51"/><rect x="77.47" y="782.25" width="2.95" height="42.35"/><rect x="80.42" y="781.05" width="2.95" height="43.55"/><rect x="83.38" y="779.15" width="2.95" height="45.45"/><rect x="86.33" y="777.91" width="2.95" height="46.69"/><rect x="89.28" y="778.78" width="2.95" height="45.82"/><rect x="92.23" y="781.24" width="2.95" height="43.36"/><rect x="95.18" y="781.68" width="2.95" height="42.92"/><rect x="98.14" y="786.36" width="2.95" height="38.24"/><rect x="101.09" y="786.36" width="2.95" height="38.24"/><rect x="104.04" y="786.47" width="2.95" height="38.13"/><rect x="106.99" y="794.37" width="2.95" height="30.23"/><rect x="109.95" y="796.83" width="2.95" height="27.77"/><rect x="112.90" y="800.74" width="2.95" height="23.86"/><rect x="115.85" y="807.36" width="2.95" height="17.24"/><rect x="118.80" y="811.25" width="2.95" height="13.35"/><rect x="121.75" y="815.38" width="2.95" height="9.22"/><rect x="124.71" y="819.42" width="2.95" height="5.18"/><rect x="127.66" y="821.37" width="2.95" height="3.23"/><rect x="130.61" y="822.98" width="2.95" height="1.62"/><rect x="133.56" y="823.95" width="2.95" height="0.65"/></g>
<g style="mix-blend-mode:multiply;" fill="#58cc5c" fill-opacity="1.0" stroke="#278232" stroke-width="0.75" stroke-opacity="0.9"><rect x="50.90" y="819.88" width="2.95" height="4.72"/><rect x="53.85" y="804.88" width="2.95" height="19.72"/><rect x="56.80" y="781.94" width="2.95" height="42.66"/><rect x="59.76" y="754.66" width="2.95" height="69.94"/><rect x="62.71" y="739.98" width="2.95" height="84.62"/><rect x="65.66" y="720.95" width="2.95" height="103.65"/><rect x="68.61" y="721.76" width="2.95" height="102.84"/><rect x="71.57" y="729.08" width="2.95" height="95.52"/><rect x="74.52" y="739.95" width="2.95" height="84.65"/><rect x="77.47" y="757.02" width="2.95" height="67.58"/><rect x="80.42" y="774.68" width="2.95" height="49.92"/><rect x="83.38" y="790.49" width="2.95" height="34.11"/><rect x="86.33" y="801.49" width="2.95" height="23.11"/><rect x="89.28" y="808.57" width="2.95" height="16.03"/><rect x="92.23" y="815.43" width="2.95" height="9.17"/><rect x="95.18" y="819.39" width="2.95" height="5.21"/><rect x="98.14" y="821.69" width="2.95" height="2.91"/><rect x="101.09" y="823.38" width="2.95" height="1.22"/><rect x="104.04" y="824.19" width="2.95" height="0.41"/></g>
<g style="" fill="#f60c0c" fill-opacity="0.64" stroke="#8a0c0c" stroke-width="0.75" stroke-opacity="0.9"><rect x="50.90" y="822.58" width="2.95" height="2.02"/><rect x="53.85" y="818.44" width="2.95" height="6.16"/><rect x="56.80" y="813.56" width="2.95" height="11.04"/><rect x="59.76" y="808.06" width="2.95" height="16.54"/><rect x="62.71" y="805.65" width="2.95" height="18.95"/><rect x="65.66" y="799.58" width="2.95" height="25.02"/><rect x="68.61" y="798.32" width="2.95" height="26.28"/><rect x="71.57" y="796.78" width="2.95" height="27.82"/><rect x="74.52" y="795.46" width="2.95" height="29.14"/><rect x="77.47" y="795.56" width="2.95" height="29.04"/><rect x="80.42" y="797.22" width="2.95" height="27.38"/><rect x="83.38" y="794.87" width="2.95" height="29.73"/><rect x="86.33" y="796.00" width="2.95" height="28.60"/><rect x="89.28" y="793.76" width="2.95" height="30.84"/><rect x="92.23" y="790.52" width="2.95" height="34.08"/><rect x="95.18" y="789.90" width="2.95" height="34.70"/><rect x="98.14" y="786.58" width="2.95" height="38.02"/><rect x="101.09" y="783.16" width="2.95" height="41.44"/><rect x="104.04" y="778.71" width="2.95" height="45.89"/><rect x="106.99" y="775.50" width="2.95" height="49.10"/><rect x="109.95" y="778.90" width="2.95" height="45.70"/><rect x="112.90" y="778.11" width="2.95" height="46.49"/><rect x="115.85" y="780.70" width="2.95" height="43.90"/><rect x="118.80" y="786.41" width="2.95" height="38.19"/><rect x="121.75" y="789.96" width="2.95" height="34.64"/><rect x="124.71" y="795.53" width="2.95" height="29.07"/><rect x="127.66" y="799.74" width="2.95" height="24.86"/><rect x="130.61" y="804.11" width="2.95" height="20.49"/><rect x="133.56" y="809.74" width="2.95" height="14.86"/><rect x="136.52" y="812.86" width="2.95" height="11.74"/><rect x="139.47" y="815.37" width="2.95" height="9.23"/><rect x="142.42" y="818.28" width="2.95" height="6.32"/><rect x="145.37" y="819.96" width="2.95" height="4.64"/><rect x="148.33" y="821.30" width="2.95" height="3.30"/><rect x="151.28" y="822.62" width="2.95" height="1.98"/><rect x="154.23" y="823.35" width="2.95" height="1.25"/><rect x="157.18" y="824.04" width="2.95" height="0.56"/></g>
<polyline points="50.90,824.60 51.71,823.28 52.52,821.94 53.34,820.57 54.15,819.19 54.96,817.77 55.77,816.33 56.58,814.86 57.39,813.34 58.21,811.77 59.02,810.17 59.83,808.56 60.64,806.94 61.45,805.33 62.27,803.75 63.08,802.20 63.89,800.71 64.70,799.21 65.51,797.67 66.33,796.12 67.14,794.59 67.95,793.09 68.76,791.66 69.57,790.32 70.39,789.09 71.20,788.00 72.01,787.07 72.82,786.16 73.63,785.29 74.44,784.50 75.26,783.83 76.07,783.32 76.88,783.00 77.69,782.84 78.50,782.72 79.32,782.63 80.13,782.56 80.94,782.49 81.75,782.40 82.56,782.28 83.38,782.12 84.19,781.73 85.00,781.02 85.81,780.10 86.62,779.10 87.43,778.11 88.25,777.27 89.06,776.68 89.87,776.46 90.68,776.72 91.49,777.42 92.31,778.43 93.12,779.64 93.93,780.91 94.74,782.13 95.55,783.16 96.37,783.89 97.18,784.37 97.99,784.77 98.80,785.11 99.61,785.40 100.42,785.68 101.24,785.97 102.05,786.29 102.86,786.66 103.67,787.11 104.48,787.67 105.30,788.44 106.11,789.40 106.92,790.51 107.73,791.72 108.54,793.00 109.36,794.29 110.17,795.55 110.98,796.76 111.79,798.00 112.60,799.28 113.41,800.60 114.23,801.94 115.04,803.28 115.85,804.61 116.66,805.92 117.47,807.20 118.29,808.43 119.10,809.64 119.91,810.89 120.72,812.15 121.53,813.41 122.34,814.63 123.16,815.80 123.97,816.88 124.78,817.86 125.59,818.72 126.40,819.42 127.22,820.05 128.03,820.65 128.84,821.22 129.65,821.74 130.46,822.22 131.28,822.66 132.09,823.04 132.90,823.36 133.71,823.63 134.52,823.84 135.34,824.04 136.15,824.22 136.96,824.37 137.77,824.50 138.58,824.57" fill="none" stroke="#1010ee" stroke-width="2.4" stroke-linejoin="round" stroke-linecap="round"/>
<polyline points="50.90,824.60 51.71,823.56 52.52,822.49 53.34,821.40 54.15,820.29 54.96,819.15 55.77,817.99 56.58,816.79 57.39,815.51 58.21,814.17 59.02,812.79 59.83,811.39 60.64,810.01 61.45,808.67 62.27,807.39 63.08,806.21 63.89,805.13 64.70,804.09 65.51,803.01 66.33,801.94 67.14,800.89 67.95,799.91 68.76,799.02 69.57,798.27 70.39,797.68 71.20,797.29 72.01,797.11 72.82,797.00 73.63,796.91 74.44,796.84 75.26,796.78 76.07,796.73 76.88,796.69 77.69,796.64 78.50,796.60 79.32,796.55 80.13,796.49 80.94,796.41 81.75,796.32 82.56,796.21 83.38,796.06 84.19,795.88 85.00,795.67 85.81,795.44 86.62,795.18 87.43,794.90 88.25,794.59 89.06,794.27 89.87,793.93 90.68,793.57 91.49,793.20 92.31,792.82 93.12,792.41 93.93,791.93 94.74,791.40 95.55,790.81 96.37,790.19 97.18,789.52 97.99,788.83 98.80,788.12 99.61,787.40 100.42,786.67 101.24,785.95 102.05,785.20 102.86,784.31 103.67,783.31 104.48,782.23 105.30,781.14 106.11,780.06 106.92,779.04 107.73,778.14 108.54,777.38 109.36,776.83 110.17,776.51 110.98,776.47 111.79,776.64 112.60,776.96 113.41,777.43 114.23,778.01 115.04,778.70 115.85,779.45 116.66,780.26 117.47,781.10 118.29,781.95 119.10,782.88 119.91,784.07 120.72,785.45 121.53,786.99 122.34,788.63 123.16,790.32 123.97,792.00 124.78,793.64 125.59,795.17 126.40,796.54 127.22,797.86 128.03,799.16 128.84,800.44 129.65,801.71 130.46,802.95 131.28,804.16 132.09,805.33 132.90,806.46 133.71,807.54 134.52,808.58 135.34,809.56 136.15,810.50 136.96,811.43 137.77,812.34 138.58,813.23 139.39,814.09 140.21,814.92 141.02,815.70 141.83,816.44 142.64,817.12 143.45,817.74 144.27,818.30 145.08,818.81 145.89,819.30 146.70,819.77 147.51,820.21 148.33,820.64 149.14,821.05 149.95,821.43 150.76,821.79 151.57,822.12 152.38,822.43 153.20,822.71 154.01,822.96 154.82,823.18 155.63,823.39 156.44,823.59 157.26,823.77 158.07,823.95 158.88,824.11 159.69,824.26 160.50,824.38 161.32,824.48 162.13,824.56" fill="none" stroke="#f01414" stroke-width="2.4" stroke-linejoin="round" stroke-linecap="round"/>
<polyline points="50.90,824.60 51.71,822.26 52.52,819.33 53.34,815.88 54.15,812.01 54.96,807.78 55.77,802.59 56.58,796.41 57.39,789.61 58.21,782.56 59.02,775.62 59.83,769.16 60.64,763.10 61.45,756.83 62.27,750.58 63.08,744.64 63.89,739.27 64.70,734.75 65.51,731.23 66.33,727.89 67.14,724.84 67.95,722.47 68.76,721.18 69.57,721.25 70.39,722.31 71.20,724.06 72.01,726.24 72.82,728.56 73.63,731.12 74.44,734.41 75.26,738.27 76.07,742.50 76.88,746.90 77.69,751.27 78.50,755.48 79.32,759.92 80.13,764.57 80.94,769.27 81.75,773.86 82.56,778.19 83.38,782.12 84.19,785.77 85.00,789.34 85.81,792.81 86.62,796.11 87.43,799.22 88.25,802.08 89.06,804.66 89.87,806.90 90.68,808.93 91.49,810.88 92.31,812.72 93.12,814.42 93.93,815.95 94.74,817.29 95.55,818.41 96.37,819.29 97.18,820.01 97.99,820.68 98.80,821.30 99.61,821.87 100.42,822.37 101.24,822.82 102.05,823.21 102.86,823.52 103.67,823.78 104.48,823.96 105.30,824.13 106.11,824.28 106.92,824.41 107.73,824.51" fill="none" stroke="#44f024" stroke-width="2.4" stroke-linejoin="round" stroke-linecap="round"/>
<path d="M50.9,718.4 L50.9,824.6 L180.8,824.6" fill="none" stroke="#333" stroke-width="1"/>
<text x="45.9" y="722.4" font-size="11" font-weight="bold" text-anchor="end" stroke="#111" stroke-width="0.28" stroke-linejoin="round" >6</text>
<text x="45.9" y="775.5" font-size="11" font-weight="bold" text-anchor="end" stroke="#111" stroke-width="0.28" stroke-linejoin="round" >3</text>
<text x="45.9" y="828.6" font-size="11" font-weight="bold" text-anchor="end" stroke="#111" stroke-width="0.28" stroke-linejoin="round" >0</text>
<path d="M48.9,718.40 L50.9,718.40 M48.9,771.50 L50.9,771.50 M48.9,824.60 L50.9,824.60 M115.85,824.6 L115.85,826.6 M180.8,824.6 L180.8,826.6" stroke="#333" stroke-width="1" fill="none"/>
<text x="120.8" y="840.0" font-size="11" font-weight="bold" text-anchor="middle" stroke="#111" stroke-width="0.28" stroke-linejoin="round" >0.5</text>
<text x="180.0" y="840.0" font-size="11" font-weight="bold" text-anchor="middle" stroke="#111" stroke-width="0.28" stroke-linejoin="round" >1</text>
</g>
<g>
<g style="" fill="#6474f0" fill-opacity="1.0" stroke="#2c38b4" stroke-width="0.75" stroke-opacity="0.9"><rect x="386.40" y="816.19" width="2.93" height="9.81"/><rect x="389.33" y="812.23" width="2.93" height="13.77"/><rect x="392.26" y="807.45" width="2.93" height="18.55"/><rect x="395.20" y="801.56" width="2.93" height="24.44"/><rect x="398.13" y="795.19" width="2.93" height="30.81"/><rect x="401.06" y="788.26" width="2.93" height="37.74"/><rect x="403.99" y="777.58" width="2.93" height="48.42"/><rect x="406.92" y="769.78" width="2.93" height="56.22"/><rect x="409.85" y="761.33" width="2.93" height="64.67"/><rect x="412.79" y="754.56" width="2.93" height="71.44"/><rect x="415.72" y="748.71" width="2.93" height="77.29"/><rect x="418.65" y="745.38" width="2.93" height="80.62"/><rect x="421.58" y="740.47" width="2.93" height="85.53"/><rect x="424.51" y="739.60" width="2.93" height="86.40"/><rect x="427.45" y="741.75" width="2.93" height="84.25"/><rect x="430.38" y="747.03" width="2.93" height="78.97"/><rect x="433.31" y="752.97" width="2.93" height="73.03"/><rect x="436.24" y="754.81" width="2.93" height="71.19"/><rect x="439.17" y="767.89" width="2.93" height="58.11"/><rect x="442.10" y="776.48" width="2.93" height="49.52"/><rect x="445.04" y="785.35" width="2.93" height="40.65"/><rect x="447.97" y="789.26" width="2.93" height="36.74"/><rect x="450.90" y="800.68" width="2.93" height="25.32"/><rect x="453.83" y="807.26" width="2.93" height="18.74"/><rect x="456.76" y="813.28" width="2.93" height="12.72"/><rect x="459.70" y="817.78" width="2.93" height="8.22"/><rect x="462.63" y="820.91" width="2.93" height="5.09"/><rect x="465.56" y="822.94" width="2.93" height="3.06"/><rect x="468.49" y="824.70" width="2.93" height="1.30"/><rect x="471.42" y="825.47" width="2.93" height="0.53"/></g>
<g style="mix-blend-mode:multiply;" fill="#58cc5c" fill-opacity="1.0" stroke="#278232" stroke-width="0.75" stroke-opacity="0.9"><rect x="386.40" y="824.31" width="2.93" height="1.69"/><rect x="389.33" y="818.15" width="2.93" height="7.85"/><rect x="392.26" y="808.59" width="2.93" height="17.41"/><rect x="395.20" y="796.27" width="2.93" height="29.73"/><rect x="398.13" y="781.02" width="2.93" height="44.98"/><rect x="401.06" y="760.75" width="2.93" height="65.25"/><rect x="403.99" y="748.10" width="2.93" height="77.90"/><rect x="406.92" y="734.85" width="2.93" height="91.15"/><rect x="409.85" y="733.60" width="2.93" height="92.40"/><rect x="412.79" y="732.82" width="2.93" height="93.18"/><rect x="415.72" y="729.32" width="2.93" height="96.68"/><rect x="418.65" y="736.06" width="2.93" height="89.94"/><rect x="421.58" y="735.01" width="2.93" height="90.99"/><rect x="424.51" y="742.28" width="2.93" height="83.72"/><rect x="427.45" y="752.25" width="2.93" height="73.75"/><rect x="430.38" y="767.61" width="2.93" height="58.39"/><rect x="433.31" y="776.18" width="2.93" height="49.82"/><rect x="436.24" y="785.21" width="2.93" height="40.79"/><rect x="439.17" y="794.42" width="2.93" height="31.58"/><rect x="442.10" y="801.83" width="2.93" height="24.17"/><rect x="445.04" y="809.31" width="2.93" height="16.69"/><rect x="447.97" y="814.22" width="2.93" height="11.78"/><rect x="450.90" y="817.75" width="2.93" height="8.25"/><rect x="453.83" y="821.08" width="2.93" height="4.92"/><rect x="456.76" y="823.45" width="2.93" height="2.55"/><rect x="459.70" y="825.06" width="2.93" height="0.94"/></g>
<g style="" fill="#f60c0c" fill-opacity="0.64" stroke="#8a0c0c" stroke-width="0.75" stroke-opacity="0.9"><rect x="386.40" y="806.50" width="2.93" height="19.50"/><rect x="389.33" y="793.14" width="2.93" height="32.86"/><rect x="392.26" y="782.48" width="2.93" height="43.52"/><rect x="395.20" y="775.40" width="2.93" height="50.60"/><rect x="398.13" y="783.14" width="2.93" height="42.86"/><rect x="401.06" y="786.82" width="2.93" height="39.18"/><rect x="403.99" y="787.56" width="2.93" height="38.44"/><rect x="406.92" y="786.02" width="2.93" height="39.98"/><rect x="409.85" y="781.90" width="2.93" height="44.10"/><rect x="412.79" y="775.48" width="2.93" height="50.52"/><rect x="415.72" y="776.04" width="2.93" height="49.96"/><rect x="418.65" y="768.03" width="2.93" height="57.97"/><rect x="421.58" y="767.50" width="2.93" height="58.50"/><rect x="424.51" y="761.60" width="2.93" height="64.40"/><rect x="427.45" y="759.43" width="2.93" height="66.57"/><rect x="430.38" y="763.66" width="2.93" height="62.34"/><rect x="433.31" y="758.53" width="2.93" height="67.47"/><rect x="436.24" y="760.48" width="2.93" height="65.52"/><rect x="439.17" y="767.86" width="2.93" height="58.14"/><rect x="442.10" y="768.81" width="2.93" height="57.19"/><rect x="445.04" y="773.48" width="2.93" height="52.52"/><rect x="447.97" y="783.29" width="2.93" height="42.71"/><rect x="450.90" y="793.36" width="2.93" height="32.64"/><rect x="453.83" y="798.83" width="2.93" height="27.17"/><rect x="456.76" y="805.11" width="2.93" height="20.89"/><rect x="459.70" y="810.87" width="2.93" height="15.13"/><rect x="462.63" y="813.53" width="2.93" height="12.47"/><rect x="465.56" y="817.01" width="2.93" height="8.99"/><rect x="468.49" y="819.64" width="2.93" height="6.36"/><rect x="471.42" y="821.00" width="2.93" height="5.00"/><rect x="474.35" y="822.35" width="2.93" height="3.65"/><rect x="477.29" y="823.24" width="2.93" height="2.76"/><rect x="480.22" y="823.70" width="2.93" height="2.30"/><rect x="483.15" y="824.11" width="2.93" height="1.89"/><rect x="486.08" y="824.40" width="2.93" height="1.60"/><rect x="489.01" y="824.80" width="2.93" height="1.20"/><rect x="491.95" y="824.97" width="2.93" height="1.03"/><rect x="494.88" y="825.21" width="2.93" height="0.79"/><rect x="497.81" y="825.46" width="2.93" height="0.54"/></g>
<polyline points="386.40,817.98 387.21,817.32 388.01,816.55 388.82,815.66 389.62,814.68 390.43,813.60 391.24,812.44 392.04,811.22 392.85,809.95 393.66,808.54 394.46,806.95 395.27,805.19 396.07,803.32 396.88,801.35 397.69,799.32 398.49,797.27 399.30,795.24 400.11,793.15 400.91,790.96 401.72,788.67 402.52,786.33 403.33,783.94 404.14,781.55 404.94,779.16 405.75,776.81 406.56,774.52 407.36,772.32 408.17,770.23 408.97,768.20 409.78,766.13 410.59,764.03 411.39,761.95 412.20,759.91 413.01,757.93 413.81,756.06 414.62,754.31 415.42,752.73 416.23,751.33 417.04,750.16 417.84,749.19 418.65,748.25 419.46,747.32 420.26,746.43 421.07,745.59 421.88,744.82 422.68,744.14 423.49,743.55 424.29,743.09 425.10,742.75 425.91,742.57 426.71,742.56 427.52,742.80 428.32,743.28 429.13,743.95 429.94,744.77 430.74,745.72 431.55,746.73 432.36,747.79 433.16,748.87 433.97,750.22 434.77,751.84 435.58,753.68 436.39,755.71 437.19,757.86 438.00,760.09 438.81,762.34 439.61,764.57 440.42,766.73 441.22,768.84 442.03,771.01 442.84,773.22 443.64,775.48 444.45,777.76 445.26,780.04 446.06,782.32 446.87,784.58 447.67,786.81 448.48,788.98 449.29,791.19 450.09,793.44 450.90,795.70 451.71,797.96 452.51,800.17 453.32,802.30 454.12,804.33 454.93,806.23 455.74,807.97 456.54,809.55 457.35,811.09 458.16,812.60 458.96,814.05 459.77,815.42 460.57,816.71 461.38,817.89 462.19,818.96 462.99,819.88 463.80,820.65 464.61,821.32 465.41,821.96 466.22,822.56 467.02,823.11 467.83,823.62 468.64,824.07 469.44,824.47 470.25,824.80 471.06,825.07 471.86,825.27 472.67,825.46 473.47,825.63 474.28,825.78 475.09,825.90 475.89,825.97" fill="none" stroke="#1010ee" stroke-width="2.4" stroke-linejoin="round" stroke-linecap="round"/>
<polyline points="386.40,815.30 387.21,811.03 388.01,806.92 388.82,803.00 389.62,799.32 390.43,795.90 391.24,792.31 392.04,788.53 392.85,784.83 393.66,781.48 394.46,778.75 395.27,776.92 396.07,776.25 396.88,776.90 397.69,778.56 398.49,780.78 399.30,783.10 400.11,785.06 400.91,786.31 401.72,787.39 402.52,788.39 403.33,789.16 404.14,789.58 404.94,789.54 405.75,789.06 406.56,788.23 407.36,787.12 408.17,785.82 408.97,784.41 409.78,782.96 410.59,781.55 411.39,780.27 412.20,779.19 413.01,778.24 413.81,777.29 414.62,776.35 415.42,775.42 416.23,774.51 417.04,773.63 417.84,772.76 418.65,771.93 419.46,771.13 420.26,770.37 421.07,769.65 421.88,768.99 422.68,768.37 423.49,767.75 424.29,767.12 425.10,766.48 425.91,765.85 426.71,765.23 427.52,764.63 428.32,764.06 429.13,763.54 429.94,763.07 430.74,762.65 431.55,762.31 432.36,762.05 433.16,761.88 433.97,761.80 434.77,761.86 435.58,762.10 436.39,762.50 437.19,763.04 438.00,763.71 438.81,764.49 439.61,765.36 440.42,766.31 441.22,767.31 442.03,768.34 442.84,769.40 443.64,770.53 444.45,771.97 445.26,773.70 446.06,775.66 446.87,777.77 447.67,779.98 448.48,782.23 449.29,784.45 450.09,786.57 450.90,788.55 451.71,790.46 452.51,792.41 453.32,794.37 454.12,796.33 454.93,798.25 455.74,800.11 456.54,801.89 457.35,803.56 458.16,805.09 458.96,806.48 459.77,807.82 460.57,809.14 461.38,810.43 462.19,811.66 462.99,812.84 463.80,813.95 464.61,814.98 465.41,815.92 466.22,816.76 467.02,817.48 467.83,818.09 468.64,818.63 469.44,819.16 470.25,819.66 471.06,820.13 471.86,820.58 472.67,821.00 473.47,821.39 474.28,821.76 475.09,822.09 475.89,822.40 476.70,822.67 477.51,822.91 478.31,823.12 479.12,823.29 479.92,823.44 480.73,823.58 481.54,823.71 482.34,823.84 483.15,823.95 483.96,824.06 484.76,824.16 485.57,824.26 486.38,824.35 487.18,824.44 487.99,824.52 488.79,824.60 489.60,824.67 490.41,824.74 491.21,824.81 492.02,824.88 492.82,824.94 493.63,825.01 494.44,825.07 495.24,825.13 496.05,825.20 496.86,825.26 497.66,825.32 498.47,825.38 499.27,825.44 500.08,825.50 500.89,825.55 501.69,825.61 502.50,825.66 503.31,825.71 504.11,825.76 504.92,825.80 505.72,825.85" fill="none" stroke="#f01414" stroke-width="2.4" stroke-linejoin="round" stroke-linecap="round"/>
<polyline points="386.40,826.00 387.21,825.20 388.01,824.09 388.82,822.72 389.62,821.12 390.43,819.34 391.24,817.43 392.04,815.36 392.85,812.86 393.66,809.99 394.46,806.78 395.27,803.31 396.07,799.63 396.88,795.78 397.69,791.34 398.49,786.28 399.30,780.88 400.11,775.40 400.91,770.14 401.72,765.35 402.52,760.98 403.33,756.57 404.14,752.26 404.94,748.24 405.75,744.68 406.56,741.77 407.36,739.60 408.17,737.62 408.97,735.73 409.78,733.99 410.59,732.46 411.39,731.21 412.20,730.30 413.01,729.79 413.81,729.71 414.62,729.80 415.42,729.99 416.23,730.26 417.04,730.61 417.84,731.03 418.65,731.51 419.46,732.04 420.26,732.65 421.07,733.75 421.88,735.35 422.68,737.32 423.49,739.58 424.29,742.02 425.10,744.53 425.91,747.00 426.71,749.37 427.52,751.89 428.32,754.59 429.13,757.42 429.94,760.33 430.74,763.29 431.55,766.25 432.36,769.16 433.16,771.98 433.97,774.66 434.77,777.22 435.58,779.78 436.39,782.31 437.19,784.81 438.00,787.26 438.81,789.65 439.61,791.97 440.42,794.19 441.22,796.30 442.03,798.30 442.84,800.25 443.64,802.16 444.45,804.02 445.26,805.82 446.06,807.55 446.87,809.19 447.67,810.73 448.48,812.17 449.29,813.48 450.09,814.67 450.90,815.81 451.71,816.91 452.51,817.96 453.32,818.95 454.12,819.87 454.93,820.72 455.74,821.50 456.54,822.19 457.35,822.79 458.16,823.33 458.96,823.85 459.77,824.34 460.57,824.78 461.38,825.18 462.19,825.52 462.99,825.80 463.80,826.00" fill="none" stroke="#44f024" stroke-width="2.4" stroke-linejoin="round" stroke-linecap="round"/>
<path d="M386.4,719.0 L386.4,826.0 L515.4,826.0" fill="none" stroke="#333" stroke-width="1"/>
<text x="381.4" y="723.0" font-size="11" font-weight="bold" text-anchor="end" stroke="#111" stroke-width="0.28" stroke-linejoin="round" >4</text>
<text x="381.4" y="776.5" font-size="11" font-weight="bold" text-anchor="end" stroke="#111" stroke-width="0.28" stroke-linejoin="round" >2</text>
<text x="381.4" y="830.0" font-size="11" font-weight="bold" text-anchor="end" stroke="#111" stroke-width="0.28" stroke-linejoin="round" >0</text>
<path d="M384.4,719.00 L386.4,719.00 M384.4,772.50 L386.4,772.50 M384.4,826.00 L386.4,826.00 M450.90,826.0 L450.90,828.0 M515.4,826.0 L515.4,828.0" stroke="#333" stroke-width="1" fill="none"/>
<text x="451.1" y="841.4" font-size="11" font-weight="bold" text-anchor="middle" stroke="#111" stroke-width="0.28" stroke-linejoin="round" >0.5</text>
<text x="513.0" y="841.4" font-size="11" font-weight="bold" text-anchor="middle" stroke="#111" stroke-width="0.28" stroke-linejoin="round" >1</text>
</g>
<rect x="66.6" y="851.8" width="18.4" height="11" fill="#c81414" stroke="#5a0a0a" stroke-width="0.8"/>
<text x="89.6" y="862.0" font-size="12.6" font-weight="normal" text-anchor="start" >Restricted fraction</text>
<rect x="225.4" y="851.8" width="18.4" height="11" fill="#1f78d2" stroke="#0a3060" stroke-width="0.8"/>
<text x="248.4" y="862.0" font-size="12.6" font-weight="normal" text-anchor="start" >Hindered fraction</text>
<rect x="373.6" y="851.8" width="18.4" height="11" fill="#1fb45a" stroke="#0a5028" stroke-width="0.8"/>
<text x="398.2" y="862.0" font-size="12.6" font-weight="normal" text-anchor="start" >Anisotropic fraction</text>
</g>
</svg></body></html>
